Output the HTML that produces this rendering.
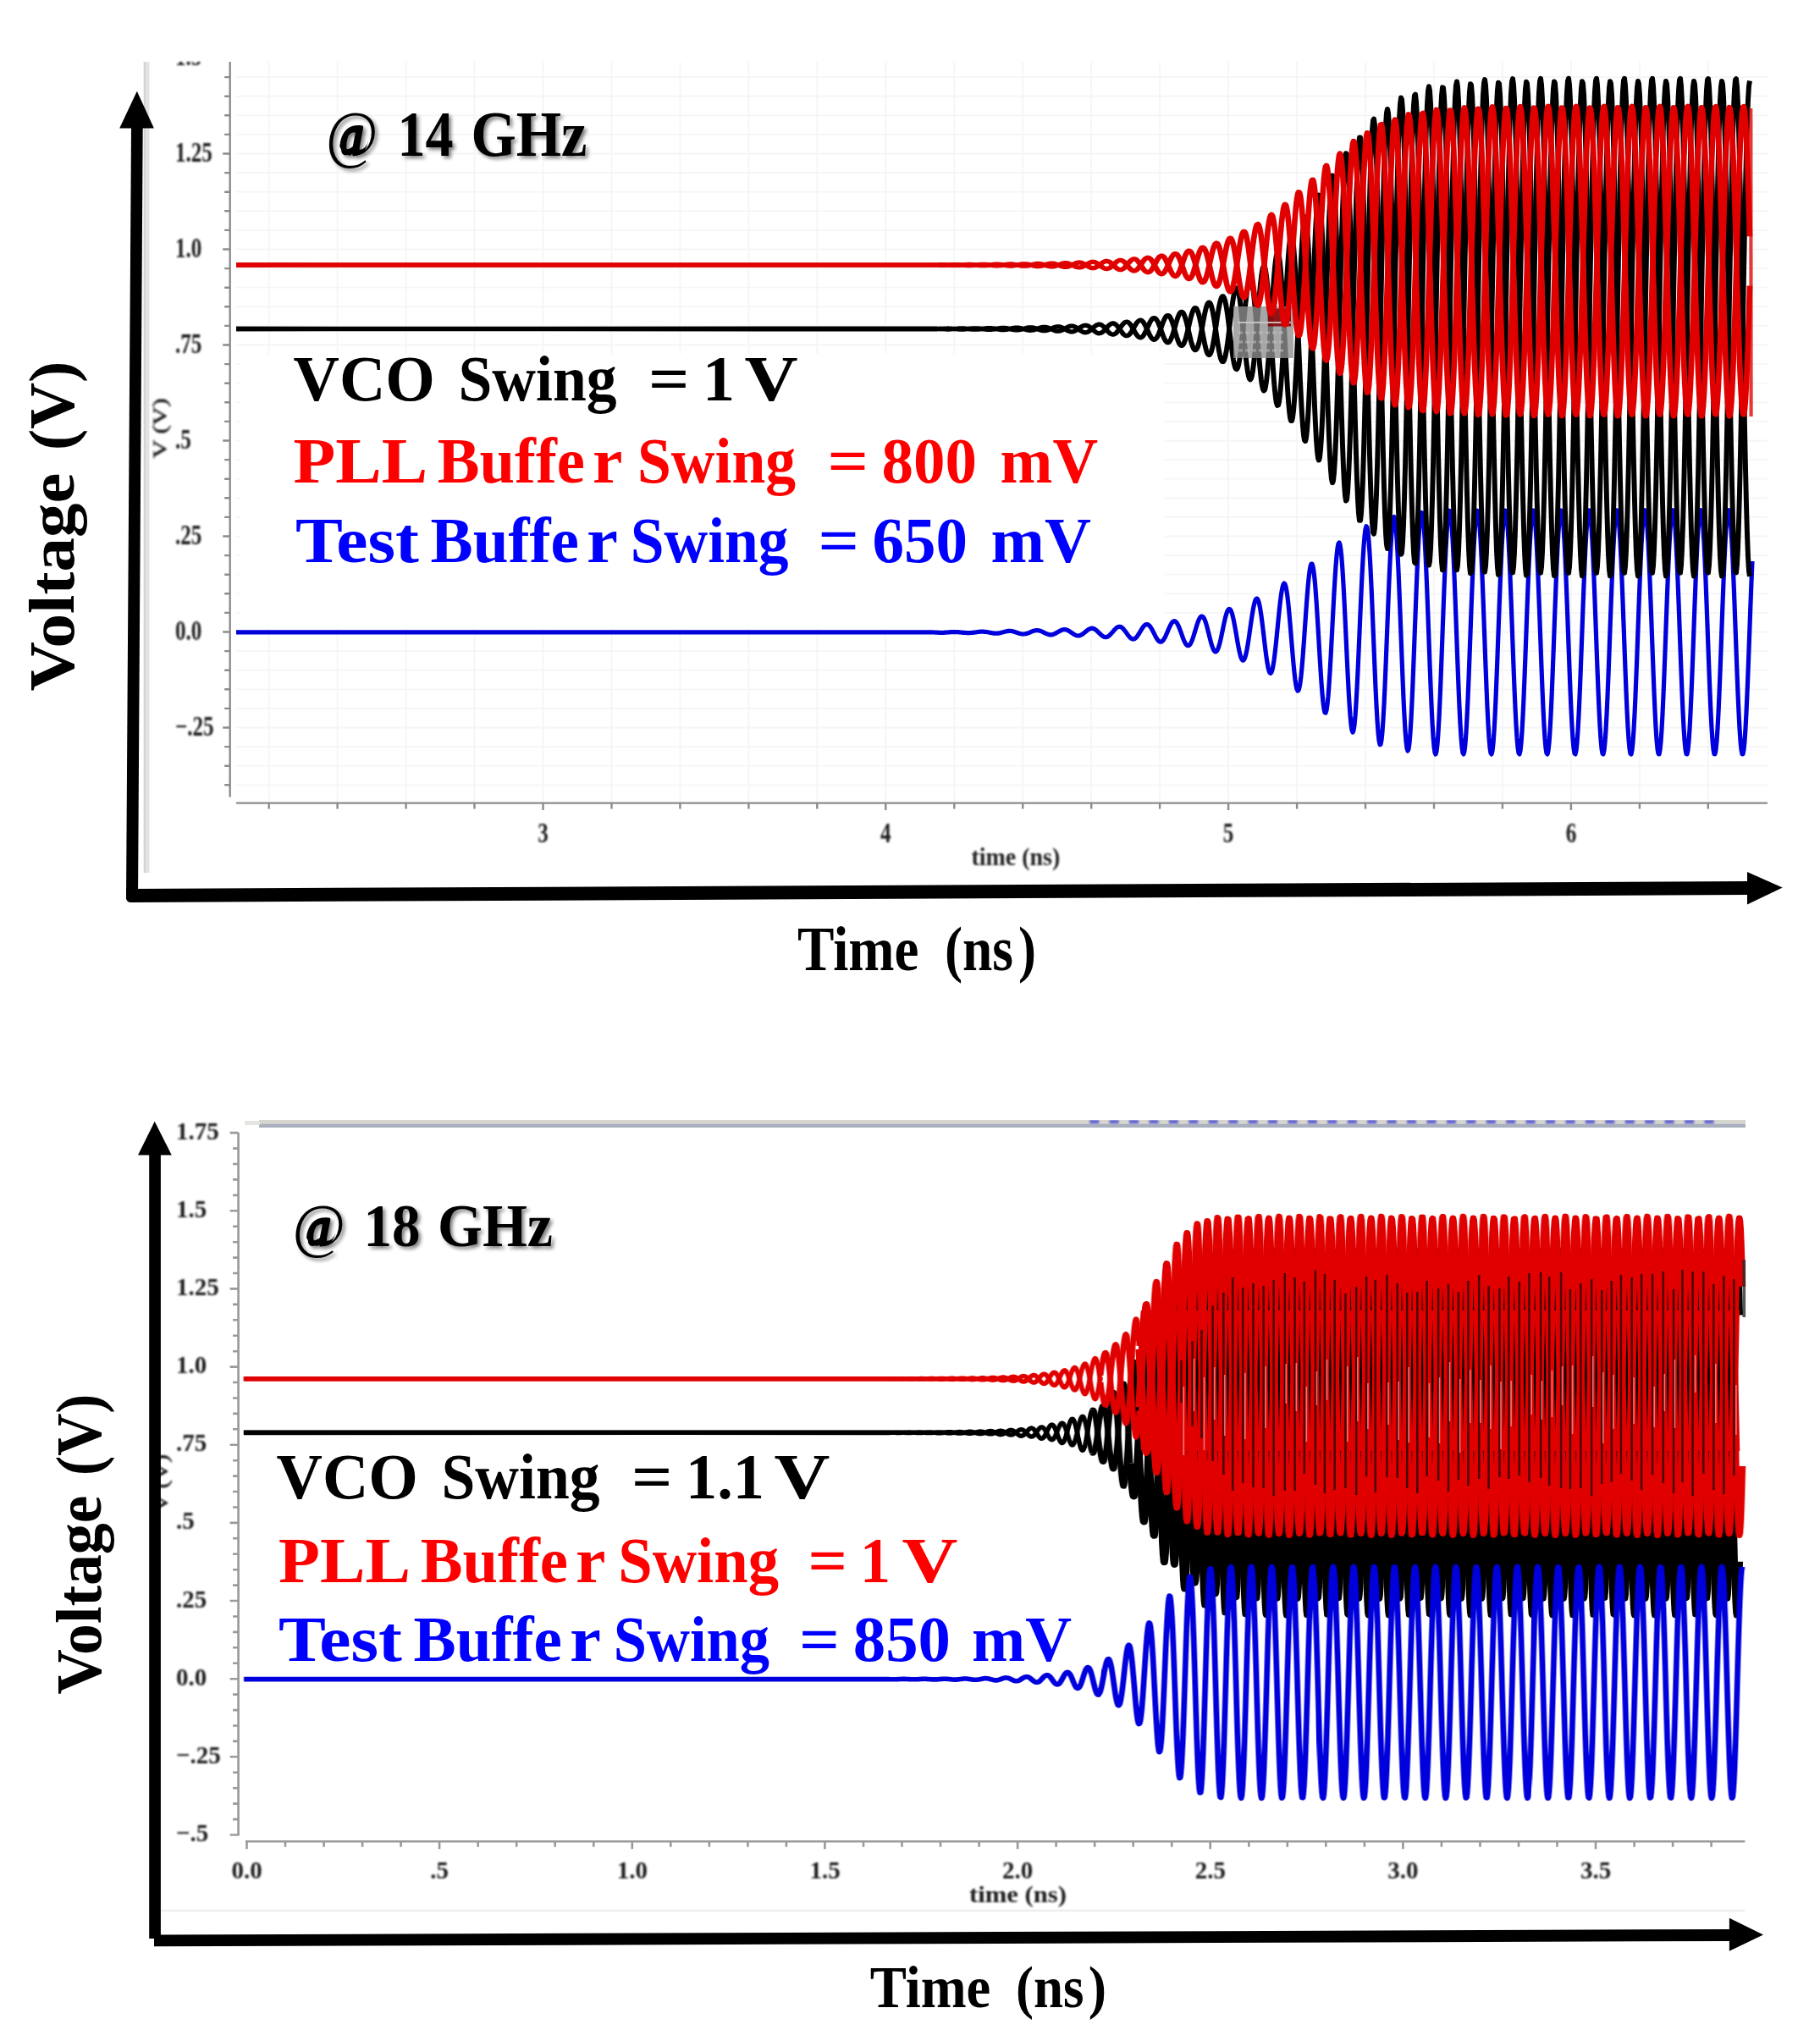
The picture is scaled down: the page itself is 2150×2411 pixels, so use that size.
<!DOCTYPE html>
<html lang="en"><head><meta charset="utf-8"><title>VCO and buffer swing transient simulation</title>
<style>html,body{margin:0;padding:0;background:#fff}svg{display:block}text{font-family:"Liberation Serif", "DejaVu Serif", serif;}</style></head><body>
<svg width="2150" height="2411" viewBox="0 0 2150 2411">
<defs><filter id="b1" x="-5%" y="-5%" width="110%" height="110%"><feGaussianBlur stdDeviation="0.9"/></filter><filter id="b2" x="-5%" y="-5%" width="110%" height="110%"><feGaussianBlur stdDeviation="0.7"/></filter><filter id="sh" x="-10%" y="-20%" width="120%" height="150%"><feGaussianBlur in="SourceAlpha" stdDeviation="1.9" result="b"/><feOffset in="b" dx="3.2" dy="3.2" result="o"/><feComponentTransfer in="o" result="s"><feFuncA type="linear" slope="0.5"/></feComponentTransfer><feMerge><feMergeNode in="s"/><feMergeNode in="SourceGraphic"/></feMerge></filter><clipPath id="cliptop"><rect x="150" y="73" width="200" height="40"/></clipPath></defs>
<rect width="2150" height="2411" fill="#fff"/>
<g id="chart14">
<rect x="169.5" y="73" width="7" height="958" fill="#e3e3e3"/>
<rect x="170" y="73" width="2" height="958" fill="#d4d4d4"/>
<path d="M279.0 927.3H2088.0M279.0 904.7H2088.0M279.0 882.1H2088.0M279.0 859.5H2088.0M279.0 836.9H2088.0M279.0 814.3H2088.0M279.0 791.7H2088.0M279.0 769.1H2088.0M279.0 746.5H2088.0M279.0 723.9H2088.0M279.0 701.3H2088.0M279.0 678.7H2088.0M279.0 656.1H2088.0M279.0 633.5H2088.0M279.0 610.9H2088.0M279.0 588.3H2088.0M279.0 565.7H2088.0M279.0 543.1H2088.0M279.0 520.5H2088.0M279.0 497.9H2088.0M279.0 475.3H2088.0M279.0 452.7H2088.0M279.0 430.1H2088.0M279.0 407.5H2088.0M279.0 384.9H2088.0M279.0 362.3H2088.0M279.0 339.7H2088.0M279.0 317.1H2088.0M279.0 294.5H2088.0M279.0 271.9H2088.0M279.0 249.3H2088.0M279.0 226.7H2088.0M279.0 204.1H2088.0M279.0 181.5H2088.0M279.0 158.9H2088.0M279.0 136.3H2088.0M279.0 113.7H2088.0M279.0 91.1H2088.0M317.7 73.0V948.6M398.6 73.0V948.6M479.6 73.0V948.6M560.5 73.0V948.6M641.5 73.0V948.6M722.5 73.0V948.6M803.4 73.0V948.6M884.4 73.0V948.6M965.3 73.0V948.6M1046.3 73.0V948.6M1127.3 73.0V948.6M1208.2 73.0V948.6M1289.2 73.0V948.6M1370.1 73.0V948.6M1451.1 73.0V948.6M1532.1 73.0V948.6M1613.0 73.0V948.6M1694.0 73.0V948.6M1774.9 73.0V948.6M1855.9 73.0V948.6M1936.9 73.0V948.6M2017.8 73.0V948.6" stroke="#f5f5f5" stroke-width="1.8" fill="none" filter="url(#b2)"/>
<rect x="284" y="418" width="1092" height="324" fill="#fff"/>
<path d="M271.7 73.0V941.5M279.0 948.6H2088.0M265.2 927.3H271.7M265.2 904.7H271.7M265.2 882.1H271.7M263.2 859.5H271.7M265.2 836.9H271.7M265.2 814.3H271.7M265.2 791.7H271.7M265.2 769.1H271.7M263.2 746.5H271.7M265.2 723.9H271.7M265.2 701.3H271.7M265.2 678.7H271.7M265.2 656.1H271.7M263.2 633.5H271.7M265.2 610.9H271.7M265.2 588.3H271.7M265.2 565.7H271.7M265.2 543.1H271.7M263.2 520.5H271.7M265.2 497.9H271.7M265.2 475.3H271.7M265.2 452.7H271.7M265.2 430.1H271.7M263.2 407.5H271.7M265.2 384.9H271.7M265.2 362.3H271.7M265.2 339.7H271.7M265.2 317.1H271.7M263.2 294.5H271.7M265.2 271.9H271.7M265.2 249.3H271.7M265.2 226.7H271.7M265.2 204.1H271.7M263.2 181.5H271.7M265.2 158.9H271.7M265.2 136.3H271.7M265.2 113.7H271.7M265.2 91.1H271.7M317.7 948.6v7M398.6 948.6v7M479.6 948.6v7M560.5 948.6v7M641.5 948.6v8.5M722.5 948.6v7M803.4 948.6v7M884.4 948.6v7M965.3 948.6v7M1046.3 948.6v8.5M1127.3 948.6v7M1208.2 948.6v7M1289.2 948.6v7M1370.1 948.6v7M1451.1 948.6v8.5M1532.1 948.6v7M1613.0 948.6v7M1694.0 948.6v7M1774.9 948.6v7M1855.9 948.6v8.5M1936.9 948.6v7M2017.8 948.6v7" stroke="#8c8c8c" stroke-width="2.4" fill="none" filter="url(#b2)"/>
<g fill="#1c1c1c" font-weight="bold" font-size="33" filter="url(#b1)">
<text transform="translate(207 190.5) scale(0.76 1)">1.25</text>
<text transform="translate(207 303.5) scale(0.76 1)">1.0</text>
<text transform="translate(207 416.5) scale(0.76 1)">.75</text>
<text transform="translate(207 529.5) scale(0.76 1)">.5</text>
<text transform="translate(207 642.5) scale(0.76 1)">.25</text>
<text transform="translate(207 755.5) scale(0.76 1)">0.0</text>
<text transform="translate(207 868.5) scale(0.76 1)">−.25</text>
<g clip-path="url(#cliptop)"><text transform="translate(207 77) scale(0.76 1)">1.5</text></g>
<text transform="translate(641.5 994.5) scale(0.76 1)" text-anchor="middle">3</text>
<text transform="translate(1046.3 994.5) scale(0.76 1)" text-anchor="middle">4</text>
<text transform="translate(1451.1 994.5) scale(0.76 1)" text-anchor="middle">5</text>
<text transform="translate(1855.9 994.5) scale(0.76 1)" text-anchor="middle">6</text>
</g>
<g fill="#222" filter="url(#b1)">
<text transform="translate(1147.5 1021.5) scale(0.8 1)" font-size="30" font-weight="bold" textLength="131" lengthAdjust="spacingAndGlyphs">time (ns)</text>
<text transform="translate(196.5 541.5) rotate(-90)" font-size="23" fill="#111" stroke="#111" stroke-width="0.5" textLength="71" lengthAdjust="spacingAndGlyphs">V (V)</text>
</g>
<g fill="none" stroke-linejoin="round" stroke-linecap="butt" filter="url(#b2)">
<path transform="scale(1.0 1)" d="M279.00 746.8L1100.00 746.9L1101.00 746.9L1102.00 746.9L1103.00 747.0L1104.00 747.0L1105.00 747.1L1106.00 747.2L1107.00 747.2L1108.00 747.2L1109.00 747.3L1110.00 747.3L1111.00 747.3L1112.00 747.3L1113.00 747.3L1114.00 747.3L1115.00 747.3L1116.00 747.2L1117.00 747.2L1118.00 747.1L1119.00 747.0L1120.00 746.9L1121.00 746.9L1122.00 746.8L1123.00 746.7L1124.00 746.7L1125.00 746.6L1126.00 746.6L1127.00 746.6L1128.00 746.6L1129.00 746.6L1130.00 746.6L1131.00 746.6L1132.00 746.7L1133.00 746.8L1134.00 746.9L1135.00 747.0L1136.00 747.1L1137.00 747.2L1138.00 747.3L1139.00 747.4L1140.00 747.4L1141.00 747.5L1142.00 747.6L1143.00 747.6L1144.00 747.6L1145.00 747.6L1146.00 747.6L1147.00 747.5L1148.00 747.4L1149.00 747.3L1150.00 747.2L1151.00 747.1L1152.00 747.0L1153.00 746.8L1154.00 746.7L1155.00 746.5L1156.00 746.4L1157.00 746.3L1158.00 746.2L1159.00 746.2L1160.00 746.1L1161.00 746.1L1162.00 746.2L1163.00 746.3L1164.00 746.4L1165.00 746.5L1166.00 746.6L1167.00 746.8L1168.00 747.0L1169.00 747.2L1170.00 747.4L1171.00 747.6L1172.00 747.8L1173.00 747.9L1174.00 748.1L1175.00 748.1L1176.00 748.2L1177.00 748.2L1178.00 748.2L1179.00 748.1L1180.00 747.9L1181.00 747.8L1182.00 747.6L1183.00 747.3L1184.00 747.0L1185.00 746.8L1186.00 746.5L1187.00 746.2L1188.00 746.0L1189.00 745.7L1190.00 745.6L1191.00 745.4L1192.00 745.3L1193.00 745.3L1194.00 745.4L1195.00 745.5L1196.00 745.7L1197.00 745.9L1198.00 746.2L1199.00 746.5L1200.00 746.9L1201.00 747.2L1202.00 747.6L1203.00 747.9L1204.00 748.2L1205.00 748.5L1206.00 748.7L1207.00 748.9L1208.00 749.0L1209.00 749.0L1210.00 749.0L1211.00 748.8L1212.00 748.6L1213.00 748.4L1214.00 748.0L1215.00 747.7L1216.00 747.3L1217.00 746.8L1218.00 746.4L1219.00 746.0L1220.00 745.6L1221.00 745.3L1222.00 745.0L1223.00 744.8L1224.00 744.7L1225.00 744.6L1226.00 744.7L1227.00 744.8L1228.00 745.0L1229.00 745.3L1230.00 745.7L1231.00 746.1L1232.00 746.6L1233.00 747.1L1234.00 747.6L1235.00 748.1L1236.00 748.5L1237.00 749.0L1238.00 749.3L1239.00 749.6L1240.00 749.8L1241.00 749.8L1242.00 749.8L1243.00 749.7L1244.00 749.4L1245.00 749.1L1246.00 748.7L1247.00 748.2L1248.00 747.6L1249.00 747.0L1250.00 746.4L1251.00 745.9L1252.00 745.3L1253.00 744.8L1254.00 744.3L1255.00 744.0L1256.00 743.8L1257.00 743.6L1258.00 743.6L1259.00 743.8L1260.00 744.0L1261.00 744.4L1262.00 744.9L1263.00 745.5L1264.00 746.1L1265.00 746.8L1266.00 747.5L1267.00 748.2L1268.00 748.9L1269.00 749.5L1270.00 750.0L1271.00 750.5L1272.00 750.8L1273.00 751.0L1274.00 751.0L1275.00 750.9L1276.00 750.6L1277.00 750.2L1278.00 749.6L1279.00 749.0L1280.00 748.2L1281.00 747.4L1282.00 746.6L1283.00 745.7L1284.00 744.9L1285.00 744.2L1286.00 743.5L1287.00 743.0L1288.00 742.6L1289.00 742.3L1290.00 742.2L1291.00 742.3L1292.00 742.6L1293.00 743.1L1294.00 743.7L1295.00 744.5L1296.00 745.3L1297.00 746.3L1298.00 747.3L1299.00 748.3L1300.00 749.2L1301.00 750.2L1302.00 751.0L1303.00 751.7L1304.00 752.2L1305.00 752.5L1306.00 752.7L1307.00 752.6L1308.00 752.3L1309.00 751.8L1310.00 751.1L1311.00 750.2L1312.00 749.2L1313.00 748.1L1314.00 747.0L1315.00 745.8L1316.00 744.6L1317.00 743.5L1318.00 742.5L1319.00 741.6L1320.00 741.0L1321.00 740.5L1322.00 740.3L1323.00 740.3L1324.00 740.6L1325.00 741.2L1326.00 741.9L1327.00 742.9L1328.00 744.1L1329.00 745.3L1330.00 746.7L1331.00 748.1L1332.00 749.6L1333.00 750.9L1334.00 752.1L1335.00 753.2L1336.00 754.0L1337.00 754.6L1338.00 754.9L1339.00 755.0L1340.00 754.7L1341.00 754.1L1342.00 753.3L1343.00 752.2L1344.00 750.8L1345.00 749.3L1346.00 747.7L1347.00 746.0L1348.00 744.3L1349.00 742.7L1350.00 741.2L1351.00 739.9L1352.00 738.9L1353.00 738.1L1354.00 737.6L1355.00 737.5L1356.00 737.8L1357.00 738.4L1358.00 739.3L1359.00 740.6L1360.00 742.1L1361.00 743.8L1362.00 745.7L1363.00 747.7L1364.00 749.7L1365.00 751.7L1366.00 753.5L1367.00 755.1L1368.00 756.4L1369.00 757.4L1370.00 758.0L1371.00 758.3L1372.00 758.1L1373.00 757.4L1374.00 756.4L1375.00 755.0L1376.00 753.3L1377.00 751.3L1378.00 749.0L1379.00 746.7L1380.00 744.3L1381.00 742.0L1382.00 739.8L1383.00 737.8L1384.00 736.2L1385.00 734.9L1386.00 734.1L1387.00 733.7L1388.00 733.8L1389.00 734.4L1390.00 735.5L1391.00 737.1L1392.00 739.1L1393.00 741.4L1394.00 744.0L1395.00 746.7L1396.00 749.5L1397.00 752.3L1398.00 755.0L1399.00 757.4L1400.00 759.4L1401.00 761.0L1402.00 762.1L1403.00 762.7L1404.00 762.7L1405.00 762.2L1406.00 761.0L1407.00 759.2L1408.00 757.0L1409.00 754.3L1410.00 751.3L1411.00 748.1L1412.00 744.7L1413.00 741.4L1414.00 738.1L1415.00 735.2L1416.00 732.6L1417.00 730.5L1418.00 729.0L1419.00 728.1L1420.00 728.0L1421.00 728.5L1422.00 729.8L1423.00 731.7L1424.00 734.3L1425.00 737.4L1426.00 741.0L1427.00 744.8L1428.00 748.8L1429.00 752.9L1430.00 756.8L1431.00 760.5L1432.00 763.7L1433.00 766.4L1434.00 768.4L1435.00 769.6L1436.00 770.0L1437.00 769.5L1438.00 768.2L1439.00 766.0L1440.00 763.1L1441.00 759.4L1442.00 755.3L1443.00 750.7L1444.00 745.9L1445.00 741.0L1446.00 736.2L1447.00 731.7L1448.00 727.7L1449.00 724.4L1450.00 721.8L1451.00 720.1L1452.00 719.4L1453.00 719.7L1454.00 721.1L1455.00 723.5L1456.00 726.8L1457.00 731.0L1458.00 735.9L1459.00 741.3L1460.00 747.0L1461.00 752.9L1462.00 758.7L1463.00 764.2L1464.00 769.1L1465.00 773.4L1466.00 776.7L1467.00 779.0L1468.00 780.1L1469.00 780.0L1470.00 778.6L1471.00 776.0L1472.00 772.3L1473.00 767.5L1474.00 761.8L1475.00 755.4L1476.00 748.5L1477.00 741.5L1478.00 734.4L1479.00 727.7L1480.00 721.6L1481.00 716.3L1482.00 712.0L1483.00 708.9L1484.00 707.2L1485.00 707.0L1486.00 708.3L1487.00 711.1L1488.00 715.3L1489.00 720.9L1490.00 727.5L1491.00 735.1L1492.00 743.2L1493.00 751.7L1494.00 760.3L1495.00 768.5L1496.00 776.1L1497.00 782.8L1498.00 788.3L1499.00 792.3L1500.00 794.7L1501.00 795.4L1502.00 794.2L1503.00 791.2L1504.00 786.4L1505.00 780.1L1506.00 772.4L1507.00 763.5L1508.00 753.8L1509.00 743.6L1510.00 733.3L1511.00 723.4L1512.00 714.1L1513.00 705.8L1514.00 698.9L1515.00 693.7L1516.00 690.4L1517.00 689.1L1518.00 690.0L1519.00 693.1L1520.00 698.4L1521.00 705.5L1522.00 714.4L1523.00 724.8L1524.00 736.2L1525.00 748.3L1526.00 760.6L1527.00 772.6L1528.00 784.0L1529.00 794.2L1530.00 802.9L1531.00 809.6L1532.00 814.1L1533.00 816.1L1534.00 815.5L1535.00 812.3L1536.00 806.6L1537.00 798.5L1538.00 788.3L1539.00 776.3L1540.00 763.0L1541.00 748.7L1542.00 734.2L1543.00 719.8L1544.00 706.2L1545.00 693.8L1546.00 683.3L1547.00 674.9L1548.00 669.0L1549.00 666.0L1550.00 666.0L1551.00 669.1L1552.00 675.2L1553.00 684.1L1554.00 695.6L1555.00 709.3L1556.00 724.6L1557.00 741.1L1558.00 758.2L1559.00 775.2L1560.00 791.4L1561.00 806.3L1562.00 819.3L1563.00 829.8L1564.00 837.3L1565.00 841.6L1566.00 842.1L1567.00 839.0L1568.00 832.4L1569.00 822.5L1570.00 809.6L1571.00 794.2L1572.00 776.8L1573.00 758.0L1574.00 738.6L1575.00 719.3L1576.00 700.7L1577.00 683.6L1578.00 668.7L1579.00 656.5L1580.00 647.6L1581.00 642.3L1582.00 640.9L1583.00 643.4L1584.00 649.9L1585.00 660.1L1586.00 673.8L1587.00 690.4L1588.00 709.3L1589.00 729.9L1590.00 751.4L1591.00 773.1L1592.00 794.0L1593.00 813.5L1594.00 830.7L1595.00 845.0L1596.00 855.8L1597.00 862.6L1598.00 865.1L1599.00 862.9L1600.00 856.4L1601.00 845.7L1602.00 831.2L1603.00 813.4L1604.00 793.1L1605.00 770.8L1606.00 747.5L1607.00 724.1L1608.00 701.3L1609.00 680.0L1610.00 661.1L1611.00 645.3L1612.00 633.1L1613.00 625.2L1614.00 621.7L1615.00 622.9L1616.00 628.7L1617.00 639.0L1618.00 653.4L1619.00 671.5L1620.00 692.4L1621.00 715.6L1622.00 740.1L1623.00 765.0L1624.00 789.4L1625.00 812.5L1626.00 833.2L1627.00 850.9L1628.00 864.9L1629.00 874.6L1630.00 879.6L1631.00 879.4L1632.00 874.3L1633.00 864.4L1634.00 850.2L1635.00 832.1L1636.00 810.8L1637.00 787.1L1638.00 761.8L1639.00 735.8L1640.00 710.3L1641.00 686.0L1642.00 663.8L1643.00 644.7L1644.00 629.4L1645.00 618.3L1646.00 612.0L1647.00 610.6L1648.00 614.3L1649.00 622.9L1650.00 636.1L1651.00 653.4L1652.00 674.2L1653.00 697.8L1654.00 723.3L1655.00 749.8L1656.00 776.2L1657.00 801.6L1658.00 825.1L1659.00 845.7L1660.00 862.8L1661.00 875.7L1662.00 883.9L1663.00 887.0L1664.00 884.9L1665.00 877.8L1666.00 865.8L1667.00 849.5L1668.00 829.3L1669.00 806.1L1670.00 780.7L1671.00 754.0L1672.00 727.0L1673.00 700.7L1674.00 676.0L1675.00 654.0L1676.00 635.3L1677.00 620.6L1678.00 610.6L1679.00 605.5L1680.00 605.7L1681.00 611.0L1682.00 621.2L1683.00 636.1L1684.00 655.1L1685.00 677.5L1686.00 702.5L1687.00 729.1L1688.00 756.4L1689.00 783.4L1690.00 809.2L1691.00 832.7L1692.00 853.1L1693.00 869.7L1694.00 881.8L1695.00 889.0L1696.00 891.0L1697.00 887.6L1698.00 879.2L1699.00 866.0L1700.00 848.4L1701.00 827.1L1702.00 802.9L1703.00 776.7L1704.00 749.4L1705.00 722.1L1706.00 695.6L1707.00 671.0L1708.00 649.2L1709.00 630.9L1710.00 616.8L1711.00 607.5L1712.00 603.2L1713.00 604.2L1714.00 610.3L1715.00 621.4L1716.00 637.0L1717.00 656.7L1718.00 679.5L1719.00 704.9L1720.00 731.7L1721.00 759.1L1722.00 786.1L1723.00 811.6L1724.00 834.9L1725.00 854.9L1726.00 871.0L1727.00 882.6L1728.00 889.4L1729.00 890.9L1730.00 887.3L1731.00 878.6L1732.00 865.1L1733.00 847.3L1734.00 825.9L1735.00 801.7L1736.00 775.4L1737.00 748.2L1738.00 720.9L1739.00 694.5L1740.00 670.0L1741.00 648.4L1742.00 630.3L1743.00 616.4L1744.00 607.2L1745.00 603.2L1746.00 604.3L1747.00 610.6L1748.00 621.8L1749.00 637.6L1750.00 657.3L1751.00 680.3L1752.00 705.7L1753.00 732.5L1754.00 760.0L1755.00 786.9L1756.00 812.4L1757.00 835.5L1758.00 855.5L1759.00 871.5L1760.00 883.0L1761.00 889.5L1762.00 890.9L1763.00 887.1L1764.00 878.3L1765.00 864.6L1766.00 846.8L1767.00 825.3L1768.00 800.9L1769.00 774.6L1770.00 747.3L1771.00 720.0L1772.00 693.7L1773.00 669.3L1774.00 647.7L1775.00 629.7L1776.00 616.0L1777.00 607.0L1778.00 603.1L1779.00 604.3L1780.00 610.8L1781.00 622.2L1782.00 638.1L1783.00 657.9L1784.00 681.0L1785.00 706.4L1786.00 733.4L1787.00 760.8L1788.00 787.7L1789.00 813.2L1790.00 836.2L1791.00 856.0L1792.00 871.9L1793.00 883.3L1794.00 889.7L1795.00 890.9L1796.00 887.0L1797.00 878.0L1798.00 864.2L1799.00 846.2L1800.00 824.6L1801.00 800.2L1802.00 773.8L1803.00 746.5L1804.00 719.2L1805.00 692.9L1806.00 668.6L1807.00 647.1L1808.00 629.2L1809.00 615.6L1810.00 606.8L1811.00 603.0L1812.00 604.4L1813.00 611.0L1814.00 622.5L1815.00 638.6L1816.00 658.5L1817.00 681.7L1818.00 707.2L1819.00 734.2L1820.00 761.6L1821.00 788.5L1822.00 813.9L1823.00 836.9L1824.00 856.6L1825.00 872.4L1826.00 883.6L1827.00 889.8L1828.00 890.9L1829.00 886.8L1830.00 877.7L1831.00 863.7L1832.00 845.6L1833.00 823.9L1834.00 799.4L1835.00 773.0L1836.00 745.7L1837.00 718.4L1838.00 692.2L1839.00 667.9L1840.00 646.5L1841.00 628.7L1842.00 615.3L1843.00 606.5L1844.00 602.9L1845.00 604.5L1846.00 611.3L1847.00 622.9L1848.00 639.1L1849.00 659.2L1850.00 682.4L1851.00 708.0L1852.00 735.0L1853.00 762.4L1854.00 789.3L1855.00 814.7L1856.00 837.5L1857.00 857.2L1858.00 872.8L1859.00 883.9L1860.00 890.0L1861.00 890.9L1862.00 886.7L1863.00 877.3L1864.00 863.3L1865.00 845.0L1866.00 823.2L1867.00 798.7L1868.00 772.2L1869.00 744.9L1870.00 717.6L1871.00 691.4L1872.00 667.2L1873.00 645.9L1874.00 628.2L1875.00 614.9L1876.00 606.3L1877.00 602.8L1878.00 604.6L1879.00 611.5L1880.00 623.3L1881.00 639.6L1882.00 659.8L1883.00 683.1L1884.00 708.8L1885.00 735.8L1886.00 763.3L1887.00 790.1L1888.00 815.4L1889.00 838.2L1890.00 857.7L1891.00 873.2L1892.00 884.2L1893.00 890.1L1894.00 890.9L1895.00 886.5L1896.00 877.0L1897.00 862.8L1898.00 844.5L1899.00 822.5L1900.00 797.9L1901.00 771.4L1902.00 744.0L1903.00 716.8L1904.00 690.6L1905.00 666.5L1906.00 645.3L1907.00 627.7L1908.00 614.5L1909.00 606.1L1910.00 602.8L1911.00 604.7L1912.00 611.7L1913.00 623.7L1914.00 640.1L1915.00 660.4L1916.00 683.8L1917.00 709.6L1918.00 736.6L1919.00 764.1L1920.00 790.9L1921.00 816.1L1922.00 838.9L1923.00 858.3L1924.00 873.7L1925.00 884.5L1926.00 890.3L1927.00 890.9L1928.00 886.3L1929.00 876.7L1930.00 862.4L1931.00 843.9L1932.00 821.9L1933.00 797.1L1934.00 770.6L1935.00 743.2L1936.00 716.0L1937.00 689.8L1938.00 665.8L1939.00 644.6L1940.00 627.2L1941.00 614.2L1942.00 605.9L1943.00 602.7L1944.00 604.8L1945.00 612.0L1946.00 624.1L1947.00 640.7L1948.00 661.1L1949.00 684.6L1950.00 710.3L1951.00 737.4L1952.00 764.9L1953.00 791.7L1954.00 816.9L1955.00 839.5L1956.00 858.8L1957.00 874.1L1958.00 884.7L1959.00 890.4L1960.00 890.9L1961.00 886.1L1962.00 876.4L1963.00 861.9L1964.00 843.3L1965.00 821.2L1966.00 796.4L1967.00 769.8L1968.00 742.4L1969.00 715.1L1970.00 689.1L1971.00 665.1L1972.00 644.0L1973.00 626.7L1974.00 613.8L1975.00 605.7L1976.00 602.7L1977.00 604.9L1978.00 612.3L1979.00 624.5L1980.00 641.2L1981.00 661.7L1982.00 685.3L1983.00 711.1L1984.00 738.3L1985.00 765.7L1986.00 792.5L1987.00 817.6L1988.00 840.2L1989.00 859.4L1990.00 874.5L1991.00 885.0L1992.00 890.5L1993.00 890.9L1994.00 886.0L1995.00 876.0L1996.00 861.4L1997.00 842.7L1998.00 820.5L1999.00 795.6L2000.00 769.0L2001.00 741.6L2002.00 714.3L2003.00 688.3L2004.00 664.4L2005.00 643.4L2006.00 626.3L2007.00 613.4L2008.00 605.5L2009.00 602.6L2010.00 605.0L2011.00 612.5L2012.00 624.9L2013.00 641.7L2014.00 662.3L2015.00 686.0L2016.00 711.9L2017.00 739.1L2018.00 766.5L2019.00 793.3L2020.00 818.4L2021.00 840.9L2022.00 859.9L2023.00 874.9L2024.00 885.3L2025.00 890.7L2026.00 890.8L2027.00 885.8L2028.00 875.7L2029.00 861.0L2030.00 842.1L2031.00 819.8L2032.00 794.9L2033.00 768.2L2034.00 740.7L2035.00 713.5L2036.00 687.5L2037.00 663.7L2038.00 642.8L2039.00 625.8L2040.00 613.1L2041.00 605.3L2042.00 602.6L2043.00 605.1L2044.00 612.8L2045.00 625.3L2046.00 642.3L2047.00 663.0L2048.00 686.8L2049.00 712.7L2050.00 739.9L2051.00 767.4L2052.00 794.1L2053.00 819.1L2054.00 841.5L2055.00 860.5L2056.00 875.4L2057.00 885.6L2058.00 890.8L2059.00 890.8L2060.00 885.6L2061.00 875.4L2062.00 860.5L2063.00 841.5L2064.00 819.1L2065.00 794.1L2066.00 767.4L2067.00 739.9L2068.00 712.7L2069.00 686.7L2070.00 663.0" stroke="#0000dc" stroke-width="5.2"/>
<path transform="scale(1.12 1)" d="M249.11 388.5L982.14 388.2L983.04 388.2L983.93 388.2L984.82 388.1L985.71 388.1L986.61 388.1L987.50 388.2L988.39 388.2L989.29 388.3L990.18 388.3L991.07 388.4L991.96 388.5L992.86 388.5L993.75 388.6L994.64 388.7L995.54 388.8L996.43 388.8L997.32 388.9L998.21 388.9L999.11 389.0L1000.00 389.0L1000.89 389.0L1001.79 388.9L1002.68 388.9L1003.57 388.8L1004.46 388.7L1005.36 388.7L1006.25 388.6L1007.14 388.5L1008.04 388.4L1008.93 388.3L1009.82 388.2L1010.71 388.1L1011.61 388.0L1012.50 388.0L1013.39 387.9L1014.29 387.9L1015.18 387.9L1016.07 388.0L1016.96 388.0L1017.86 388.1L1018.75 388.2L1019.64 388.3L1020.54 388.4L1021.43 388.5L1022.32 388.6L1023.21 388.8L1024.11 388.9L1025.00 389.0L1025.89 389.1L1026.79 389.1L1027.68 389.2L1028.57 389.2L1029.46 389.2L1030.36 389.2L1031.25 389.1L1032.14 389.0L1033.04 388.9L1033.93 388.8L1034.82 388.7L1035.71 388.5L1036.61 388.4L1037.50 388.2L1038.39 388.1L1039.29 387.9L1040.18 387.8L1041.07 387.7L1041.96 387.6L1042.86 387.6L1043.75 387.6L1044.64 387.6L1045.54 387.7L1046.43 387.8L1047.32 387.9L1048.21 388.1L1049.11 388.2L1050.00 388.4L1050.89 388.6L1051.79 388.8L1052.68 389.0L1053.57 389.2L1054.46 389.3L1055.36 389.5L1056.25 389.6L1057.14 389.6L1058.04 389.6L1058.93 389.6L1059.82 389.5L1060.71 389.4L1061.61 389.3L1062.50 389.1L1063.39 388.9L1064.29 388.6L1065.18 388.4L1066.07 388.2L1066.96 387.9L1067.86 387.7L1068.75 387.5L1069.64 387.3L1070.54 387.2L1071.43 387.1L1072.32 387.1L1073.21 387.1L1074.11 387.2L1075.00 387.3L1075.89 387.5L1076.79 387.7L1077.68 388.0L1078.57 388.2L1079.46 388.5L1080.36 388.9L1081.25 389.2L1082.14 389.4L1083.04 389.7L1083.93 389.9L1084.82 390.1L1085.71 390.2L1086.61 390.3L1087.50 390.2L1088.39 390.2L1089.29 390.0L1090.18 389.8L1091.07 389.6L1091.96 389.2L1092.86 388.9L1093.75 388.5L1094.64 388.1L1095.54 387.8L1096.43 387.4L1097.32 387.1L1098.21 386.8L1099.11 386.6L1100.00 386.4L1100.89 386.3L1101.79 386.3L1102.68 386.4L1103.57 386.6L1104.46 386.8L1105.36 387.1L1106.25 387.5L1107.14 387.9L1108.04 388.4L1108.93 388.8L1109.82 389.3L1110.71 389.8L1111.61 390.2L1112.50 390.6L1113.39 390.9L1114.29 391.1L1115.18 391.2L1116.07 391.2L1116.96 391.2L1117.86 391.0L1118.75 390.7L1119.64 390.3L1120.54 389.9L1121.43 389.4L1122.32 388.8L1123.21 388.2L1124.11 387.6L1125.00 387.0L1125.89 386.5L1126.79 386.0L1127.68 385.6L1128.57 385.3L1129.46 385.1L1130.36 385.1L1131.25 385.1L1132.14 385.3L1133.04 385.7L1133.93 386.1L1134.82 386.6L1135.71 387.3L1136.61 388.0L1137.50 388.7L1138.39 389.4L1139.29 390.2L1140.18 390.8L1141.07 391.5L1141.96 392.0L1142.86 392.4L1143.75 392.7L1144.64 392.8L1145.54 392.7L1146.43 392.5L1147.32 392.1L1148.21 391.6L1149.11 391.0L1150.00 390.2L1150.89 389.4L1151.79 388.5L1152.68 387.5L1153.57 386.6L1154.46 385.8L1155.36 385.0L1156.25 384.3L1157.14 383.7L1158.04 383.4L1158.93 383.2L1159.82 383.2L1160.71 383.4L1161.61 383.8L1162.50 384.4L1163.39 385.2L1164.29 386.1L1165.18 387.2L1166.07 388.3L1166.96 389.4L1167.86 390.6L1168.75 391.7L1169.64 392.7L1170.54 393.6L1171.43 394.3L1172.32 394.8L1173.21 395.1L1174.11 395.1L1175.00 394.9L1175.89 394.5L1176.79 393.8L1177.68 392.9L1178.57 391.7L1179.46 390.5L1180.36 389.1L1181.25 387.7L1182.14 386.2L1183.04 384.8L1183.93 383.5L1184.82 382.4L1185.71 381.4L1186.61 380.7L1187.50 380.3L1188.39 380.2L1189.29 380.4L1190.18 380.9L1191.07 381.7L1191.96 382.8L1192.86 384.1L1193.75 385.7L1194.64 387.4L1195.54 389.1L1196.43 390.9L1197.32 392.7L1198.21 394.4L1199.11 395.8L1200.00 397.1L1200.89 398.0L1201.79 398.6L1202.68 398.9L1203.57 398.7L1204.46 398.2L1205.36 397.3L1206.25 396.0L1207.14 394.4L1208.04 392.5L1208.93 390.4L1209.82 388.2L1210.71 385.9L1211.61 383.7L1212.50 381.6L1213.39 379.7L1214.29 378.1L1215.18 376.8L1216.07 376.0L1216.96 375.6L1217.86 375.6L1218.75 376.2L1219.64 377.3L1220.54 378.8L1221.43 380.7L1222.32 383.0L1223.21 385.5L1224.11 388.2L1225.00 391.0L1225.89 393.8L1226.79 396.5L1227.68 399.0L1228.57 401.1L1229.46 402.8L1230.36 403.9L1231.25 404.6L1232.14 404.6L1233.04 404.1L1233.93 402.9L1234.82 401.1L1235.71 398.8L1236.61 396.1L1237.50 393.0L1238.39 389.6L1239.29 386.1L1240.18 382.6L1241.07 379.2L1241.96 376.1L1242.86 373.4L1243.75 371.1L1244.64 369.5L1245.54 368.5L1246.43 368.3L1247.32 368.8L1248.21 370.1L1249.11 372.2L1250.00 374.9L1250.89 378.2L1251.79 382.0L1252.68 386.1L1253.57 390.5L1254.46 394.9L1255.36 399.1L1256.25 403.1L1257.14 406.6L1258.04 409.6L1258.93 411.8L1259.82 413.2L1260.71 413.7L1261.61 413.2L1262.50 411.8L1263.39 409.5L1264.29 406.3L1265.18 402.3L1266.07 397.7L1266.96 392.6L1267.86 387.2L1268.75 381.7L1269.64 376.4L1270.54 371.3L1271.43 366.8L1272.32 362.9L1273.21 359.9L1274.11 358.0L1275.00 357.1L1275.89 357.4L1276.79 358.9L1277.68 361.6L1278.57 365.3L1279.46 370.1L1280.36 375.7L1281.25 381.9L1282.14 388.5L1283.04 395.3L1283.93 402.1L1284.82 408.5L1285.71 414.3L1286.61 419.3L1287.50 423.3L1288.39 426.0L1289.29 427.4L1290.18 427.3L1291.07 425.8L1291.96 422.8L1292.86 418.4L1293.75 412.8L1294.64 406.1L1295.54 398.5L1296.43 390.3L1297.32 381.8L1298.21 373.4L1299.11 365.3L1300.00 357.9L1300.89 351.4L1301.79 346.2L1302.68 342.4L1303.57 340.3L1304.46 339.9L1305.36 341.4L1306.25 344.8L1307.14 349.8L1308.04 356.5L1308.93 364.6L1309.82 373.8L1310.71 383.8L1311.61 394.3L1312.50 404.8L1313.39 414.9L1314.29 424.4L1315.18 432.7L1316.07 439.5L1316.96 444.6L1317.86 447.7L1318.75 448.6L1319.64 447.3L1320.54 443.6L1321.43 437.8L1322.32 429.9L1323.21 420.3L1324.11 409.2L1325.00 397.0L1325.89 384.1L1326.79 371.1L1327.68 358.4L1328.57 346.5L1329.46 335.8L1330.36 326.9L1331.25 320.2L1332.14 315.8L1333.04 314.1L1333.93 315.1L1334.82 319.0L1335.71 325.6L1336.61 334.8L1337.50 346.2L1338.39 359.5L1339.29 374.3L1340.18 390.0L1341.07 406.0L1341.96 421.8L1342.86 436.7L1343.75 450.1L1344.64 461.6L1345.54 470.5L1346.43 476.5L1347.32 479.3L1348.21 478.8L1349.11 474.8L1350.00 467.3L1350.89 456.7L1351.79 443.3L1352.68 427.4L1353.57 409.6L1354.46 390.6L1355.36 371.0L1356.25 351.6L1357.14 333.2L1358.04 316.3L1358.93 301.8L1359.82 290.3L1360.71 282.1L1361.61 277.9L1362.50 277.7L1363.39 281.7L1364.29 289.8L1365.18 301.9L1366.07 317.5L1366.96 336.2L1367.86 357.3L1368.75 380.1L1369.64 403.7L1370.54 427.2L1371.43 449.8L1372.32 470.6L1373.21 488.7L1374.11 503.3L1375.00 514.0L1375.89 520.1L1376.79 521.3L1377.68 517.5L1378.57 508.7L1379.46 495.1L1380.36 477.2L1381.25 455.5L1382.14 430.8L1383.04 403.9L1383.93 375.9L1384.82 347.7L1385.71 320.5L1386.61 295.3L1387.50 273.1L1388.39 254.8L1389.29 241.1L1390.18 232.8L1391.07 230.2L1391.96 233.5L1392.86 242.7L1393.75 257.6L1394.64 277.8L1395.54 302.5L1396.43 330.9L1397.32 361.9L1398.21 394.6L1399.11 427.6L1400.00 459.7L1400.89 489.6L1401.79 516.2L1402.68 538.5L1403.57 555.4L1404.46 566.2L1405.36 570.5L1406.25 568.0L1407.14 558.6L1408.04 542.5L1408.93 520.3L1409.82 492.8L1410.71 460.8L1411.61 425.6L1412.50 388.4L1413.39 350.5L1414.29 313.5L1415.18 278.8L1416.07 247.6L1416.96 221.2L1417.86 200.8L1418.75 187.1L1419.64 180.8L1420.54 182.2L1421.43 191.4L1422.32 208.1L1423.21 231.9L1424.11 261.8L1425.00 296.8L1425.89 335.7L1426.79 377.1L1427.68 419.3L1428.57 460.9L1429.46 500.2L1430.36 535.7L1431.25 566.0L1432.14 590.0L1433.04 606.6L1433.93 615.1L1434.82 615.1L1435.71 606.6L1436.61 589.7L1437.50 565.0L1438.39 533.4L1439.29 496.0L1440.18 454.2L1441.07 409.4L1441.96 363.4L1442.86 317.8L1443.75 274.5L1444.64 234.9L1445.54 200.8L1446.43 173.3L1447.32 153.6L1448.21 142.4L1449.11 140.3L1450.00 147.4L1450.89 163.6L1451.79 188.2L1452.68 220.4L1453.57 259.1L1454.46 302.8L1455.36 350.0L1456.25 398.9L1457.14 447.6L1458.04 494.5L1458.93 537.6L1459.82 575.4L1460.71 606.4L1461.61 629.5L1462.50 643.6L1463.39 648.3L1464.29 643.4L1465.18 628.8L1466.07 605.2L1466.96 573.4L1467.86 534.5L1468.75 489.9L1469.64 441.2L1470.54 390.4L1471.43 339.1L1472.32 289.4L1473.21 243.0L1474.11 201.8L1475.00 167.3L1475.89 140.7L1476.79 123.1L1477.68 115.2L1478.57 117.3L1479.46 129.4L1480.36 151.0L1481.25 181.4L1482.14 219.5L1483.04 263.9L1483.93 312.9L1484.82 364.9L1485.71 417.8L1486.61 469.8L1487.50 518.8L1488.39 563.2L1489.29 601.1L1490.18 631.3L1491.07 652.6L1491.96 664.2L1492.86 665.6L1493.75 656.7L1494.64 637.9L1495.54 609.8L1496.43 573.5L1497.32 530.2L1498.21 481.6L1499.11 429.4L1500.00 375.5L1500.89 321.9L1501.79 270.6L1502.68 223.4L1503.57 182.1L1504.46 148.2L1505.36 123.0L1506.25 107.4L1507.14 101.9L1508.04 106.9L1508.93 122.1L1509.82 147.0L1510.71 180.7L1511.61 222.0L1512.50 269.3L1513.39 321.0L1514.29 375.1L1515.18 429.8L1516.07 482.9L1516.96 532.6L1517.86 577.0L1518.75 614.6L1519.64 643.8L1520.54 663.8L1521.43 673.7L1522.32 673.1L1523.21 662.1L1524.11 641.1L1525.00 610.8L1525.89 572.3L1526.79 527.1L1527.68 476.7L1528.57 422.9L1529.46 367.9L1530.36 313.4L1531.25 261.6L1532.14 214.2L1533.04 173.1L1533.93 139.7L1534.82 115.2L1535.71 100.5L1536.61 96.2L1537.50 102.4L1538.39 118.9L1539.29 145.1L1540.18 180.1L1541.07 222.6L1541.96 271.0L1542.86 323.7L1543.75 378.6L1544.64 433.9L1545.54 487.5L1546.43 537.5L1547.32 582.1L1548.21 619.6L1549.11 648.6L1550.00 668.2L1550.89 677.6L1551.79 676.4L1552.68 664.8L1553.57 643.1L1554.46 612.0L1555.36 572.8L1556.25 526.8L1557.14 475.7L1558.04 421.4L1558.93 365.8L1559.82 310.9L1560.71 258.7L1561.61 211.2L1562.50 169.9L1563.39 136.5L1564.29 112.2L1565.18 97.8L1566.07 93.8L1566.96 100.4L1567.86 117.4L1568.75 144.2L1569.64 179.7L1570.54 222.7L1571.43 271.7L1572.32 324.8L1573.21 380.2L1574.11 435.9L1575.00 489.7L1575.89 539.9L1576.79 584.5L1577.68 621.9L1578.57 650.8L1579.46 670.2L1580.36 679.3L1581.25 677.7L1582.14 665.7L1583.04 643.5L1583.93 612.0L1584.82 572.4L1585.71 526.0L1586.61 474.5L1587.50 419.9L1588.39 364.0L1589.29 309.0L1590.18 256.7L1591.07 209.1L1591.96 168.0L1592.86 134.7L1593.75 110.6L1594.64 96.5L1595.54 92.8L1596.43 99.8L1597.32 117.2L1598.21 144.3L1599.11 180.2L1600.00 223.6L1600.89 272.9L1601.79 326.3L1602.68 381.9L1603.57 437.6L1604.46 491.6L1605.36 541.7L1606.25 586.2L1607.14 623.4L1608.04 652.1L1608.93 671.2L1609.82 680.0L1610.71 678.1L1611.61 665.7L1612.50 643.2L1613.39 611.4L1614.29 571.4L1615.18 524.7L1616.07 473.1L1616.96 418.3L1617.86 362.3L1618.75 307.2L1619.64 255.0L1620.54 207.5L1621.43 166.5L1622.32 133.5L1623.21 109.6L1624.11 95.8L1625.00 92.5L1625.89 99.8L1626.79 117.5L1627.68 145.0L1628.57 181.2L1629.46 224.8L1630.36 274.3L1631.25 327.9L1632.14 383.6L1633.04 439.4L1633.93 493.2L1634.82 543.3L1635.71 587.6L1636.61 624.7L1637.50 653.1L1638.39 671.9L1639.29 680.4L1640.18 678.2L1641.07 665.4L1641.96 642.6L1642.86 610.5L1643.75 570.2L1644.64 523.4L1645.54 471.5L1646.43 416.6L1647.32 360.6L1648.21 305.5L1649.11 253.4L1650.00 206.1L1650.89 165.3L1651.79 132.5L1652.68 108.9L1653.57 95.4L1654.46 92.4L1655.36 100.0L1656.25 118.1L1657.14 145.8L1658.04 182.3L1658.93 226.1L1659.82 275.8L1660.71 329.5L1661.61 385.2L1662.50 441.0L1663.39 494.8L1664.29 544.7L1665.18 588.9L1666.07 625.7L1666.96 653.9L1667.86 672.4L1668.75 680.6L1669.64 678.0L1670.54 665.0L1671.43 641.8L1672.32 609.4L1673.21 569.0L1674.11 521.9L1675.00 469.9L1675.89 414.9L1676.79 358.9L1677.68 303.9L1678.57 251.8L1679.46 204.7L1680.36 164.1L1681.25 131.6L1682.14 108.3L1683.04 95.0L1683.93 92.4L1684.82 100.4L1685.71 118.7L1686.61 146.7L1687.50 183.5L1688.39 227.5L1689.29 277.4L1690.18 331.1L1691.07 386.9L1691.96 442.7L1692.86 496.4L1693.75 546.2L1694.64 590.2L1695.54 626.8L1696.43 654.7L1697.32 672.9L1698.21 680.7L1699.11 677.8L1700.00 664.5L1700.89 641.0L1701.79 608.4L1702.68 567.7L1703.57 520.4L1704.46 468.3L1705.36 413.3L1706.25 357.2L1707.14 302.3L1708.04 250.3L1708.93 203.3L1709.82 163.0L1710.71 130.7L1711.61 107.7L1712.50 94.8L1713.39 92.4L1714.29 100.7L1715.18 119.4L1716.07 147.7L1716.96 184.7L1717.86 228.9L1718.75 278.9L1719.64 332.8L1720.54 388.6L1721.43 444.3L1722.32 498.0L1723.21 547.6L1724.11 591.4L1725.00 627.7L1725.89 655.4L1726.79 673.3L1727.68 680.8L1728.57 677.6L1729.46 663.9L1730.36 640.2L1731.25 607.3L1732.14 566.4L1733.04 518.9L1733.93 466.7L1734.82 411.6L1735.71 355.6L1736.61 300.6L1737.50 248.8L1738.39 202.0L1739.29 161.9L1740.18 129.9L1741.07 107.1L1741.96 94.6L1742.86 92.5L1743.75 101.1L1744.64 120.1L1745.54 148.7L1746.43 185.9L1747.32 230.4L1748.21 280.5L1749.11 334.4L1750.00 390.3L1750.89 446.0L1751.79 499.6L1752.68 549.0L1753.57 592.6L1754.46 628.7L1755.36 656.1L1756.25 673.6L1757.14 680.8L1758.04 677.4L1758.93 663.4L1759.82 639.3L1760.71 606.2L1761.61 565.0L1762.50 517.4L1763.39 465.1L1764.29 409.9L1765.18 353.9L1766.07 299.0L1766.96 247.3L1767.86 200.7L1768.75 160.8L1769.64 129.0L1770.54 106.6L1771.43 94.3L1772.32 92.6L1773.21 101.6L1774.11 120.8L1775.00 149.7L1775.89 187.1L1776.79 231.8L1777.68 282.0L1778.57 336.1L1779.46 392.0L1780.36 447.6L1781.25 501.1L1782.14 550.4L1783.04 593.8L1783.93 629.7L1784.82 656.7L1785.71 674.0L1786.61 680.9L1787.50 677.1L1788.39 662.8L1789.29 638.5L1790.18 605.0L1791.07 563.7L1791.96 515.9L1792.86 463.5L1793.75 408.2L1794.64 352.2L1795.54 297.4L1796.43 245.9L1797.32 199.4L1798.21 159.7L1799.11 128.2L1800.00 106.1L1800.89 94.1L1801.79 92.7L1802.68 102.0L1803.57 121.5L1804.46 150.7L1805.36 188.4L1806.25 233.2L1807.14 283.6L1808.04 337.8L1808.93 393.7L1809.82 449.3L1810.71 502.7L1811.61 551.8L1812.50 595.0L1813.39 630.6L1814.29 657.4L1815.18 674.4L1816.07 680.9L1816.96 676.8L1817.86 662.2L1818.75 637.6L1819.64 603.9L1820.54 562.3L1821.43 514.4L1822.32 461.8L1823.21 406.5L1824.11 350.5L1825.00 295.8L1825.89 244.4L1826.79 198.1L1827.68 158.6L1828.57 127.4L1829.46 105.6L1830.36 93.9L1831.25 92.9L1832.14 102.4L1833.04 122.3L1833.93 151.7L1834.82 189.6L1835.71 234.7L1836.61 285.2L1837.50 339.4L1838.39 395.3L1839.29 450.9L1840.18 504.2L1841.07 553.2L1841.96 596.2L1842.86 631.6L1843.75 658.1L1844.64 674.7L1845.54 681.0" stroke="#000" stroke-width="5.3"/>
<path transform="scale(1.12 1)" d="M249.11 388.5L982.14 388.8L983.04 388.8L983.93 388.8L984.82 388.9L985.71 388.9L986.61 388.9L987.50 388.8L988.39 388.8L989.29 388.7L990.18 388.7L991.07 388.6L991.96 388.5L992.86 388.5L993.75 388.4L994.64 388.3L995.54 388.2L996.43 388.2L997.32 388.1L998.21 388.1L999.11 388.1L1000.00 388.0L1000.89 388.1L1001.79 388.1L1002.68 388.1L1003.57 388.2L1004.46 388.3L1005.36 388.3L1006.25 388.4L1007.14 388.5L1008.04 388.6L1008.93 388.7L1009.82 388.8L1010.71 388.9L1011.61 389.0L1012.50 389.0L1013.39 389.1L1014.29 389.1L1015.18 389.1L1016.07 389.0L1016.96 389.0L1017.86 388.9L1018.75 388.8L1019.64 388.7L1020.54 388.6L1021.43 388.5L1022.32 388.4L1023.21 388.2L1024.11 388.1L1025.00 388.0L1025.89 387.9L1026.79 387.9L1027.68 387.8L1028.57 387.8L1029.46 387.8L1030.36 387.8L1031.25 387.9L1032.14 388.0L1033.04 388.1L1033.93 388.2L1034.82 388.3L1035.71 388.5L1036.61 388.6L1037.50 388.8L1038.39 388.9L1039.29 389.1L1040.18 389.2L1041.07 389.3L1041.96 389.3L1042.86 389.4L1043.75 389.4L1044.64 389.4L1045.54 389.3L1046.43 389.2L1047.32 389.1L1048.21 388.9L1049.11 388.8L1050.00 388.6L1050.89 388.4L1051.79 388.2L1052.68 388.0L1053.57 387.8L1054.46 387.7L1055.36 387.6L1056.25 387.5L1057.14 387.4L1058.04 387.4L1058.93 387.4L1059.82 387.5L1060.71 387.6L1061.61 387.7L1062.50 387.9L1063.39 388.1L1064.29 388.4L1065.18 388.6L1066.07 388.8L1066.96 389.1L1067.86 389.3L1068.75 389.5L1069.64 389.7L1070.54 389.8L1071.43 389.9L1072.32 389.9L1073.21 389.9L1074.11 389.8L1075.00 389.7L1075.89 389.5L1076.79 389.3L1077.68 389.0L1078.57 388.7L1079.46 388.5L1080.36 388.2L1081.25 387.9L1082.14 387.6L1083.04 387.3L1083.93 387.1L1084.82 386.9L1085.71 386.8L1086.61 386.8L1087.50 386.8L1088.39 386.9L1089.29 387.0L1090.18 387.2L1091.07 387.5L1091.96 387.8L1092.86 388.1L1093.75 388.5L1094.64 388.9L1095.54 389.2L1096.43 389.6L1097.32 389.9L1098.21 390.2L1099.11 390.4L1100.00 390.6L1100.89 390.7L1101.79 390.7L1102.68 390.6L1103.57 390.4L1104.46 390.2L1105.36 389.9L1106.25 389.5L1107.14 389.1L1108.04 388.6L1108.93 388.2L1109.82 387.7L1110.71 387.2L1111.61 386.8L1112.50 386.5L1113.39 386.2L1114.29 385.9L1115.18 385.8L1116.07 385.8L1116.96 385.9L1117.86 386.0L1118.75 386.3L1119.64 386.7L1120.54 387.1L1121.43 387.6L1122.32 388.2L1123.21 388.8L1124.11 389.4L1125.00 389.9L1125.89 390.5L1126.79 390.9L1127.68 391.3L1128.57 391.6L1129.46 391.8L1130.36 391.9L1131.25 391.8L1132.14 391.6L1133.04 391.3L1133.93 390.9L1134.82 390.3L1135.71 389.7L1136.61 389.0L1137.50 388.3L1138.39 387.6L1139.29 386.9L1140.18 386.2L1141.07 385.6L1141.96 385.1L1142.86 384.7L1143.75 384.4L1144.64 384.3L1145.54 384.3L1146.43 384.5L1147.32 384.9L1148.21 385.4L1149.11 386.0L1150.00 386.8L1150.89 387.6L1151.79 388.5L1152.68 389.4L1153.57 390.4L1154.46 391.2L1155.36 392.0L1156.25 392.7L1157.14 393.2L1158.04 393.6L1158.93 393.8L1159.82 393.7L1160.71 393.5L1161.61 393.1L1162.50 392.5L1163.39 391.8L1164.29 390.9L1165.18 389.8L1166.07 388.7L1166.96 387.6L1167.86 386.4L1168.75 385.3L1169.64 384.3L1170.54 383.5L1171.43 382.8L1172.32 382.3L1173.21 382.0L1174.11 381.9L1175.00 382.1L1175.89 382.6L1176.79 383.3L1177.68 384.2L1178.57 385.3L1179.46 386.5L1180.36 387.9L1181.25 389.3L1182.14 390.8L1183.04 392.1L1183.93 393.4L1184.82 394.6L1185.71 395.5L1186.61 396.2L1187.50 396.6L1188.39 396.7L1189.29 396.5L1190.18 396.0L1191.07 395.2L1191.96 394.2L1192.86 392.8L1193.75 391.3L1194.64 389.6L1195.54 387.9L1196.43 386.1L1197.32 384.3L1198.21 382.7L1199.11 381.2L1200.00 380.0L1200.89 379.1L1201.79 378.5L1202.68 378.2L1203.57 378.4L1204.46 378.9L1205.36 379.8L1206.25 381.1L1207.14 382.7L1208.04 384.5L1208.93 386.6L1209.82 388.8L1210.71 391.0L1211.61 393.2L1212.50 395.3L1213.39 397.2L1214.29 398.8L1215.18 400.0L1216.07 400.9L1216.96 401.3L1217.86 401.2L1218.75 400.6L1219.64 399.6L1220.54 398.1L1221.43 396.2L1222.32 394.0L1223.21 391.5L1224.11 388.8L1225.00 386.0L1225.89 383.2L1226.79 380.6L1227.68 378.2L1228.57 376.1L1229.46 374.4L1230.36 373.2L1231.25 372.6L1232.14 372.6L1233.04 373.1L1233.93 374.3L1234.82 376.0L1235.71 378.3L1236.61 381.0L1237.50 384.1L1238.39 387.4L1239.29 390.9L1240.18 394.3L1241.07 397.7L1241.96 400.7L1242.86 403.4L1243.75 405.7L1244.64 407.3L1245.54 408.2L1246.43 408.4L1247.32 407.9L1248.21 406.6L1249.11 404.6L1250.00 401.9L1250.89 398.7L1251.79 394.9L1252.68 390.8L1253.57 386.5L1254.46 382.2L1255.36 378.0L1256.25 374.0L1257.14 370.5L1258.04 367.6L1258.93 365.4L1259.82 364.1L1260.71 363.6L1261.61 364.0L1262.50 365.4L1263.39 367.8L1264.29 370.9L1265.18 374.8L1266.07 379.4L1266.96 384.4L1267.86 389.7L1268.75 395.1L1269.64 400.4L1270.54 405.4L1271.43 409.9L1272.32 413.7L1273.21 416.7L1274.11 418.6L1275.00 419.5L1275.89 419.2L1276.79 417.7L1277.68 415.1L1278.57 411.3L1279.46 406.7L1280.36 401.1L1281.25 395.0L1282.14 388.4L1283.04 381.7L1283.93 375.0L1284.82 368.7L1285.71 362.9L1286.61 358.0L1287.50 354.1L1288.39 351.4L1289.29 350.0L1290.18 350.0L1291.07 351.6L1291.96 354.5L1292.86 358.9L1293.75 364.4L1294.64 371.1L1295.54 378.6L1296.43 386.6L1297.32 395.0L1298.21 403.3L1299.11 411.3L1300.00 418.7L1300.89 425.1L1301.79 430.2L1302.68 433.9L1303.57 436.0L1304.46 436.4L1305.36 434.9L1306.25 431.6L1307.14 426.6L1308.04 420.0L1308.93 412.0L1309.82 402.9L1310.71 393.0L1311.61 382.7L1312.50 372.3L1313.39 362.2L1314.29 352.9L1315.18 344.7L1316.07 337.9L1316.96 332.9L1317.86 329.8L1318.75 328.9L1319.64 330.3L1320.54 333.8L1321.43 339.6L1322.32 347.4L1323.21 356.9L1324.11 367.9L1325.00 379.9L1325.89 392.6L1326.79 405.5L1327.68 418.1L1328.57 429.8L1329.46 440.3L1330.36 449.1L1331.25 455.8L1332.14 460.1L1333.04 461.8L1333.93 460.8L1334.82 456.9L1335.71 450.4L1336.61 441.3L1337.50 430.0L1338.39 416.8L1339.29 402.2L1340.18 386.7L1341.07 370.8L1341.96 355.3L1342.86 340.5L1343.75 327.2L1344.64 315.9L1345.54 307.1L1346.43 301.2L1347.32 298.4L1348.21 298.9L1349.11 302.9L1350.00 310.2L1350.89 320.6L1351.79 333.9L1352.68 349.6L1353.57 367.2L1354.46 386.0L1355.36 405.3L1356.25 424.4L1357.14 442.7L1358.04 459.3L1358.93 473.6L1359.82 485.0L1360.71 493.1L1361.61 497.3L1362.50 497.4L1363.39 493.5L1364.29 485.4L1365.18 473.5L1366.07 458.0L1366.96 439.5L1367.86 418.7L1368.75 396.2L1369.64 372.8L1370.54 349.6L1371.43 327.2L1372.32 306.7L1373.21 288.8L1374.11 274.2L1375.00 263.7L1375.89 257.7L1376.79 256.4L1377.68 260.2L1378.57 268.9L1379.46 282.3L1380.36 300.0L1381.25 321.4L1382.14 345.8L1383.04 372.3L1383.93 400.0L1384.82 427.8L1385.71 454.7L1386.61 479.6L1387.50 501.5L1388.39 519.6L1389.29 533.0L1390.18 541.2L1391.07 543.8L1391.96 540.5L1392.86 531.4L1393.75 516.6L1394.64 496.7L1395.54 472.3L1396.43 444.2L1397.32 413.4L1398.21 381.1L1399.11 348.5L1400.00 316.8L1400.89 287.2L1401.79 260.9L1402.68 238.9L1403.57 222.1L1404.46 211.4L1405.36 207.1L1406.25 209.6L1407.14 218.9L1408.04 234.7L1408.93 256.6L1409.82 283.8L1410.71 315.3L1411.61 350.1L1412.50 386.9L1413.39 424.2L1414.29 460.8L1415.18 495.1L1416.07 525.9L1416.96 551.9L1417.86 572.1L1418.75 585.6L1419.64 591.8L1420.54 590.3L1421.43 581.2L1422.32 564.7L1423.21 541.2L1424.11 511.6L1425.00 477.0L1425.89 438.5L1426.79 397.6L1427.68 355.8L1428.57 314.7L1429.46 275.9L1430.36 240.7L1431.25 210.8L1432.14 187.1L1433.04 170.7L1433.93 162.2L1434.82 162.2L1435.71 170.6L1436.61 187.2L1437.50 211.6L1438.39 242.8L1439.29 279.7L1440.18 321.0L1441.07 365.2L1441.96 410.7L1442.86 455.7L1443.75 498.5L1444.64 537.5L1445.54 571.3L1446.43 598.4L1447.32 617.9L1448.21 628.9L1449.11 630.9L1450.00 623.9L1450.89 607.9L1451.79 583.6L1452.68 551.7L1453.57 513.5L1454.46 470.2L1455.36 423.6L1456.25 375.3L1457.14 327.1L1458.04 280.8L1458.93 238.1L1459.82 200.7L1460.71 170.1L1461.61 147.3L1462.50 133.3L1463.39 128.6L1464.29 133.5L1465.18 147.9L1466.07 171.2L1466.96 202.6L1467.86 241.0L1468.75 285.1L1469.64 333.1L1470.54 383.4L1471.43 434.0L1472.32 483.1L1473.21 528.9L1474.11 569.6L1475.00 603.8L1475.89 630.0L1476.79 647.4L1477.68 655.2L1478.57 653.1L1479.46 641.1L1480.36 619.8L1481.25 589.7L1482.14 552.1L1483.04 508.2L1483.93 459.7L1484.82 408.3L1485.71 356.0L1486.61 304.7L1487.50 256.2L1488.39 212.4L1489.29 174.8L1490.18 145.0L1491.07 124.0L1491.96 112.5L1492.86 111.2L1493.75 119.9L1494.64 138.5L1495.54 166.2L1496.43 202.1L1497.32 244.8L1498.21 292.9L1499.11 344.5L1500.00 397.7L1500.89 450.7L1501.79 501.4L1502.68 548.0L1503.57 588.8L1504.46 622.2L1505.36 647.2L1506.25 662.6L1507.14 667.9L1508.04 663.0L1508.93 648.0L1509.82 623.4L1510.71 590.1L1511.61 549.3L1512.50 502.5L1513.39 451.4L1514.29 397.9L1515.18 343.9L1516.07 291.4L1516.96 242.3L1517.86 198.4L1518.75 161.3L1519.64 132.4L1520.54 112.7L1521.43 102.9L1522.32 103.5L1523.21 114.3L1524.11 135.1L1525.00 165.0L1525.89 203.0L1526.79 247.7L1527.68 297.5L1528.57 350.6L1529.46 405.1L1530.36 458.9L1531.25 510.1L1532.14 556.8L1533.04 597.5L1533.93 630.5L1534.82 654.7L1535.71 669.2L1536.61 673.5L1537.50 667.3L1538.39 651.0L1539.29 625.1L1540.18 590.6L1541.07 548.6L1541.96 500.7L1542.86 448.7L1543.75 394.4L1544.64 339.7L1545.54 286.7L1546.43 237.4L1547.32 193.3L1548.21 156.3L1549.11 127.6L1550.00 108.2L1550.89 98.9L1551.79 100.1L1552.68 111.6L1553.57 133.1L1554.46 163.7L1555.36 202.5L1556.25 247.9L1557.14 298.4L1558.04 352.1L1558.93 407.0L1559.82 461.3L1560.71 512.8L1561.61 559.8L1562.50 600.5L1563.39 633.5L1564.29 657.6L1565.18 671.9L1566.07 675.8L1566.96 669.2L1567.86 652.4L1568.75 626.0L1569.64 590.9L1570.54 548.4L1571.43 500.0L1572.32 447.5L1573.21 392.7L1574.11 337.8L1575.00 284.5L1575.89 235.0L1576.79 190.9L1577.68 153.9L1578.57 125.4L1579.46 106.2L1580.36 97.3L1581.25 98.7L1582.14 110.7L1583.04 132.6L1583.93 163.7L1584.82 202.9L1585.71 248.7L1586.61 299.5L1587.50 353.5L1588.39 408.7L1589.29 463.2L1590.18 514.8L1591.07 561.8L1591.96 602.4L1592.86 635.3L1593.75 659.1L1594.64 673.1L1595.54 676.7L1596.43 669.8L1597.32 652.6L1598.21 625.8L1599.11 590.3L1600.00 547.5L1600.89 498.8L1601.79 446.0L1602.68 391.1L1603.57 336.0L1604.46 282.7L1605.36 233.2L1606.25 189.2L1607.14 152.4L1608.04 124.0L1608.93 105.2L1609.82 96.5L1610.71 98.3L1611.61 110.6L1612.50 132.9L1613.39 164.3L1614.29 203.8L1615.18 249.9L1616.07 301.0L1616.96 355.1L1617.86 410.4L1618.75 464.9L1619.64 516.5L1620.54 563.4L1621.43 603.9L1622.32 636.5L1623.21 660.1L1624.11 673.8L1625.00 677.0L1625.89 669.8L1626.79 652.3L1627.68 625.2L1628.57 589.4L1629.46 546.3L1630.36 497.4L1631.25 444.4L1632.14 389.4L1633.04 334.3L1633.93 281.0L1634.82 231.6L1635.71 187.8L1636.61 151.2L1637.50 123.1L1638.39 104.5L1639.29 96.1L1640.18 98.3L1641.07 110.9L1641.96 133.5L1642.86 165.2L1643.75 204.9L1644.64 251.3L1645.54 302.5L1646.43 356.8L1647.32 412.1L1648.21 466.5L1649.11 518.0L1650.00 564.8L1650.89 605.1L1651.79 637.5L1652.68 660.8L1653.57 674.2L1654.46 677.1L1655.36 669.6L1656.25 651.7L1657.14 624.3L1658.04 588.3L1658.93 545.0L1659.82 495.9L1660.71 442.8L1661.61 387.7L1662.50 332.6L1663.39 279.4L1664.29 230.1L1665.18 186.5L1666.07 150.1L1666.96 122.3L1667.86 104.0L1668.75 95.9L1669.64 98.4L1670.54 111.3L1671.43 134.2L1672.32 166.2L1673.21 206.2L1674.11 252.7L1675.00 304.1L1675.89 358.4L1676.79 413.8L1677.68 468.1L1678.57 519.6L1679.46 566.2L1680.36 606.3L1681.25 638.4L1682.14 661.4L1683.04 674.5L1683.93 677.1L1684.82 669.2L1685.71 651.1L1686.61 623.4L1687.50 587.1L1688.39 543.6L1689.29 494.3L1690.18 441.2L1691.07 386.1L1691.96 331.0L1692.86 277.9L1693.75 228.7L1694.64 185.3L1695.54 149.1L1696.43 121.5L1697.32 103.6L1698.21 95.8L1699.11 98.6L1700.00 111.8L1700.89 135.0L1701.79 167.3L1702.68 207.5L1703.57 254.2L1704.46 305.6L1705.36 360.1L1706.25 415.4L1707.14 469.7L1708.04 521.1L1708.93 567.5L1709.82 607.4L1710.71 639.3L1711.61 662.0L1712.50 674.7L1713.39 677.1L1714.29 668.9L1715.18 650.4L1716.07 622.5L1716.96 585.9L1717.86 542.2L1718.75 492.8L1719.64 439.6L1720.54 384.4L1721.43 329.3L1722.32 276.3L1723.21 227.3L1724.11 184.1L1725.00 148.1L1725.89 120.8L1726.79 103.2L1727.68 95.7L1728.57 98.8L1729.46 112.4L1730.36 135.8L1731.25 168.4L1732.14 208.8L1733.04 255.6L1733.93 307.2L1734.82 361.7L1735.71 417.1L1736.61 471.3L1737.50 522.5L1738.39 568.8L1739.29 608.5L1740.18 640.1L1741.07 662.5L1741.96 675.0L1742.86 677.0L1743.75 668.5L1744.64 649.7L1745.54 621.5L1746.43 584.7L1747.32 540.8L1748.21 491.3L1749.11 437.9L1750.00 382.8L1750.89 327.7L1751.79 274.8L1752.68 225.9L1753.57 182.9L1754.46 147.2L1755.36 120.1L1756.25 102.8L1757.14 95.7L1758.04 99.1L1758.93 112.9L1759.82 136.7L1760.71 169.5L1761.61 210.1L1762.50 257.1L1763.39 308.8L1764.29 363.4L1765.18 418.7L1766.07 472.9L1766.96 524.0L1767.86 570.1L1768.75 609.5L1769.64 640.9L1770.54 663.1L1771.43 675.2L1772.32 676.9L1773.21 668.1L1774.11 649.0L1775.00 620.5L1775.89 583.5L1776.79 539.4L1777.68 489.7L1778.57 436.3L1779.46 381.1L1780.36 326.1L1781.25 273.3L1782.14 224.5L1783.04 181.7L1783.93 146.2L1784.82 119.5L1785.71 102.4L1786.61 95.6L1787.50 99.4L1788.39 113.5L1789.29 137.5L1790.18 170.6L1791.07 211.4L1791.96 258.6L1792.86 310.4L1793.75 365.0L1794.64 420.4L1795.54 474.5L1796.43 525.5L1797.32 571.4L1798.21 610.6L1799.11 641.7L1800.00 663.6L1800.89 675.4L1801.79 676.8L1802.68 667.6L1803.57 648.3L1804.46 619.5L1805.36 582.3L1806.25 538.0L1807.14 488.2L1808.04 434.7L1808.93 379.4L1809.82 324.5L1810.71 271.7L1811.61 223.1L1812.50 180.5L1813.39 145.3L1814.29 118.8L1815.18 102.0L1816.07 95.6L1816.96 99.6L1817.86 114.1L1818.75 138.4L1819.64 171.7L1820.54 212.8L1821.43 260.1L1822.32 312.1L1823.21 366.7L1824.11 422.0L1825.00 476.1L1825.89 526.9L1826.79 572.7L1827.68 611.7L1828.57 642.5L1829.46 664.1L1830.36 675.6L1831.25 676.7L1832.14 667.2L1833.04 647.6L1833.93 618.5L1834.82 581.1L1835.71 536.5L1836.61 486.6L1837.50 433.0L1838.39 377.8L1839.29 322.8L1840.18 270.2L1841.07 221.8L1841.96 179.3L1842.86 144.4L1843.75 118.2L1844.64 101.7L1845.54 95.5" stroke="#000" stroke-width="5.3"/>
<g><rect x="1457" y="362" width="71" height="61" fill="#8e8e8e" opacity="0.78"/><rect x="1498" y="364.5" width="27" height="21" fill="#8a0000" opacity="0.85"/><path d="M1462 381h63" stroke="#c9c9c9" stroke-width="2.2" opacity="0.9"/><path d="M1463 393h56M1463 404h56M1463 414h56" stroke="#c4c4c4" stroke-width="3" stroke-dasharray="5 3" opacity="0.55"/></g>
<path transform="scale(1.25 1)" d="M223.20 313.0L880.00 313.2L880.80 313.2L881.60 313.1L882.40 313.1L883.20 313.0L884.00 312.9L884.80 312.9L885.60 312.8L886.40 312.8L887.20 312.7L888.00 312.7L888.80 312.7L889.60 312.7L890.40 312.7L891.20 312.7L892.00 312.7L892.80 312.7L893.60 312.8L894.40 312.8L895.20 312.9L896.00 313.0L896.80 313.0L897.60 313.1L898.40 313.2L899.20 313.3L900.00 313.3L900.80 313.4L901.60 313.4L902.40 313.4L903.20 313.4L904.00 313.4L904.80 313.4L905.60 313.3L906.40 313.3L907.20 313.2L908.00 313.1L908.80 313.1L909.60 313.0L910.40 312.9L911.20 312.8L912.00 312.7L912.80 312.6L913.60 312.6L914.40 312.5L915.20 312.5L916.00 312.5L916.80 312.5L917.60 312.5L918.40 312.6L919.20 312.6L920.00 312.7L920.80 312.8L921.60 312.9L922.40 313.0L923.20 313.1L924.00 313.2L924.80 313.3L925.60 313.4L926.40 313.5L927.20 313.6L928.00 313.6L928.80 313.6L929.60 313.6L930.40 313.6L931.20 313.6L932.00 313.5L932.80 313.4L933.60 313.3L934.40 313.1L935.20 313.0L936.00 312.9L936.80 312.7L937.60 312.6L938.40 312.5L939.20 312.4L940.00 312.3L940.80 312.2L941.60 312.2L942.40 312.2L943.20 312.2L944.00 312.3L944.80 312.4L945.60 312.5L946.40 312.6L947.20 312.8L948.00 313.0L948.80 313.1L949.60 313.3L950.40 313.5L951.20 313.6L952.00 313.8L952.80 313.9L953.60 313.9L954.40 314.0L955.20 314.0L956.00 314.0L956.80 313.9L957.60 313.8L958.40 313.7L959.20 313.5L960.00 313.3L960.80 313.1L961.60 312.9L962.40 312.7L963.20 312.5L964.00 312.3L964.80 312.1L965.60 312.0L966.40 311.9L967.20 311.8L968.00 311.8L968.80 311.8L969.60 311.9L970.40 312.0L971.20 312.1L972.00 312.3L972.80 312.6L973.60 312.8L974.40 313.1L975.20 313.3L976.00 313.6L976.80 313.9L977.60 314.1L978.40 314.3L979.20 314.4L980.00 314.5L980.80 314.5L981.60 314.5L982.40 314.4L983.20 314.3L984.00 314.1L984.80 313.9L985.60 313.6L986.40 313.3L987.20 313.0L988.00 312.6L988.80 312.3L989.60 312.0L990.40 311.7L991.20 311.5L992.00 311.3L992.80 311.2L993.60 311.1L994.40 311.1L995.20 311.2L996.00 311.3L996.80 311.6L997.60 311.8L998.40 312.2L999.20 312.5L1000.00 312.9L1000.80 313.3L1001.60 313.8L1002.40 314.2L1003.20 314.5L1004.00 314.8L1004.80 315.1L1005.60 315.3L1006.40 315.4L1007.20 315.4L1008.00 315.3L1008.80 315.1L1009.60 314.9L1010.40 314.5L1011.20 314.1L1012.00 313.7L1012.80 313.2L1013.60 312.7L1014.40 312.2L1015.20 311.7L1016.00 311.2L1016.80 310.8L1017.60 310.5L1018.40 310.2L1019.20 310.1L1020.00 310.0L1020.80 310.1L1021.60 310.3L1022.40 310.6L1023.20 311.0L1024.00 311.5L1024.80 312.0L1025.60 312.6L1026.40 313.3L1027.20 313.9L1028.00 314.5L1028.80 315.1L1029.60 315.6L1030.40 316.1L1031.20 316.4L1032.00 316.6L1032.80 316.7L1033.60 316.6L1034.40 316.4L1035.20 316.1L1036.00 315.6L1036.80 315.0L1037.60 314.4L1038.40 313.6L1039.20 312.9L1040.00 312.1L1040.80 311.3L1041.60 310.5L1042.40 309.9L1043.20 309.3L1044.00 308.9L1044.80 308.6L1045.60 308.4L1046.40 308.5L1047.20 308.7L1048.00 309.1L1048.80 309.6L1049.60 310.3L1050.40 311.1L1051.20 312.0L1052.00 312.9L1052.80 313.9L1053.60 314.9L1054.40 315.9L1055.20 316.7L1056.00 317.4L1056.80 318.0L1057.60 318.4L1058.40 318.6L1059.20 318.7L1060.00 318.4L1060.80 318.0L1061.60 317.4L1062.40 316.6L1063.20 315.6L1064.00 314.5L1064.80 313.3L1065.60 312.1L1066.40 310.9L1067.20 309.7L1068.00 308.6L1068.80 307.7L1069.60 306.9L1070.40 306.3L1071.20 306.0L1072.00 305.9L1072.80 306.1L1073.60 306.6L1074.40 307.3L1075.20 308.3L1076.00 309.5L1076.80 310.8L1077.60 312.2L1078.40 313.8L1079.20 315.3L1080.00 316.8L1080.80 318.2L1081.60 319.4L1082.40 320.4L1083.20 321.1L1084.00 321.6L1084.80 321.8L1085.60 321.6L1086.40 321.1L1087.20 320.3L1088.00 319.1L1088.80 317.7L1089.60 316.1L1090.40 314.3L1091.20 312.5L1092.00 310.6L1092.80 308.7L1093.60 306.9L1094.40 305.4L1095.20 304.0L1096.00 303.0L1096.80 302.4L1097.60 302.1L1098.40 302.2L1099.20 302.7L1100.00 303.7L1100.80 305.0L1101.60 306.7L1102.40 308.6L1103.20 310.8L1104.00 313.1L1104.80 315.5L1105.60 317.8L1106.40 320.0L1107.20 322.0L1108.00 323.7L1108.80 325.1L1109.60 326.0L1110.40 326.5L1111.20 326.5L1112.00 325.9L1112.80 324.8L1113.60 323.3L1114.40 321.3L1115.20 319.0L1116.00 316.3L1116.80 313.5L1117.60 310.6L1118.40 307.6L1119.20 304.8L1120.00 302.3L1120.80 300.0L1121.60 298.2L1122.40 297.0L1123.20 296.2L1124.00 296.2L1124.80 296.7L1125.60 297.9L1126.40 299.7L1127.20 302.0L1128.00 304.8L1128.80 308.0L1129.60 311.5L1130.40 315.1L1131.20 318.8L1132.00 322.3L1132.80 325.6L1133.60 328.4L1134.40 330.8L1135.20 332.5L1136.00 333.6L1136.80 333.8L1137.60 333.3L1138.40 332.0L1139.20 330.0L1140.00 327.2L1140.80 323.9L1141.60 320.0L1142.40 315.7L1143.20 311.2L1144.00 306.7L1144.80 302.3L1145.60 298.2L1146.40 294.5L1147.20 291.4L1148.00 289.1L1148.80 287.6L1149.60 287.0L1150.40 287.4L1151.20 288.8L1152.00 291.1L1152.80 294.3L1153.60 298.4L1154.40 303.0L1155.20 308.2L1156.00 313.7L1156.80 319.3L1157.60 324.8L1158.40 330.0L1159.20 334.7L1160.00 338.7L1160.80 341.8L1161.60 343.9L1162.40 344.9L1163.20 344.6L1164.00 343.2L1164.80 340.5L1165.60 336.8L1166.40 332.0L1167.20 326.4L1168.00 320.1L1168.80 313.4L1169.60 306.4L1170.40 299.6L1171.20 293.0L1172.00 287.1L1172.80 281.9L1173.60 277.8L1174.40 275.0L1175.20 273.5L1176.00 273.4L1176.80 274.8L1177.60 277.8L1178.40 282.1L1179.20 287.7L1180.00 294.4L1180.80 302.0L1181.60 310.2L1182.40 318.7L1183.20 327.2L1184.00 335.3L1184.80 342.8L1185.60 349.4L1186.40 354.7L1187.20 358.5L1188.00 360.8L1188.80 361.2L1189.60 359.8L1190.40 356.6L1191.20 351.6L1192.00 345.0L1192.80 337.1L1193.60 328.0L1194.40 318.1L1195.20 307.7L1196.00 297.3L1196.80 287.1L1197.60 277.7L1198.40 269.4L1199.20 262.6L1200.00 257.4L1200.80 254.3L1201.60 253.2L1202.40 254.4L1203.20 257.9L1204.00 263.5L1204.80 271.1L1205.60 280.4L1206.40 291.2L1207.20 303.1L1208.00 315.6L1208.80 328.2L1209.60 340.6L1210.40 352.2L1211.20 362.6L1212.00 371.2L1212.80 377.9L1213.60 382.2L1214.40 384.0L1215.20 383.1L1216.00 379.5L1216.80 373.2L1217.60 364.5L1218.40 353.6L1219.20 340.9L1220.00 326.8L1220.80 311.8L1221.60 296.6L1222.40 281.6L1223.20 267.4L1224.00 254.6L1224.80 243.7L1225.60 235.1L1226.40 229.3L1227.20 226.6L1228.00 227.0L1228.80 230.6L1229.60 237.4L1230.40 247.2L1231.20 259.6L1232.00 274.3L1232.80 290.7L1233.60 308.2L1234.40 326.2L1235.20 344.1L1236.00 361.1L1236.80 376.5L1237.60 389.8L1238.40 400.4L1239.20 407.8L1240.00 411.8L1240.80 412.0L1241.60 408.4L1242.40 401.1L1243.20 390.3L1244.00 376.3L1244.80 359.5L1245.60 340.7L1246.40 320.4L1247.20 299.4L1248.00 278.5L1248.80 258.5L1249.60 240.1L1250.40 224.1L1251.20 211.2L1252.00 201.8L1252.80 196.4L1253.60 195.2L1254.40 198.5L1255.20 206.0L1256.00 217.7L1256.80 233.0L1257.60 251.6L1258.40 272.6L1259.20 295.5L1260.00 319.3L1260.80 343.1L1261.60 366.0L1262.40 387.2L1263.20 405.8L1264.00 421.1L1264.80 432.4L1265.60 439.3L1266.40 441.5L1267.20 438.7L1268.00 431.0L1268.80 418.7L1269.60 402.2L1270.40 382.0L1271.20 358.9L1272.00 333.6L1272.80 307.2L1273.60 280.6L1274.40 254.8L1275.20 230.8L1276.00 209.6L1276.80 191.9L1277.60 178.4L1278.40 169.8L1279.20 166.4L1280.00 168.4L1280.80 175.7L1281.60 188.2L1282.40 205.4L1283.20 226.7L1284.00 251.3L1284.80 278.4L1285.60 306.9L1286.40 335.8L1287.20 364.0L1288.00 390.4L1288.80 413.9L1289.60 433.8L1290.40 449.2L1291.20 459.5L1292.00 464.3L1292.80 463.3L1293.60 456.6L1294.40 444.3L1295.20 426.9L1296.00 405.0L1296.80 379.3L1297.60 350.9L1298.40 320.8L1299.20 290.1L1300.00 259.8L1300.80 231.3L1301.60 205.5L1302.40 183.4L1303.20 165.9L1304.00 153.6L1304.80 147.1L1305.60 146.6L1306.40 152.1L1307.20 163.6L1308.00 180.5L1308.80 202.2L1309.60 228.1L1310.40 257.1L1311.20 288.2L1312.00 320.3L1312.80 352.0L1313.60 382.3L1314.40 410.1L1315.20 434.2L1316.00 453.7L1316.80 468.0L1317.60 476.5L1318.40 478.8L1319.20 474.9L1320.00 464.8L1320.80 448.9L1321.60 427.7L1322.40 402.1L1323.20 373.0L1324.00 341.5L1324.80 308.6L1325.60 275.7L1326.40 243.9L1327.20 214.3L1328.00 188.3L1328.80 166.5L1329.60 150.0L1330.40 139.3L1331.20 134.8L1332.00 136.7L1332.80 145.0L1333.60 159.3L1334.40 179.1L1335.20 203.8L1336.00 232.4L1336.80 263.8L1337.60 297.0L1338.40 330.7L1339.20 363.6L1340.00 394.6L1340.80 422.6L1341.60 446.4L1342.40 465.1L1343.20 478.2L1344.00 485.1L1344.80 485.6L1345.60 479.6L1346.40 467.3L1347.20 449.2L1348.00 425.9L1348.80 398.3L1349.60 367.4L1350.40 334.3L1351.20 300.2L1352.00 266.4L1352.80 234.1L1353.60 204.5L1354.40 178.7L1355.20 157.5L1356.00 141.9L1356.80 132.3L1357.60 129.2L1358.40 132.6L1359.20 142.4L1360.00 158.3L1360.80 179.7L1361.60 205.8L1362.40 235.6L1363.20 268.2L1364.00 302.2L1364.80 336.5L1365.60 369.9L1366.40 401.0L1367.20 428.8L1368.00 452.2L1368.80 470.5L1369.60 482.9L1370.40 488.9L1371.20 488.5L1372.00 481.5L1372.80 468.2L1373.60 449.1L1374.40 424.9L1375.20 396.5L1376.00 364.9L1376.80 331.3L1377.60 296.8L1378.40 262.7L1379.20 230.2L1380.00 200.6L1380.80 174.9L1381.60 154.0L1382.40 138.6L1383.20 129.5L1384.00 126.8L1384.80 130.7L1385.60 141.0L1386.40 157.5L1387.20 179.4L1388.00 206.0L1388.80 236.3L1389.60 269.2L1390.40 303.6L1391.20 338.2L1392.00 371.7L1392.80 403.0L1393.60 430.8L1394.40 454.2L1395.20 472.4L1396.00 484.6L1396.80 490.5L1397.60 489.7L1398.40 482.4L1399.20 468.8L1400.00 449.4L1400.80 424.9L1401.60 396.2L1402.40 364.3L1403.20 330.3L1404.00 295.6L1404.80 261.3L1405.60 228.7L1406.40 199.0L1407.20 173.3L1408.00 152.4L1408.80 137.3L1409.60 128.3L1410.40 125.8L1411.20 129.9L1412.00 140.5L1412.80 157.3L1413.60 179.4L1414.40 206.3L1415.20 236.9L1416.00 270.0L1416.80 304.6L1417.60 339.3L1418.40 372.9L1419.20 404.2L1420.00 432.0L1420.80 455.4L1421.60 473.4L1422.40 485.5L1423.20 491.2L1424.00 490.2L1424.80 482.7L1425.60 468.8L1426.40 449.2L1427.20 424.4L1428.00 395.5L1428.80 363.4L1429.60 329.3L1430.40 294.5L1431.20 260.1L1432.00 227.6L1432.80 197.9L1433.60 172.2L1434.40 151.5L1435.20 136.5L1436.00 127.7L1436.80 125.4L1437.60 129.8L1438.40 140.6L1439.20 157.5L1440.00 179.9L1440.80 206.9L1441.60 237.7L1442.40 271.0L1443.20 305.6L1444.00 340.4L1444.80 374.0L1445.60 405.2L1446.40 433.0L1447.20 456.2L1448.00 474.1L1448.80 486.0L1449.60 491.5L1450.40 490.3L1451.20 482.6L1452.00 468.5L1452.80 448.7L1453.60 423.8L1454.40 394.7L1455.20 362.5L1456.00 328.3L1456.80 293.4L1457.60 259.1L1458.40 226.5L1459.20 196.9L1460.00 171.4L1460.80 150.8L1461.60 135.9L1462.40 127.3L1463.20 125.2L1464.00 129.8L1464.80 140.9L1465.60 158.0L1466.40 180.5L1467.20 207.7L1468.00 238.6L1468.80 272.0L1469.60 306.7L1470.40 341.4L1471.20 375.0L1472.00 406.2L1472.80 433.8L1473.60 456.9L1474.40 474.7L1475.20 486.4L1476.00 491.6L1476.80 490.3L1477.60 482.3L1478.40 468.1L1479.20 448.1L1480.00 423.0L1480.80 393.8L1481.60 361.5L1482.40 327.3L1483.20 292.4L1484.00 258.0L1484.80 225.5L1485.60 196.1L1486.40 170.6L1487.20 150.2L1488.00 135.5L1488.80 127.1L1489.60 125.2L1490.40 130.0L1491.20 141.2L1492.00 158.5L1492.80 181.2L1493.60 208.6L1494.40 239.5L1495.20 273.0L1496.00 307.7L1496.80 342.5L1497.60 376.0L1498.40 407.1L1499.20 434.6L1500.00 457.6L1500.80 475.1L1501.60 486.7L1502.40 491.7L1503.20 490.2L1504.00 482.0L1504.80 467.6L1505.60 447.4L1506.40 422.2L1507.20 392.9L1508.00 360.5L1508.80 326.2L1509.60 291.3L1510.40 257.0L1511.20 224.6L1512.00 195.2L1512.80 169.9L1513.60 149.6L1514.40 135.1L1515.20 126.9L1516.00 125.2L1516.80 130.2L1517.60 141.6L1518.40 159.1L1519.20 182.0L1520.00 209.4L1520.80 240.5L1521.60 274.0L1522.40 308.8L1523.20 343.5L1524.00 377.0L1524.80 408.0L1525.60 435.4L1526.40 458.2L1527.20 475.6L1528.00 486.9L1528.80 491.8L1529.60 490.0L1530.40 481.7L1531.20 467.1L1532.00 446.7L1532.80 421.4L1533.60 392.0L1534.40 359.5L1535.20 325.2L1536.00 290.3L1536.80 256.0L1537.60 223.7L1538.40 194.4L1539.20 169.2L1540.00 149.1L1540.80 134.8L1541.60 126.7L1542.40 125.3L1543.20 130.4L1544.00 142.1L1544.80 159.7L1545.60 182.7L1546.40 210.3L1547.20 241.5L1548.00 275.0L1548.80 309.8L1549.60 344.5L1550.40 378.0L1551.20 408.9L1552.00 436.2L1552.80 458.8L1553.60 476.0L1554.40 487.2L1555.20 491.9L1556.00 489.9L1556.80 481.4L1557.60 466.6L1558.40 446.1L1559.20 420.6L1560.00 391.0L1560.80 358.5L1561.60 324.1L1562.40 289.2L1563.20 255.0L1564.00 222.7L1564.80 193.5L1565.60 168.5L1566.40 148.6L1567.20 134.4L1568.00 126.6L1568.80 125.3L1569.60 130.7L1570.40 142.5L1571.20 160.3L1572.00 183.5L1572.80 211.2L1573.60 242.4L1574.40 276.1L1575.20 310.9L1576.00 345.6L1576.80 378.9L1577.60 409.8L1578.40 436.9L1579.20 459.4L1580.00 476.5L1580.80 487.4L1581.60 491.9L1582.40 489.7L1583.20 481.0L1584.00 466.0L1584.80 445.4L1585.60 419.7L1586.40 390.1L1587.20 357.5L1588.00 323.1L1588.80 288.2L1589.60 254.0L1590.40 221.8L1591.20 192.7L1592.00 167.9L1592.80 148.1L1593.60 134.1L1594.40 126.5L1595.20 125.4L1596.00 131.0L1596.80 142.9L1597.60 160.9L1598.40 184.3L1599.20 212.1L1600.00 243.4L1600.80 277.1L1601.60 311.9L1602.40 346.6L1603.20 379.9L1604.00 410.6L1604.80 437.7L1605.60 460.0L1606.40 476.9L1607.20 487.6L1608.00 491.9L1608.80 489.6L1609.60 480.7L1610.40 465.5L1611.20 444.7L1612.00 418.9L1612.80 389.1L1613.60 356.5L1614.40 322.0L1615.20 287.1L1616.00 253.0L1616.80 220.9L1617.60 191.9L1618.40 167.2L1619.20 147.6L1620.00 133.8L1620.80 126.3L1621.60 125.5L1622.40 131.2L1623.20 143.4L1624.00 161.6L1624.80 185.0L1625.60 213.0L1626.40 244.4L1627.20 278.1L1628.00 313.0L1628.80 347.6L1629.60 380.9L1630.40 411.5L1631.20 438.4L1632.00 460.6L1632.80 477.3L1633.60 487.9L1634.40 492.0L1635.20 489.4L1636.00 480.3L1636.80 465.0L1637.60 444.0L1638.40 418.1L1639.20 388.2L1640.00 355.4L1640.80 321.0L1641.60 286.1L1642.40 252.0L1643.20 219.9L1644.00 191.1L1644.80 166.5L1645.60 147.1L1646.40 133.5L1647.20 126.2L1648.00 125.5L1648.80 131.5L1649.60 143.9L1650.40 162.2L1651.20 185.8L1652.00 213.9L1652.80 245.4L1653.60 279.2" stroke="#e00000" stroke-width="5.3"/>
<path transform="scale(1.25 1)" d="M223.20 313.0L880.00 312.8L880.80 312.8L881.60 312.9L882.40 312.9L883.20 313.0L884.00 313.1L884.80 313.1L885.60 313.2L886.40 313.2L887.20 313.3L888.00 313.3L888.80 313.3L889.60 313.3L890.40 313.3L891.20 313.3L892.00 313.3L892.80 313.3L893.60 313.2L894.40 313.2L895.20 313.1L896.00 313.0L896.80 313.0L897.60 312.9L898.40 312.8L899.20 312.7L900.00 312.7L900.80 312.6L901.60 312.6L902.40 312.6L903.20 312.6L904.00 312.6L904.80 312.6L905.60 312.7L906.40 312.7L907.20 312.8L908.00 312.9L908.80 312.9L909.60 313.0L910.40 313.1L911.20 313.2L912.00 313.3L912.80 313.4L913.60 313.4L914.40 313.5L915.20 313.5L916.00 313.5L916.80 313.5L917.60 313.5L918.40 313.4L919.20 313.4L920.00 313.3L920.80 313.2L921.60 313.1L922.40 313.0L923.20 312.9L924.00 312.8L924.80 312.7L925.60 312.6L926.40 312.5L927.20 312.4L928.00 312.4L928.80 312.4L929.60 312.4L930.40 312.4L931.20 312.5L932.00 312.5L932.80 312.6L933.60 312.7L934.40 312.9L935.20 313.0L936.00 313.1L936.80 313.3L937.60 313.4L938.40 313.5L939.20 313.6L940.00 313.7L940.80 313.8L941.60 313.8L942.40 313.8L943.20 313.8L944.00 313.7L944.80 313.6L945.60 313.5L946.40 313.4L947.20 313.2L948.00 313.0L948.80 312.9L949.60 312.7L950.40 312.5L951.20 312.4L952.00 312.3L952.80 312.1L953.60 312.1L954.40 312.0L955.20 312.0L956.00 312.0L956.80 312.1L957.60 312.2L958.40 312.3L959.20 312.5L960.00 312.7L960.80 312.9L961.60 313.1L962.40 313.3L963.20 313.5L964.00 313.7L964.80 313.9L965.60 314.0L966.40 314.1L967.20 314.2L968.00 314.2L968.80 314.2L969.60 314.1L970.40 314.0L971.20 313.9L972.00 313.7L972.80 313.4L973.60 313.2L974.40 312.9L975.20 312.7L976.00 312.4L976.80 312.2L977.60 311.9L978.40 311.8L979.20 311.6L980.00 311.5L980.80 311.5L981.60 311.5L982.40 311.6L983.20 311.7L984.00 311.9L984.80 312.1L985.60 312.4L986.40 312.7L987.20 313.0L988.00 313.4L988.80 313.7L989.60 314.0L990.40 314.3L991.20 314.5L992.00 314.7L992.80 314.8L993.60 314.9L994.40 314.9L995.20 314.8L996.00 314.7L996.80 314.4L997.60 314.2L998.40 313.8L999.20 313.5L1000.00 313.1L1000.80 312.7L1001.60 312.2L1002.40 311.9L1003.20 311.5L1004.00 311.2L1004.80 310.9L1005.60 310.8L1006.40 310.7L1007.20 310.7L1008.00 310.7L1008.80 310.9L1009.60 311.1L1010.40 311.5L1011.20 311.9L1012.00 312.3L1012.80 312.8L1013.60 313.3L1014.40 313.8L1015.20 314.3L1016.00 314.8L1016.80 315.2L1017.60 315.5L1018.40 315.7L1019.20 315.9L1020.00 315.9L1020.80 315.9L1021.60 315.7L1022.40 315.4L1023.20 315.0L1024.00 314.5L1024.80 314.0L1025.60 313.4L1026.40 312.7L1027.20 312.1L1028.00 311.5L1028.80 310.9L1029.60 310.4L1030.40 310.0L1031.20 309.6L1032.00 309.4L1032.80 309.4L1033.60 309.4L1034.40 309.6L1035.20 309.9L1036.00 310.4L1036.80 311.0L1037.60 311.6L1038.40 312.4L1039.20 313.1L1040.00 313.9L1040.80 314.7L1041.60 315.4L1042.40 316.1L1043.20 316.7L1044.00 317.1L1044.80 317.4L1045.60 317.5L1046.40 317.5L1047.20 317.3L1048.00 316.9L1048.80 316.4L1049.60 315.7L1050.40 314.9L1051.20 314.0L1052.00 313.0L1052.80 312.1L1053.60 311.1L1054.40 310.2L1055.20 309.3L1056.00 308.6L1056.80 308.0L1057.60 307.6L1058.40 307.4L1059.20 307.4L1060.00 307.6L1060.80 308.0L1061.60 308.6L1062.40 309.4L1063.20 310.4L1064.00 311.5L1064.80 312.7L1065.60 313.9L1066.40 315.1L1067.20 316.3L1068.00 317.3L1068.80 318.3L1069.60 319.0L1070.40 319.6L1071.20 319.9L1072.00 320.0L1072.80 319.8L1073.60 319.3L1074.40 318.6L1075.20 317.7L1076.00 316.5L1076.80 315.2L1077.60 313.7L1078.40 312.2L1079.20 310.7L1080.00 309.2L1080.80 307.9L1081.60 306.7L1082.40 305.7L1083.20 304.9L1084.00 304.4L1084.80 304.3L1085.60 304.5L1086.40 305.0L1087.20 305.8L1088.00 306.9L1088.80 308.3L1089.60 309.9L1090.40 311.6L1091.20 313.5L1092.00 315.4L1092.80 317.2L1093.60 319.0L1094.40 320.5L1095.20 321.8L1096.00 322.9L1096.80 323.5L1097.60 323.8L1098.40 323.7L1099.20 323.1L1100.00 322.2L1100.80 320.9L1101.60 319.2L1102.40 317.3L1103.20 315.2L1104.00 312.9L1104.80 310.5L1105.60 308.2L1106.40 306.0L1107.20 304.0L1108.00 302.3L1108.80 301.0L1109.60 300.0L1110.40 299.6L1111.20 299.6L1112.00 300.2L1112.80 301.2L1113.60 302.7L1114.40 304.7L1115.20 307.0L1116.00 309.6L1116.80 312.5L1117.60 315.4L1118.40 318.3L1119.20 321.0L1120.00 323.6L1120.80 325.8L1121.60 327.6L1122.40 328.8L1123.20 329.5L1124.00 329.6L1124.80 329.1L1125.60 327.9L1126.40 326.1L1127.20 323.8L1128.00 321.0L1128.80 317.8L1129.60 314.4L1130.40 310.8L1131.20 307.2L1132.00 303.7L1132.80 300.4L1133.60 297.6L1134.40 295.3L1135.20 293.5L1136.00 292.5L1136.80 292.2L1137.60 292.7L1138.40 294.0L1139.20 296.0L1140.00 298.7L1140.80 302.1L1141.60 305.9L1142.40 310.2L1143.20 314.6L1144.00 319.1L1144.80 323.5L1145.60 327.6L1146.40 331.2L1147.20 334.2L1148.00 336.6L1148.80 338.0L1149.60 338.6L1150.40 338.2L1151.20 336.8L1152.00 334.5L1152.80 331.3L1153.60 327.3L1154.40 322.7L1155.20 317.5L1156.00 312.1L1156.80 306.5L1157.60 301.0L1158.40 295.9L1159.20 291.2L1160.00 287.2L1160.80 284.2L1161.60 282.1L1162.40 281.1L1163.20 281.3L1164.00 282.8L1164.80 285.4L1165.60 289.1L1166.40 293.8L1167.20 299.4L1168.00 305.6L1168.80 312.3L1169.60 319.2L1170.40 326.0L1171.20 332.4L1172.00 338.3L1172.80 343.4L1173.60 347.5L1174.40 350.3L1175.20 351.8L1176.00 351.8L1176.80 350.4L1177.60 347.5L1178.40 343.2L1179.20 337.6L1180.00 330.9L1180.80 323.4L1181.60 315.3L1182.40 306.8L1183.20 298.4L1184.00 290.3L1184.80 282.9L1185.60 276.4L1186.40 271.1L1187.20 267.2L1188.00 265.0L1188.80 264.6L1189.60 265.9L1190.40 269.1L1191.20 274.0L1192.00 280.5L1192.80 288.4L1193.60 297.4L1194.40 307.2L1195.20 317.5L1196.00 327.8L1196.80 337.8L1197.60 347.1L1198.40 355.3L1199.20 362.1L1200.00 367.2L1200.80 370.3L1201.60 371.3L1202.40 370.1L1203.20 366.7L1204.00 361.1L1204.80 353.6L1205.60 344.3L1206.40 333.5L1207.20 321.8L1208.00 309.3L1208.80 296.7L1209.60 284.4L1210.40 272.9L1211.20 262.6L1212.00 253.9L1212.80 247.3L1213.60 243.0L1214.40 241.2L1215.20 242.1L1216.00 245.7L1216.80 251.8L1217.60 260.4L1218.40 271.2L1219.20 283.8L1220.00 297.7L1220.80 312.5L1221.60 327.6L1222.40 342.5L1223.20 356.5L1224.00 369.2L1224.80 379.9L1225.60 388.4L1226.40 394.1L1227.20 396.8L1228.00 396.4L1228.80 392.7L1229.60 385.9L1230.40 376.2L1231.20 363.8L1232.00 349.2L1232.80 332.9L1233.60 315.5L1234.40 297.5L1235.20 279.8L1236.00 262.9L1236.80 247.5L1237.60 234.3L1238.40 223.7L1239.20 216.3L1240.00 212.3L1240.80 212.1L1241.60 215.6L1242.40 222.8L1243.20 233.5L1244.00 247.3L1244.80 263.9L1245.60 282.5L1246.40 302.6L1247.20 323.3L1248.00 344.0L1248.80 363.8L1249.60 382.0L1250.40 397.8L1251.20 410.6L1252.00 419.8L1252.80 425.1L1253.60 426.2L1254.40 422.9L1255.20 415.4L1256.00 403.8L1256.80 388.5L1257.60 370.0L1258.40 349.1L1259.20 326.4L1260.00 302.7L1260.80 279.0L1261.60 256.2L1262.40 235.1L1263.20 216.6L1264.00 201.4L1264.80 190.1L1265.60 183.2L1266.40 181.0L1267.20 183.7L1268.00 191.3L1268.80 203.4L1269.60 219.7L1270.40 239.7L1271.20 262.6L1272.00 287.5L1272.80 313.7L1273.60 340.0L1274.40 365.6L1275.20 389.3L1276.00 410.3L1276.80 427.8L1277.60 441.1L1278.40 449.6L1279.20 452.9L1280.00 450.9L1280.80 443.5L1281.60 431.1L1282.40 414.0L1283.20 392.8L1284.00 368.3L1284.80 341.4L1285.60 313.1L1286.40 284.4L1287.20 256.4L1288.00 230.2L1288.80 206.7L1289.60 187.0L1290.40 171.6L1291.20 161.4L1292.00 156.6L1292.80 157.5L1293.60 164.1L1294.40 176.3L1295.20 193.5L1296.00 215.2L1296.80 240.5L1297.60 268.7L1298.40 298.5L1299.20 329.0L1300.00 358.9L1300.80 387.2L1301.60 412.7L1302.40 434.6L1303.20 451.9L1304.00 464.0L1304.80 470.5L1305.60 470.9L1306.40 465.4L1307.20 454.0L1308.00 437.2L1308.80 415.6L1309.60 389.9L1310.40 361.1L1311.20 330.2L1312.00 298.4L1312.80 266.9L1313.60 236.8L1314.40 209.2L1315.20 185.3L1316.00 165.8L1316.80 151.6L1317.60 143.2L1318.40 140.9L1319.20 144.8L1320.00 154.7L1320.80 170.5L1321.60 191.4L1322.40 216.8L1323.20 245.6L1324.00 276.9L1324.80 309.5L1325.60 342.1L1326.40 373.6L1327.20 402.9L1328.00 428.7L1328.80 450.3L1329.60 466.6L1330.40 477.2L1331.20 481.7L1332.00 479.7L1332.80 471.5L1333.60 457.3L1334.40 437.6L1335.20 413.1L1336.00 384.8L1336.80 353.5L1337.60 320.6L1338.40 287.2L1339.20 254.5L1340.00 223.7L1340.80 196.0L1341.60 172.4L1342.40 153.8L1343.20 140.8L1344.00 133.9L1344.80 133.4L1345.60 139.4L1346.40 151.6L1347.20 169.5L1348.00 192.6L1348.80 219.9L1349.60 250.6L1350.40 283.4L1351.20 317.2L1352.00 350.7L1352.80 382.7L1353.60 412.1L1354.40 437.7L1355.20 458.6L1356.00 474.1L1356.80 483.6L1357.60 486.7L1358.40 483.4L1359.20 473.6L1360.00 457.8L1360.80 436.6L1361.60 410.7L1362.40 381.1L1363.20 348.8L1364.00 315.0L1364.80 281.0L1365.60 247.9L1366.40 217.0L1367.20 189.5L1368.00 166.2L1368.80 148.1L1369.60 135.8L1370.40 129.8L1371.20 130.3L1372.00 137.2L1372.80 150.4L1373.60 169.3L1374.40 193.2L1375.20 221.4L1376.00 252.7L1376.80 286.1L1377.60 320.3L1378.40 354.1L1379.20 386.3L1380.00 415.7L1380.80 441.2L1381.60 462.0L1382.40 477.1L1383.20 486.2L1384.00 488.9L1384.80 485.0L1385.60 474.7L1386.40 458.5L1387.20 436.7L1388.00 410.3L1388.80 380.3L1389.60 347.6L1390.40 313.5L1391.20 279.2L1392.00 245.9L1392.80 214.9L1393.60 187.3L1394.40 164.1L1395.20 146.1L1396.00 133.9L1396.80 128.1L1397.60 128.9L1398.40 136.1L1399.20 149.6L1400.00 168.8L1400.80 193.1L1401.60 221.6L1402.40 253.3L1403.20 286.9L1404.00 321.4L1404.80 355.4L1405.60 387.7L1406.40 417.2L1407.20 442.7L1408.00 463.3L1408.80 478.4L1409.60 487.3L1410.40 489.8L1411.20 485.7L1412.00 475.1L1412.80 458.6L1413.60 436.6L1414.40 409.9L1415.20 379.6L1416.00 346.7L1416.80 312.4L1417.60 278.0L1418.40 244.6L1419.20 213.6L1420.00 186.0L1420.80 162.9L1421.60 145.0L1422.40 133.0L1423.20 127.4L1424.00 128.3L1424.80 135.8L1425.60 149.5L1426.40 169.0L1427.20 193.5L1428.00 222.2L1428.80 254.1L1429.60 287.9L1430.40 322.4L1431.20 356.5L1432.00 388.8L1432.80 418.2L1433.60 443.7L1434.40 464.2L1435.20 479.2L1436.00 487.9L1436.80 490.1L1437.60 485.8L1438.40 475.1L1439.20 458.3L1440.00 436.1L1440.80 409.2L1441.60 378.8L1442.40 345.7L1443.20 311.4L1444.00 276.9L1444.80 243.6L1445.60 212.6L1446.40 185.0L1447.20 162.0L1448.00 144.3L1448.80 132.5L1449.60 127.0L1450.40 128.2L1451.20 135.9L1452.00 149.8L1452.80 169.5L1453.60 194.2L1454.40 223.0L1455.20 255.0L1456.00 288.9L1456.80 323.5L1457.60 357.5L1458.40 389.8L1459.20 419.2L1460.00 444.5L1460.80 464.9L1461.60 479.7L1462.40 488.2L1463.20 490.3L1464.00 485.7L1464.80 474.8L1465.60 457.8L1466.40 435.4L1467.20 408.5L1468.00 377.9L1468.80 344.7L1469.60 310.3L1470.40 275.8L1471.20 242.5L1472.00 211.6L1472.80 184.2L1473.60 161.3L1474.40 143.7L1475.20 132.1L1476.00 126.9L1476.80 128.2L1477.60 136.1L1478.40 150.2L1479.20 170.1L1480.00 194.9L1480.80 223.9L1481.60 256.0L1482.40 289.9L1483.20 324.5L1484.00 358.6L1484.80 390.8L1485.60 420.0L1486.40 445.2L1487.20 465.5L1488.00 480.1L1488.80 488.4L1489.60 490.3L1490.40 485.6L1491.20 474.4L1492.00 457.3L1492.80 434.7L1493.60 407.6L1494.40 376.9L1495.20 343.7L1496.00 309.3L1496.80 274.8L1497.60 241.5L1498.40 210.7L1499.20 183.4L1500.00 160.6L1500.80 143.2L1501.60 131.8L1502.40 126.8L1503.20 128.3L1504.00 136.4L1504.80 150.7L1505.60 170.7L1506.40 195.7L1507.20 224.8L1508.00 256.9L1508.80 290.9L1509.60 325.6L1510.40 359.6L1511.20 391.7L1512.00 420.9L1512.80 446.0L1513.60 466.1L1514.40 480.5L1515.20 488.6L1516.00 490.3L1516.80 485.3L1517.60 474.0L1518.40 456.7L1519.20 434.0L1520.00 406.7L1520.80 376.0L1521.60 342.7L1522.40 308.2L1523.20 273.8L1524.00 240.6L1524.80 209.8L1525.60 182.6L1526.40 160.0L1527.20 142.8L1528.00 131.5L1528.80 126.7L1529.60 128.4L1530.40 136.7L1531.20 151.2L1532.00 171.4L1532.80 196.5L1533.60 225.7L1534.40 257.9L1535.20 292.0L1536.00 326.6L1536.80 360.6L1537.60 392.7L1538.40 421.7L1539.20 446.6L1540.00 466.6L1540.80 480.8L1541.60 488.8L1542.40 490.2L1543.20 485.1L1544.00 473.6L1544.80 456.1L1545.60 433.2L1546.40 405.9L1547.20 375.0L1548.00 341.7L1548.80 307.2L1549.60 272.8L1550.40 239.6L1551.20 208.9L1552.00 181.9L1552.80 159.4L1553.60 142.3L1554.40 131.3L1555.20 126.6L1556.00 128.6L1556.80 137.1L1557.60 151.7L1558.40 172.1L1559.20 197.3L1560.00 226.7L1560.80 258.9L1561.60 293.0L1562.40 327.6L1563.20 361.6L1564.00 393.6L1564.80 422.5L1565.60 447.3L1566.40 467.1L1567.20 481.1L1568.00 488.9L1568.80 490.2L1569.60 484.9L1570.40 473.1L1571.20 455.5L1572.00 432.5L1572.80 405.0L1573.60 374.0L1574.40 340.7L1575.20 306.2L1576.00 271.7L1576.80 238.6L1577.60 208.1L1578.40 181.1L1579.20 158.8L1580.00 141.9L1580.80 131.0L1581.60 126.6L1582.40 128.7L1583.20 137.4L1584.00 152.2L1584.80 172.8L1585.60 198.2L1586.40 227.6L1587.20 259.9L1588.00 294.0L1588.80 328.7L1589.60 362.6L1590.40 394.5L1591.20 423.3L1592.00 448.0L1592.80 467.6L1593.60 481.5L1594.40 489.1L1595.20 490.1L1596.00 484.6L1596.80 472.7L1597.60 454.9L1598.40 431.7L1599.20 404.1L1600.00 373.1L1600.80 339.6L1601.60 305.1L1602.40 270.7L1603.20 237.7L1604.00 207.2L1604.80 180.4L1605.60 158.2L1606.40 141.5L1607.20 130.8L1608.00 126.6L1608.80 128.9L1609.60 137.8L1610.40 152.8L1611.20 173.4L1612.00 199.0L1612.80 228.5L1613.60 260.9L1614.40 295.1L1615.20 329.7L1616.00 363.6L1616.80 395.4L1617.60 424.1L1618.40 448.7L1619.20 468.1L1620.00 481.8L1620.80 489.2L1621.60 490.0L1622.40 484.3L1623.20 472.2L1624.00 454.2L1624.80 431.0L1625.60 403.2L1626.40 372.1L1627.20 338.6L1628.00 304.1L1628.80 269.7L1629.60 236.7L1630.40 206.3L1631.20 179.7L1632.00 157.6L1632.80 141.1L1633.60 130.6L1634.40 126.5L1635.20 129.1L1636.00 138.1L1636.80 153.3L1637.60 174.1L1638.40 199.8L1639.20 229.5L1640.00 261.9L1640.80 296.1L1641.60 330.7L1642.40 364.5L1643.20 396.3L1644.00 424.9L1644.80 449.3L1645.60 468.6L1646.40 482.1L1647.20 489.3L1648.00 490.0L1648.80 484.1L1649.60 471.8L1650.40 453.6L1651.20 430.2L1652.00 402.3L1652.80 371.1L1653.60 337.6" stroke="#e00000" stroke-width="5.3"/>
<path d="M2068.3 128L2068.6 492" stroke="#e00000" stroke-width="4.2" opacity="0.78"/>
</g>
<g filter="url(#sh)">
<text y="183.8" font-size="76" font-weight="bold" fill="#000"><tspan x="385" font-style="italic" font-weight="normal" textLength="61" lengthAdjust="spacingAndGlyphs">@</tspan> <tspan x="469.5" textLength="66.0" lengthAdjust="spacingAndGlyphs">14</tspan> <tspan x="556.5" textLength="137.0" lengthAdjust="spacingAndGlyphs">GHz</tspan></text>
<g transform="translate(385 183.8) scale(0.872 1)"><clipPath id="atc385"><ellipse cx="36.7" cy="-20.7" rx="20.7" ry="21.3" transform="rotate(-20 36.7 -20.7)"/></clipPath><g clip-path="url(#atc385)" aria-hidden="true"><text font-size="76" font-style="italic" font-weight="normal" stroke="#000" stroke-width="4.33" stroke-linejoin="round">@</text></g></g>
</g>
<g>
<text y="472.6" font-size="77" font-weight="bold" fill="#000" ><tspan x="346.5" textLength="167.5" lengthAdjust="spacingAndGlyphs">VCO</tspan> <tspan x="541.5" textLength="187.0" lengthAdjust="spacingAndGlyphs">Swing</tspan> <tspan x="766.0" textLength="48.5" lengthAdjust="spacingAndGlyphs">=</tspan> <tspan x="830.0" textLength="38.0" lengthAdjust="spacingAndGlyphs">1</tspan> <tspan x="879.5" textLength="63.1" lengthAdjust="spacingAndGlyphs">V</tspan></text>
<text y="570.3" font-size="77" font-weight="bold" fill="#ff0000" ><tspan x="346.5" textLength="154.0" lengthAdjust="spacingAndGlyphs">PLL</tspan> <tspan x="516.8" textLength="174.2" lengthAdjust="spacingAndGlyphs">Buffe</tspan><tspan x="700.0" textLength="34.0" lengthAdjust="spacingAndGlyphs">r</tspan> <tspan x="753.0" textLength="187.0" lengthAdjust="spacingAndGlyphs">Swing</tspan> <tspan x="977.5" textLength="48.5" lengthAdjust="spacingAndGlyphs">=</tspan> <tspan x="1041.5" textLength="112.5" lengthAdjust="spacingAndGlyphs">800</tspan> <tspan x="1181.6" textLength="115.4" lengthAdjust="spacingAndGlyphs">mV</tspan></text>
<text y="663.5" font-size="77" font-weight="bold" fill="#0000ff" ><tspan x="349.0" textLength="146.0" lengthAdjust="spacingAndGlyphs">Test</tspan> <tspan x="508.6" textLength="175.4" lengthAdjust="spacingAndGlyphs">Buffe</tspan><tspan x="693.0" textLength="35.5" lengthAdjust="spacingAndGlyphs">r</tspan> <tspan x="744.8" textLength="186.8" lengthAdjust="spacingAndGlyphs">Swing</tspan> <tspan x="966.5" textLength="48.5" lengthAdjust="spacingAndGlyphs">=</tspan> <tspan x="1030.5" textLength="112.5" lengthAdjust="spacingAndGlyphs">650</tspan> <tspan x="1170.6" textLength="118.2" lengthAdjust="spacingAndGlyphs">mV</tspan></text>
</g>
<text y="1145.8" font-size="75" font-weight="bold" fill="#000" ><tspan x="942.0" textLength="143.5" lengthAdjust="spacingAndGlyphs">Time</tspan> <tspan x="1116.0" textLength="81.0" lengthAdjust="spacingAndGlyphs">(ns</tspan><tspan x="1203.0" textLength="21.0" lengthAdjust="spacingAndGlyphs">)</tspan></text>
<g transform="translate(87 816.5) rotate(-90)"><text y="0.0" font-size="77" font-weight="bold" fill="#000" ><tspan x="0.0" textLength="258.0" lengthAdjust="spacingAndGlyphs">Voltage</tspan> <tspan x="284.5" textLength="105.2" lengthAdjust="spacingAndGlyphs">(V)</tspan></text></g>
<g fill="#000">
<polygon points="155,150 168.7,150 163,1062 149,1062"/>
<polygon points="161.8,107.7 181.9,151.6 141.2,151.6"/>
<path d="M149 1050 L2066 1041 L2066 1057 L155 1066 Q149 1066 149 1060 Z"/>
<polygon points="2105.7,1048.5 2064,1030 2064,1068.6"/>
</g>
</g>
<g id="chart18">
<g filter="url(#b2)"><rect x="306" y="1323" width="1756" height="4.5" fill="#d6d6cf"/><rect x="306" y="1327.5" width="1756" height="4.5" fill="#a9afbd"/><rect x="289" y="1324" width="18" height="5" fill="#e4e4e0"/></g>
<path d="M2013.5 1323.2h11v4h-11zM1990.1 1323.2h11v4h-11zM1966.6 1323.2h11v4h-11zM1943.2 1323.2h11v4h-11zM1919.8 1323.2h11v4h-11zM1896.3 1323.2h11v4h-11zM1872.9 1323.2h11v4h-11zM1849.5 1323.2h11v4h-11zM1826.1 1323.2h11v4h-11zM1802.6 1323.2h11v4h-11zM1779.2 1323.2h11v4h-11zM1755.8 1323.2h11v4h-11zM1732.3 1323.2h11v4h-11zM1708.9 1323.2h11v4h-11zM1685.5 1323.2h11v4h-11zM1662.0 1323.2h11v4h-11zM1638.6 1323.2h11v4h-11zM1615.2 1323.2h11v4h-11zM1591.8 1323.2h11v4h-11zM1568.3 1323.2h11v4h-11zM1544.9 1323.2h11v4h-11zM1521.5 1323.2h11v4h-11zM1498.0 1323.2h11v4h-11zM1474.6 1323.2h11v4h-11zM1451.2 1323.2h11v4h-11zM1427.7 1323.2h11v4h-11zM1404.3 1323.2h11v4h-11zM1380.9 1323.2h11v4h-11zM1357.5 1323.2h11v4h-11zM1334.0 1323.2h11v4h-11zM1310.6 1323.2h11v4h-11zM1287.2 1323.2h11v4h-11z" fill="#4646d6" opacity="0.85" filter="url(#b1)"/>
<rect x="190" y="2255.5" width="1871" height="3" fill="#f0f0f0"/>
<path d="M281.6 1338V2168.5M290.0 2175.3H2061.3M271.6 2167.5H281.6M275.1 2149.1H281.6M275.1 2130.6H281.6M275.1 2112.2H281.6M275.1 2093.8H281.6M271.6 2075.3H281.6M275.1 2056.9H281.6M275.1 2038.5H281.6M275.1 2020.1H281.6M275.1 2001.6H281.6M271.6 1983.2H281.6M275.1 1964.8H281.6M275.1 1946.3H281.6M275.1 1927.9H281.6M275.1 1909.5H281.6M271.6 1891.0H281.6M275.1 1872.6H281.6M275.1 1854.2H281.6M275.1 1835.8H281.6M275.1 1817.3H281.6M271.6 1798.9H281.6M275.1 1780.5H281.6M275.1 1762.0H281.6M275.1 1743.6H281.6M275.1 1725.2H281.6M271.6 1706.8H281.6M275.1 1688.3H281.6M275.1 1669.9H281.6M275.1 1651.5H281.6M275.1 1633.0H281.6M271.6 1614.6H281.6M275.1 1596.2H281.6M275.1 1577.7H281.6M275.1 1559.3H281.6M275.1 1540.9H281.6M271.6 1522.4H281.6M275.1 1504.0H281.6M275.1 1485.6H281.6M275.1 1467.2H281.6M275.1 1448.7H281.6M271.6 1430.3H281.6M275.1 1411.9H281.6M275.1 1393.4H281.6M275.1 1375.0H281.6M275.1 1356.6H281.6M271.6 1338.1H281.6M291.5 2175.3v9M337.0 2175.3v6.5M382.6 2175.3v6.5M428.1 2175.3v6.5M473.6 2175.3v6.5M519.1 2175.3v9M564.7 2175.3v6.5M610.2 2175.3v6.5M655.7 2175.3v6.5M701.3 2175.3v6.5M746.8 2175.3v9M792.3 2175.3v6.5M837.9 2175.3v6.5M883.4 2175.3v6.5M928.9 2175.3v6.5M974.4 2175.3v9M1020.0 2175.3v6.5M1065.5 2175.3v6.5M1111.0 2175.3v6.5M1156.6 2175.3v6.5M1202.1 2175.3v9M1247.6 2175.3v6.5M1293.2 2175.3v6.5M1338.7 2175.3v6.5M1384.2 2175.3v6.5M1429.7 2175.3v9M1475.3 2175.3v6.5M1520.8 2175.3v6.5M1566.3 2175.3v6.5M1611.9 2175.3v6.5M1657.4 2175.3v9M1702.9 2175.3v6.5M1748.5 2175.3v6.5M1794.0 2175.3v6.5M1839.5 2175.3v6.5M1885.0 2175.3v9M1930.6 2175.3v6.5M1976.1 2175.3v6.5M2021.6 2175.3v6.5" stroke="#9a9a9a" stroke-width="2.6" fill="none" filter="url(#b2)"/>
<path d="M290.0 2177.8H2061.3" stroke="#d0d0d0" stroke-width="2.5" fill="none" filter="url(#b2)"/>
<g fill="#1c1c1c" font-weight="bold" font-size="29" filter="url(#b1)">
<text x="208" y="1345.7">1.75</text>
<text x="208" y="1437.8">1.5</text>
<text x="208" y="1530.0">1.25</text>
<text x="208" y="1622.1">1.0</text>
<text x="208" y="1714.2">.75</text>
<text x="208" y="1806.4">.5</text>
<text x="208" y="1898.5">.25</text>
<text x="208" y="1990.7">0.0</text>
<text x="208" y="2082.8">−.25</text>
<text x="208" y="2175.0">−.5</text>
<text x="291.5" y="2219" text-anchor="middle">0.0</text>
<text x="519.1" y="2219" text-anchor="middle">.5</text>
<text x="746.8" y="2219" text-anchor="middle">1.0</text>
<text x="974.5" y="2219" text-anchor="middle">1.5</text>
<text x="1202.1" y="2219" text-anchor="middle">2.0</text>
<text x="1429.8" y="2219" text-anchor="middle">2.5</text>
<text x="1657.4" y="2219" text-anchor="middle">3.0</text>
<text x="1885.0" y="2219" text-anchor="middle">3.5</text>
<text x="1145" y="2246.5" font-size="28" textLength="115" lengthAdjust="spacingAndGlyphs">time (ns)</text>
<text transform="translate(198 1786) rotate(-90)" font-size="23" font-weight="normal" fill="#111" stroke="#111" stroke-width="0.5" textLength="68" lengthAdjust="spacingAndGlyphs">V (V)</text>
</g>
<g fill="none" stroke-linejoin="round" filter="url(#b2)">
<path transform="scale(1.05 1)" d="M274.29 1692.5L1000.00 1692.1L1000.71 1692.1L1001.43 1692.1L1002.14 1692.2L1002.86 1692.2L1003.57 1692.2L1004.29 1692.3L1005.00 1692.3L1005.71 1692.4L1006.43 1692.4L1007.14 1692.4L1007.86 1692.5L1008.57 1692.5L1009.29 1692.5L1010.00 1692.5L1010.71 1692.5L1011.43 1692.5L1012.14 1692.5L1012.86 1692.5L1013.57 1692.5L1014.29 1692.4L1015.00 1692.4L1015.71 1692.3L1016.43 1692.3L1017.14 1692.2L1017.86 1692.2L1018.57 1692.1L1019.29 1692.1L1020.00 1692.1L1020.71 1692.0L1021.43 1692.0L1022.14 1692.0L1022.86 1692.0L1023.57 1692.0L1024.29 1692.0L1025.00 1692.1L1025.71 1692.1L1026.43 1692.2L1027.14 1692.2L1027.86 1692.3L1028.57 1692.4L1029.29 1692.4L1030.00 1692.5L1030.71 1692.6L1031.43 1692.6L1032.14 1692.6L1032.86 1692.7L1033.57 1692.7L1034.29 1692.7L1035.00 1692.7L1035.71 1692.6L1036.43 1692.6L1037.14 1692.5L1037.86 1692.5L1038.57 1692.4L1039.29 1692.3L1040.00 1692.2L1040.71 1692.1L1041.43 1692.1L1042.14 1692.0L1042.86 1691.9L1043.57 1691.9L1044.29 1691.8L1045.00 1691.8L1045.71 1691.8L1046.43 1691.9L1047.14 1691.9L1047.86 1692.0L1048.57 1692.0L1049.29 1692.1L1050.00 1692.2L1050.71 1692.3L1051.43 1692.4L1052.14 1692.5L1052.86 1692.6L1053.57 1692.7L1054.29 1692.8L1055.00 1692.8L1055.71 1692.9L1056.43 1692.9L1057.14 1692.9L1057.86 1692.9L1058.57 1692.8L1059.29 1692.7L1060.00 1692.7L1060.71 1692.6L1061.43 1692.4L1062.14 1692.3L1062.86 1692.2L1063.57 1692.1L1064.29 1691.9L1065.00 1691.8L1065.71 1691.7L1066.43 1691.7L1067.14 1691.6L1067.86 1691.6L1068.57 1691.6L1069.29 1691.6L1070.00 1691.7L1070.71 1691.7L1071.43 1691.8L1072.14 1692.0L1072.86 1692.1L1073.57 1692.3L1074.29 1692.4L1075.00 1692.6L1075.71 1692.7L1076.43 1692.9L1077.14 1693.0L1077.86 1693.1L1078.57 1693.1L1079.29 1693.2L1080.00 1693.2L1080.71 1693.2L1081.43 1693.1L1082.14 1693.0L1082.86 1692.9L1083.57 1692.7L1084.29 1692.6L1085.00 1692.4L1085.71 1692.2L1086.43 1692.0L1087.14 1691.8L1087.86 1691.6L1088.57 1691.5L1089.29 1691.3L1090.00 1691.2L1090.71 1691.2L1091.43 1691.2L1092.14 1691.2L1092.86 1691.3L1093.57 1691.4L1094.29 1691.5L1095.00 1691.7L1095.71 1691.9L1096.43 1692.2L1097.14 1692.4L1097.86 1692.7L1098.57 1692.9L1099.29 1693.1L1100.00 1693.3L1100.71 1693.5L1101.43 1693.6L1102.14 1693.7L1102.86 1693.7L1103.57 1693.7L1104.29 1693.6L1105.00 1693.5L1105.71 1693.3L1106.43 1693.1L1107.14 1692.8L1107.86 1692.5L1108.57 1692.2L1109.29 1691.9L1110.00 1691.6L1110.71 1691.3L1111.43 1691.0L1112.14 1690.8L1112.86 1690.6L1113.57 1690.5L1114.29 1690.5L1115.00 1690.5L1115.71 1690.6L1116.43 1690.8L1117.14 1691.0L1117.86 1691.3L1118.57 1691.6L1119.29 1692.0L1120.00 1692.4L1120.71 1692.8L1121.43 1693.2L1122.14 1693.6L1122.86 1693.9L1123.57 1694.2L1124.29 1694.4L1125.00 1694.6L1125.71 1694.6L1126.43 1694.6L1127.14 1694.5L1127.86 1694.3L1128.57 1694.0L1129.29 1693.6L1130.00 1693.2L1130.71 1692.7L1131.43 1692.2L1132.14 1691.7L1132.86 1691.2L1133.57 1690.7L1134.29 1690.3L1135.00 1689.9L1135.71 1689.6L1136.43 1689.4L1137.14 1689.3L1137.86 1689.3L1138.57 1689.4L1139.29 1689.7L1140.00 1690.1L1140.71 1690.5L1141.43 1691.1L1142.14 1691.7L1142.86 1692.3L1143.57 1693.0L1144.29 1693.7L1145.00 1694.3L1145.71 1694.9L1146.43 1695.4L1147.14 1695.9L1147.86 1696.1L1148.57 1696.3L1149.29 1696.3L1150.00 1696.1L1150.71 1695.8L1151.43 1695.4L1152.14 1694.8L1152.86 1694.0L1153.57 1693.2L1154.29 1692.4L1155.00 1691.5L1155.71 1690.6L1156.43 1689.7L1157.14 1688.9L1157.86 1688.2L1158.57 1687.6L1159.29 1687.2L1160.00 1687.0L1160.71 1687.0L1161.43 1687.2L1162.14 1687.6L1162.86 1688.2L1163.57 1688.9L1164.29 1689.9L1165.00 1690.9L1165.71 1692.1L1166.43 1693.3L1167.14 1694.5L1167.86 1695.6L1168.57 1696.7L1169.29 1697.7L1170.00 1698.4L1170.71 1699.0L1171.43 1699.3L1172.14 1699.3L1172.86 1699.1L1173.57 1698.6L1174.29 1697.9L1175.00 1696.9L1175.71 1695.7L1176.43 1694.3L1177.14 1692.8L1177.86 1691.2L1178.57 1689.6L1179.29 1688.1L1180.00 1686.6L1180.71 1685.3L1181.43 1684.3L1182.14 1683.5L1182.86 1683.1L1183.57 1683.0L1184.29 1683.2L1185.00 1683.8L1185.71 1684.8L1186.43 1686.1L1187.14 1687.7L1187.86 1689.5L1188.57 1691.4L1189.29 1693.5L1190.00 1695.6L1190.71 1697.7L1191.43 1699.6L1192.14 1701.3L1192.86 1702.7L1193.57 1703.8L1194.29 1704.4L1195.00 1704.6L1195.71 1704.3L1196.43 1703.6L1197.14 1702.4L1197.86 1700.7L1198.57 1698.7L1199.29 1696.3L1200.00 1693.7L1200.71 1691.0L1201.43 1688.2L1202.14 1685.5L1202.86 1682.9L1203.57 1680.7L1204.29 1678.8L1205.00 1677.3L1205.71 1676.4L1206.43 1676.1L1207.14 1676.4L1207.86 1677.3L1208.57 1678.9L1209.29 1681.0L1210.00 1683.6L1210.71 1686.7L1211.43 1690.0L1212.14 1693.6L1212.86 1697.2L1213.57 1700.8L1214.29 1704.1L1215.00 1707.1L1215.71 1709.7L1216.43 1711.6L1217.14 1712.8L1217.86 1713.3L1218.57 1713.0L1219.29 1711.9L1220.00 1710.0L1220.71 1707.3L1221.43 1704.0L1222.14 1700.1L1222.86 1695.8L1223.57 1691.2L1224.29 1686.5L1225.00 1681.8L1225.71 1677.4L1226.43 1673.5L1227.14 1670.2L1227.86 1667.6L1228.57 1665.8" stroke="#000" stroke-width="5.3"/><path transform="scale(1.3 1)" d="M992.31 1665.8L992.31 1665.8L992.88 1665.1L993.46 1665.4L994.04 1666.7L994.62 1669.1L995.19 1672.4L995.77 1676.7L996.35 1681.6L996.92 1687.2L997.50 1693.1L998.08 1699.2L998.65 1705.2L999.23 1710.9L999.81 1716.0L1000.38 1720.4L1000.96 1723.9L1001.54 1726.2L1002.12 1727.3L1002.69 1727.3L1003.27 1725.8L1003.85 1723.0L1004.42 1718.9L1005.00 1713.5L1005.58 1707.2L1006.15 1700.0L1006.73 1692.2L1007.31 1684.1L1007.88 1676.0L1008.46 1668.2L1009.04 1661.0L1009.62 1654.8L1010.19 1649.8L1010.77 1646.3L1011.35 1644.4L1011.92 1644.4L1012.50 1646.2L1013.08 1649.9L1013.65 1655.4L1014.23 1662.6L1014.81 1671.1L1015.38 1680.8L1015.96 1691.3L1016.54 1702.1L1017.12 1713.0L1017.69 1723.5L1018.27 1733.2L1018.85 1741.6L1019.42 1748.4L1020.00 1753.2L1020.58 1755.9L1021.15 1756.1L1021.73 1753.9L1022.31 1749.2L1022.88 1742.1L1023.46 1732.9L1024.04 1721.7L1024.62 1709.1L1025.19 1695.3L1025.77 1680.9L1026.35 1666.5L1026.92 1652.6" stroke="#000" stroke-width="5.3"/><path transform="scale(1.52 1)" d="M878.29 1652.6L878.29 1652.6L878.78 1639.7L879.28 1628.5L879.77 1619.3L880.26 1612.7L880.76 1608.9L881.25 1608.3L881.74 1611.1L882.24 1617.1L882.73 1626.2L883.22 1638.0L883.72 1652.4L884.21 1668.7L884.70 1686.4L885.20 1704.8L885.69 1723.3L886.18 1741.2L886.68 1757.7L887.17 1772.1L887.66 1783.9L888.16 1792.5L888.65 1797.5L889.14 1798.7L889.64 1795.9L890.13 1789.0L890.62 1778.1L891.12 1763.5L891.61 1745.7L892.11 1725.1L892.60 1702.6L893.09 1678.8L893.59 1654.8L894.08 1631.5L894.57 1609.7L895.07 1590.4L895.56 1575.4L896.05 1564.5L896.55 1558.4L897.04 1557.3L897.53 1561.4L898.03 1570.5L898.52 1584.5L899.01 1602.8L899.51 1624.8L900.00 1649.9L900.49 1676.9L900.99 1705.0L901.48 1733.1L901.97 1760.1L902.47 1785.0L902.96 1806.7L903.45 1824.4L903.95 1837.2L904.44 1844.7L904.93 1846.5L905.43 1842.4L905.92 1832.5L906.41 1817.1L906.91 1796.7L907.40 1772.0L907.89 1743.8L908.39 1713.3L908.88 1681.5L909.38 1649.7L909.87 1619.0L910.36 1590.6L910.86 1565.7L911.35 1545.4L911.84 1530.8L912.34 1522.1L912.83 1519.8L913.32 1524.1L913.82 1534.9L914.31 1551.7L914.80 1574.1L915.30 1601.2L915.79 1632.0L916.28 1665.4L916.78 1700.1L917.27 1734.9L917.76 1768.4L918.26 1799.3L918.75 1826.4L919.24 1848.7L919.74 1865.1L920.23 1874.9L920.72 1877.9L921.22 1873.8L921.71 1862.8L922.20 1845.3L922.70 1821.8L923.19 1793.2L923.68 1760.6L924.18 1725.1L924.67 1688.2L925.16 1651.2L925.66 1615.5L926.15 1582.4L926.64 1553.3L927.14 1529.4L927.63 1511.4L928.12 1500.2L928.62 1496.2L929.11 1499.7L929.61 1510.5L930.10 1528.3L930.59 1552.4L931.09 1582.1L931.58 1616.1L932.07 1653.3L932.57 1692.2L933.06 1731.3L933.55 1769.1L934.05 1804.2L934.54 1835.1L935.03 1860.7L935.53 1879.9L936.02 1892.2L936.51 1896.9L937.01 1893.8L937.50 1883.1L937.99 1865.1L938.49 1840.4L938.98 1810.1L939.47 1775.2L939.97 1737.0L940.46 1697.0L940.95 1656.7L941.45 1617.6L941.94 1581.2L942.43 1548.8L942.93 1521.9L943.42 1501.3L943.91 1487.8L944.41 1482.1L944.90 1484.4L945.39 1494.5L945.89 1512.2L946.38 1536.8L946.88 1567.4L947.37 1602.8L947.86 1641.8L948.36 1682.8L948.85 1724.1L949.34 1764.3L949.84 1801.9L950.33 1835.3L950.82 1863.3L951.32 1884.9L951.81 1899.2L952.30 1905.7L952.80 1904.0L953.29 1894.4L953.78 1877.1L954.28 1852.8L954.77 1822.3L955.26 1786.9L955.76 1747.8L956.25 1706.7L956.74 1664.9L957.24 1624.1L957.73 1585.8L958.22 1551.6L958.72 1522.6L959.21 1500.1L959.70 1484.8L960.20 1477.3L960.69 1478.0L961.18 1486.9L961.68 1503.5L962.17 1527.3L962.66 1557.4L963.16 1592.6L963.65 1631.6L964.14 1673.0L964.64 1715.2L965.13 1756.5L965.62 1795.3L966.12 1830.3L966.61 1860.0L967.11 1883.3L967.60 1899.4L968.09 1907.7L968.59 1907.8L969.08 1899.8L969.57 1883.9L970.07 1860.7L970.56 1831.1L971.05 1796.3L971.55 1757.5L972.04 1716.3L972.53 1674.2L973.03 1632.7L973.52 1593.5L974.01 1558.1L974.51 1527.7L975.00 1503.6L975.49 1486.6L975.99 1477.4L976.48 1476.4L976.97 1483.5L977.47 1498.6L977.96 1521.0L978.45 1549.8L978.95 1584.1L979.44 1622.5L979.93 1663.5L980.43 1705.7L980.92 1747.3L981.41 1786.8L981.91 1822.7L982.40 1853.7L982.89 1878.6L983.39 1896.5L983.88 1906.6L984.38 1908.5L984.87 1902.3L985.36 1888.1L985.86 1866.5L986.35 1838.3L986.84 1804.6L987.34 1766.6L987.83 1725.8L988.32 1683.7L988.82 1642.0L989.31 1602.1L989.80 1565.7L990.30 1534.1L990.79 1508.4L991.28 1489.8L991.78 1478.8L992.27 1475.9L992.76 1481.2L993.26 1494.5L993.75 1515.3L994.24 1542.8L994.74 1576.0L995.23 1613.5L995.72 1654.1L996.22 1696.1L996.71 1738.0L997.20 1778.1L997.70 1815.0L998.19 1847.2L998.68 1873.6L999.18 1893.1L999.67 1905.0L1000.16 1908.8L1000.66 1904.4L1001.15 1892.0L1001.64 1872.0L1002.14 1845.2L1002.63 1812.7L1003.12 1775.5L1003.62 1735.2L1004.11 1693.3L1004.61 1651.3L1005.10 1610.9L1005.59 1573.6L1006.09 1540.8L1006.58 1513.7L1007.07 1493.4L1007.57 1480.6L1008.06 1475.8L1008.55 1479.3L1009.05 1490.8L1009.54 1509.9L1010.03 1536.0L1010.53 1568.0L1011.02 1604.7L1011.51 1644.7L1012.01 1686.5L1012.50 1728.6L1012.99 1769.2L1013.49 1807.0L1013.98 1840.4L1014.47 1868.2L1014.97 1889.3L1015.46 1903.0L1015.95 1908.6L1016.45 1906.1L1016.94 1895.5L1017.43 1877.2L1017.93 1851.9L1018.42 1820.5L1018.91 1784.3L1019.41 1744.5L1019.90 1702.8L1020.39 1660.8L1020.89 1619.9L1021.38 1581.7L1021.88 1547.7L1022.37 1519.3L1022.86 1497.3L1023.36 1482.8L1023.85 1476.2L1024.34 1477.8L1024.84 1487.5L1025.33 1505.0L1025.82 1529.5L1026.32 1560.3L1026.81 1596.0L1027.30 1635.4L1027.80 1677.0L1028.29 1719.1L1028.78 1760.2L1029.28 1798.8L1029.77 1833.3L1030.26 1862.4L1030.76 1885.1L1031.25 1900.6L1031.74 1908.1L1032.24 1907.4L1032.73 1898.6L1033.22 1882.0L1033.72 1858.2L1034.21 1828.1L1034.70 1792.8L1035.20 1753.8L1035.69 1712.4L1036.18 1670.2L1036.68 1628.9L1037.17 1590.0L1037.66 1555.0L1038.16 1525.2L1038.65 1501.7L1039.14 1485.4L1039.64 1477.0L1040.13 1476.7L1040.62 1484.6L1041.12 1500.4L1041.61 1523.4L1042.11 1552.8L1042.60 1587.6L1043.09 1626.3L1043.59 1667.5L1044.08 1709.6L1044.57 1751.1L1045.07 1790.3L1045.56 1825.9L1046.05 1856.3L1046.55 1880.6L1047.04 1897.7L1047.53 1907.1L1048.03 1908.3L1048.52 1901.3L1049.01 1886.4L1049.51 1864.2L1050.00 1835.4L1050.49 1801.2L1050.99 1762.9L1051.48 1721.9L1051.97 1679.8L1052.47 1638.1L1052.96 1598.6L1053.45 1562.5L1053.95 1531.4L1054.44 1506.4L1054.93 1488.4L1055.43 1478.2L1055.92 1476.0L1056.41 1482.1L1056.91 1496.1L1057.40 1517.6L1057.89 1545.7L1058.39 1579.3L1058.88 1617.2L1059.38 1658.0L1059.87 1700.0L1060.36 1741.8L1060.86 1781.7L1061.35 1818.2L1061.84 1849.9L1062.34 1875.7L1062.83 1894.5L1063.32 1905.7L1063.82 1908.7L1064.31 1903.6L1064.80 1890.5L1065.30 1869.8L1065.79 1842.4L1066.28 1809.4L1066.78 1771.9L1067.27 1731.3L1067.76 1689.3L1068.26 1647.5L1068.75 1607.3L1069.24 1570.3L1069.74 1538.0L1070.23 1511.5L1070.72 1491.8L1071.22 1479.8L1071.71 1475.8L1072.20 1480.0L1072.70 1492.3L1073.19 1512.1L1073.68 1538.8L1074.18 1571.2L1074.67 1608.3L1075.16 1648.6L1075.66 1690.5L1076.15 1732.4L1076.64 1772.9L1077.14 1810.3L1077.63 1843.2L1078.12 1870.4L1078.62 1890.9L1079.11 1903.8L1079.61 1908.8L1080.10 1905.5L1080.59 1894.1L1081.09 1875.1L1081.58 1849.2L1082.07 1817.3L1082.57 1780.7L1083.06 1740.7L1083.55 1698.9L1084.05 1656.9L1084.54 1616.2L1085.03 1578.3L1085.53 1544.8L1086.02 1516.9L1086.51 1495.6L1087.01 1481.8L1087.50 1476.0L1087.99 1478.3L1088.49 1488.8L1088.98 1507.0L1089.47 1532.2L1089.97 1563.4L1090.46 1599.6L1090.95 1639.2L1091.45 1680.9L1091.94 1723.0L1092.43 1763.9L1092.93 1802.2L1093.42 1836.2L1093.91 1864.8L1094.41 1886.9L1094.90 1901.6L1095.39 1908.4L1095.89 1906.9L1096.38 1897.4L1096.88 1880.1L1097.37 1855.6L1097.86 1825.0L1098.36 1789.3L1098.85 1750.0L1099.34 1708.5L1099.84 1666.3L1100.33 1625.2L1100.82 1586.6L1101.32 1552.0L1101.81 1522.7L1102.30 1499.8L1102.80 1484.3L1103.29 1476.6L1103.78 1477.1L1104.28 1485.7L1104.77 1502.2L1105.26 1525.9L1105.76 1555.9L1106.25 1591.0L1106.74 1630.0L1107.24 1671.4L1107.73 1713.5L1108.22 1754.9L1108.72 1793.8L1109.21 1828.9L1109.70 1858.9L1110.20 1882.5L1110.69 1898.9L1111.18 1907.5L1111.68 1908.0L1112.17 1900.2L1112.66 1884.6L1113.16 1861.7L1113.65 1832.4L1114.14 1797.8L1114.64 1759.1L1115.13 1718.0L1115.62 1675.9L1116.12 1634.3L1116.61 1595.0L1117.11 1559.4L1117.60 1528.8L1118.09 1504.4L1118.59 1487.1L1119.08 1477.6L1119.57 1476.3L1120.07 1483.1L1120.56 1497.8L1121.05 1519.9L1121.55 1548.6L1122.04 1582.7L1122.53 1620.9L1123.03 1661.9L1123.52 1704.0L1124.01 1745.6L1124.51 1785.3L1125.00 1821.4L1125.49 1852.6L1125.99 1877.8L1126.48 1895.9L1126.97 1906.3L1127.47 1908.6L1127.96 1902.7L1128.45 1888.8L1128.95 1867.5L1129.44 1839.6L1129.93 1806.0L1130.43 1768.2L1130.92 1727.5L1131.41 1685.4L1131.91 1643.6L1132.40 1603.7L1132.89 1567.1L1133.39 1535.2L1133.88 1509.3L1134.38 1490.4L1134.87 1479.1L1135.36 1475.8L1135.86 1480.8L1136.35 1493.8L1136.84 1514.3L1137.34 1541.6L1137.83 1574.5L1138.32 1612.0L1138.82 1652.4L1139.31 1694.4L1139.80 1736.3L1140.30 1776.5L1140.79 1813.6L1141.28 1846.0L1141.78 1872.7L1142.27 1892.4L1142.76 1904.6L1143.26 1908.8L1143.75 1904.8L1144.24 1892.7L1144.74 1873.0L1145.23 1846.4L1145.72 1814.1L1146.22 1777.1L1146.71 1736.9L1147.20 1695.0L1147.70 1653.0L1148.19 1612.5L1148.68 1575.0L1149.18 1542.0L1149.67 1514.6L1150.16 1494.0L1150.66 1480.9L1151.15 1475.9L1151.64 1479.0L1152.14 1490.2L1152.63 1509.0L1153.12 1534.8L1153.62 1566.6L1154.11 1603.2L1154.61 1643.1L1155.10 1684.8L1155.59 1726.9L1156.09 1767.7L1156.58 1805.5L1157.07 1839.1L1157.57 1867.2L1158.06 1888.6L1158.55 1902.6L1159.05 1908.6L1159.54 1906.4L1160.03 1896.1L1160.53 1878.1L1161.02 1853.0L1161.51 1821.8L1162.01 1785.8L1162.50 1746.2L1162.99 1704.5L1163.49 1662.4L1163.98 1621.4L1164.47 1583.2L1164.97 1549.0L1165.46 1520.3L1165.95 1498.1L1166.45 1483.2L1166.94 1476.3L1167.43 1477.6L1167.93 1487.0L1168.42 1504.1L1168.91 1528.4L1169.41 1559.0L1169.90 1594.5L1170.39 1633.8L1170.89 1675.3L1171.38 1717.4L1171.88 1758.6L1172.37 1797.3L1172.86 1832.0L1173.36 1861.4L1173.85 1884.4L1174.34 1900.1L1174.84 1907.9L1175.33 1907.6L1175.82 1899.1L1176.32 1882.8L1176.81 1859.2L1177.30 1829.4L1177.80 1794.3L1178.29 1755.4L1178.78 1714.1L1179.28 1671.9L1179.77 1630.6L1180.26 1591.5L1180.76 1556.3L1181.25 1526.3L1181.74 1502.5L1182.24 1485.9L1182.73 1477.2L1183.22 1476.5L1183.72 1484.1L1184.21 1499.6L1184.70 1522.3L1185.20 1551.6L1185.69 1586.1L1186.18 1624.6L1186.68 1665.8L1187.17 1707.9L1187.66 1749.4L1188.16 1788.8L1188.65 1824.5L1189.14 1855.2L1189.64 1879.8L1190.13 1897.2L1190.62 1906.9L1191.12 1908.4L1191.61 1901.7L1192.11 1887.1L1192.60 1865.2L1193.09 1836.7L1193.59 1802.7L1194.08 1764.5L1194.57 1723.6L1195.07 1681.5L1195.56 1639.8L1196.05 1600.1L1196.55 1563.9L1197.04 1532.6L1197.53 1507.3L1198.03 1489.0L1198.52 1478.4L1199.01 1476.0L1199.51 1481.7L1200.00 1495.4L1200.49 1516.6L1200.99 1544.4L1201.48 1577.9L1201.97 1615.6L1202.47 1656.3L1202.96 1698.3L1203.45 1740.2L1203.95 1780.2L1204.44 1816.8L1204.93 1848.8L1205.43 1874.8L1205.92 1893.9L1206.41 1905.4L1206.91 1908.8L1207.40 1904.0L1207.89 1891.1L1208.39 1870.8L1208.88 1843.6L1209.38 1810.8L1209.87 1773.4L1210.36 1733.0L1210.86 1691.0L1211.35 1649.1L1211.84 1608.8L1212.34 1571.7L1212.83 1539.2L1213.32 1512.4L1213.82 1492.5L1214.31 1480.1L1214.80 1475.8L1215.30 1479.7L1215.79 1491.6L1216.28 1511.2L1216.78 1537.6L1217.27 1569.8L1217.76 1606.8L1218.26 1646.9L1218.75 1688.8L1219.24 1730.8L1219.74 1771.3L1220.23 1808.9L1220.72 1842.0L1221.22 1869.5L1221.71 1890.2L1222.20 1903.5L1222.70 1908.7L1223.19 1905.8L1223.68 1894.7L1224.18 1876.0L1224.67 1850.3L1225.16 1818.7L1225.66 1782.2L1226.15 1742.4L1226.64 1700.6L1227.14 1658.5L1227.63 1617.7L1228.12 1579.8L1228.62 1546.1L1229.11 1517.9L1229.61 1496.4L1230.10 1482.2L1230.59 1476.1L1231.09 1478.1L1231.58 1488.2L1232.07 1506.1L1232.57 1531.0L1233.06 1562.1L1233.55 1598.1L1234.05 1637.6L1234.54 1679.2L1235.03 1721.3L1235.53 1762.4L1236.02 1800.7L1236.51 1835.0L1237.01 1863.8L1237.50 1886.2L1237.99 1901.2L1238.49 1908.2L1238.98 1907.2L1239.47 1897.9L1239.97 1880.9L1240.46 1856.7L1240.95 1826.3L1241.45 1790.8L1241.94 1751.6L1242.43 1710.1L1242.93 1668.0L1243.42 1626.8L1243.91 1588.1L1244.41 1553.3L1244.90 1523.8L1245.39 1500.6L1245.89 1484.8L1246.38 1476.7L1246.88 1476.9L1247.37 1485.2L1247.86 1501.4L1248.36 1524.8L1248.85 1554.6L1249.34 1589.5L1249.84 1628.4L1250.33 1669.7L1250.82 1711.8L1251.32 1753.2L1251.81 1792.3L1252.30 1827.6L1252.80 1857.8L1253.29 1881.7L1253.78 1898.4L1254.28 1907.4L1254.77 1908.1L1255.26 1900.7L1255.76 1885.4L1256.25 1862.8L1256.74 1833.7L1257.24 1799.2L1257.73 1760.8L1258.22 1719.7L1258.72 1677.5L1259.21 1636.0L1259.70 1596.5L1260.20 1560.7L1260.69 1529.9L1261.18 1505.3L1261.68 1487.7L1262.17 1477.9L1262.66 1476.2L1263.16 1482.6L1263.65 1497.1L1264.14 1518.9L1264.64 1547.3L1265.13 1581.2L1265.62 1619.3L1266.12 1660.2L1266.61 1702.3L1267.11 1744.0L1267.60 1783.7L1268.09 1820.0L1268.59 1851.5L1269.08 1876.9L1269.57 1895.3L1270.07 1906.0L1270.56 1908.7L1271.05 1903.1L1271.55 1889.5L1272.04 1868.5L1272.53 1840.8L1273.03 1807.5L1273.52 1769.8L1274.01 1729.1L1274.51 1687.1L1275.00 1645.3L1275.49 1605.2L1275.99 1568.5L1276.48 1536.4L1276.97 1510.3L1277.47 1491.0L1277.96 1479.4L1278.45 1475.8L1278.95 1480.5L1279.44 1493.1L1279.93 1513.4L1280.43 1540.4L1280.92 1573.1L1281.41 1610.4L1281.91 1650.8L1282.40 1692.7L1282.89 1734.7L1283.39 1775.0L1283.88 1812.2L1284.38 1844.8L1284.87 1871.7L1285.36 1891.8L1285.86 1904.3L1286.35 1908.8L1286.84 1905.1L1287.34 1893.3L1287.83 1873.9L1288.32 1847.6L1288.82 1815.4L1289.31 1778.6L1289.80 1738.5L1290.30 1696.7L1290.79 1654.6L1291.28 1614.1L1291.78 1576.4L1292.27 1543.2L1292.76 1515.6L1293.26 1494.7L1293.75 1481.3L1294.24 1475.9L1294.74 1478.7L1295.23 1489.6L1295.72 1508.1L1296.22 1533.7L1296.71 1565.2L1297.20 1601.6L1297.70 1641.4L1298.19 1683.2L1298.68 1725.2L1299.18 1766.1L1299.67 1804.1L1300.16 1837.9L1300.66 1866.2L1301.15 1887.9L1301.64 1902.2L1302.14 1908.5L1302.63 1906.6L1303.12 1896.6L1303.62 1878.9L1304.11 1854.1L1304.61 1823.2L1305.10 1787.3L1305.59 1747.8L1306.09 1706.2L1306.58 1664.1L1307.07 1623.0L1307.57 1584.6L1308.06 1550.3L1308.55 1521.3L1309.05 1498.8L1309.54 1483.7L1310.03 1476.4L1310.53 1477.3L1311.02 1486.4L1311.51 1503.3L1312.01 1527.3L1312.50 1557.6L1312.99 1593.0L1313.49 1632.2L1313.98 1673.6L1314.47 1715.8L1314.97 1757.0L1315.46 1795.8L1315.95 1830.7L1316.45 1860.3L1316.94 1883.6L1317.43 1899.6L1317.93 1907.8L1318.42 1907.8L1318.91 1899.6L1319.41 1883.6L1319.90 1860.3L1320.39 1830.7L1320.89 1795.8L1321.38 1757.0L1321.88 1715.8L1322.37 1673.6L1322.86 1632.2L1323.36 1593.0L1323.85 1557.6L1324.34 1527.3L1324.84 1503.3L1325.33 1486.4L1325.82 1477.3L1326.32 1476.4L1326.81 1483.7L1327.30 1498.8L1327.80 1521.3L1328.29 1550.3L1328.78 1584.6L1329.28 1623.0L1329.77 1664.1L1330.26 1706.2L1330.76 1747.8L1331.25 1787.3L1331.74 1823.2L1332.24 1854.1L1332.73 1878.9L1333.22 1896.6L1333.72 1906.6L1334.21 1908.5L1334.70 1902.2L1335.20 1887.9L1335.69 1866.2L1336.18 1837.9L1336.68 1804.1L1337.17 1766.1L1337.66 1725.2L1338.16 1683.2L1338.65 1641.4L1339.14 1601.6L1339.64 1565.2L1340.13 1533.7L1340.62 1508.1L1341.12 1489.6L1341.61 1478.7L1342.11 1475.9L1342.60 1481.3L1343.09 1494.7L1343.59 1515.6L1344.08 1543.2L1344.57 1576.4L1345.07 1614.1L1345.56 1654.6L1346.05 1696.7L1346.55 1738.5L1347.04 1778.6L1347.53 1815.4L1348.03 1847.6L1348.52 1873.9L1349.01 1893.3L1349.51 1905.1L1350.00 1908.8L1350.49 1904.3L1350.99 1891.8L1351.48 1871.7L1351.97 1844.8" stroke="#000" stroke-width="5.3"/>
<path transform="scale(1.05 1)" d="M274.29 1692.1L1000.00 1692.5L1000.71 1692.5L1001.43 1692.4L1002.14 1692.4L1002.86 1692.4L1003.57 1692.4L1004.29 1692.3L1005.00 1692.3L1005.71 1692.2L1006.43 1692.2L1007.14 1692.2L1007.86 1692.1L1008.57 1692.1L1009.29 1692.1L1010.00 1692.1L1010.71 1692.1L1011.43 1692.1L1012.14 1692.1L1012.86 1692.1L1013.57 1692.1L1014.29 1692.2L1015.00 1692.2L1015.71 1692.3L1016.43 1692.3L1017.14 1692.4L1017.86 1692.4L1018.57 1692.5L1019.29 1692.5L1020.00 1692.5L1020.71 1692.6L1021.43 1692.6L1022.14 1692.6L1022.86 1692.6L1023.57 1692.6L1024.29 1692.5L1025.00 1692.5L1025.71 1692.5L1026.43 1692.4L1027.14 1692.3L1027.86 1692.3L1028.57 1692.2L1029.29 1692.2L1030.00 1692.1L1030.71 1692.1L1031.43 1692.0L1032.14 1692.0L1032.86 1692.0L1033.57 1692.0L1034.29 1692.0L1035.00 1692.0L1035.71 1692.0L1036.43 1692.0L1037.14 1692.1L1037.86 1692.2L1038.57 1692.2L1039.29 1692.3L1040.00 1692.4L1040.71 1692.5L1041.43 1692.5L1042.14 1692.6L1042.86 1692.6L1043.57 1692.7L1044.29 1692.7L1045.00 1692.7L1045.71 1692.7L1046.43 1692.7L1047.14 1692.7L1047.86 1692.6L1048.57 1692.6L1049.29 1692.5L1050.00 1692.4L1050.71 1692.3L1051.43 1692.2L1052.14 1692.1L1052.86 1692.0L1053.57 1692.0L1054.29 1691.9L1055.00 1691.8L1055.71 1691.8L1056.43 1691.8L1057.14 1691.8L1057.86 1691.8L1058.57 1691.8L1059.29 1691.9L1060.00 1692.0L1060.71 1692.1L1061.43 1692.2L1062.14 1692.3L1062.86 1692.4L1063.57 1692.5L1064.29 1692.6L1065.00 1692.7L1065.71 1692.8L1066.43 1692.9L1067.14 1692.9L1067.86 1693.0L1068.57 1693.0L1069.29 1692.9L1070.00 1692.9L1070.71 1692.8L1071.43 1692.7L1072.14 1692.6L1072.86 1692.5L1073.57 1692.3L1074.29 1692.2L1075.00 1692.1L1075.71 1691.9L1076.43 1691.8L1077.14 1691.7L1077.86 1691.6L1078.57 1691.5L1079.29 1691.5L1080.00 1691.5L1080.71 1691.5L1081.43 1691.6L1082.14 1691.7L1082.86 1691.8L1083.57 1691.9L1084.29 1692.1L1085.00 1692.2L1085.71 1692.4L1086.43 1692.6L1087.14 1692.8L1087.86 1692.9L1088.57 1693.1L1089.29 1693.2L1090.00 1693.3L1090.71 1693.3L1091.43 1693.3L1092.14 1693.3L1092.86 1693.2L1093.57 1693.1L1094.29 1693.0L1095.00 1692.8L1095.71 1692.6L1096.43 1692.4L1097.14 1692.2L1097.86 1692.0L1098.57 1691.7L1099.29 1691.5L1100.00 1691.4L1100.71 1691.2L1101.43 1691.1L1102.14 1691.0L1102.86 1691.0L1103.57 1691.0L1104.29 1691.1L1105.00 1691.2L1105.71 1691.4L1106.43 1691.6L1107.14 1691.9L1107.86 1692.1L1108.57 1692.4L1109.29 1692.7L1110.00 1693.0L1110.71 1693.2L1111.43 1693.5L1112.14 1693.7L1112.86 1693.8L1113.57 1693.9L1114.29 1693.9L1115.00 1693.9L1115.71 1693.8L1116.43 1693.7L1117.14 1693.5L1117.86 1693.2L1118.57 1692.9L1119.29 1692.6L1120.00 1692.2L1120.71 1691.8L1121.43 1691.5L1122.14 1691.1L1122.86 1690.8L1123.57 1690.6L1124.29 1690.4L1125.00 1690.2L1125.71 1690.2L1126.43 1690.2L1127.14 1690.3L1127.86 1690.5L1128.57 1690.8L1129.29 1691.1L1130.00 1691.5L1130.71 1691.9L1131.43 1692.4L1132.14 1692.8L1132.86 1693.3L1133.57 1693.8L1134.29 1694.2L1135.00 1694.5L1135.71 1694.8L1136.43 1694.9L1137.14 1695.0L1137.86 1695.0L1138.57 1694.9L1139.29 1694.7L1140.00 1694.3L1140.71 1693.9L1141.43 1693.4L1142.14 1692.9L1142.86 1692.3L1143.57 1691.7L1144.29 1691.0L1145.00 1690.4L1145.71 1689.9L1146.43 1689.4L1147.14 1689.1L1147.86 1688.8L1148.57 1688.7L1149.29 1688.7L1150.00 1688.8L1150.71 1689.1L1151.43 1689.5L1152.14 1690.1L1152.86 1690.7L1153.57 1691.4L1154.29 1692.2L1155.00 1693.1L1155.71 1693.9L1156.43 1694.7L1157.14 1695.4L1157.86 1696.0L1158.57 1696.6L1159.29 1696.9L1160.00 1697.1L1160.71 1697.1L1161.43 1697.0L1162.14 1696.6L1162.86 1696.1L1163.57 1695.4L1164.29 1694.5L1165.00 1693.6L1165.71 1692.5L1166.43 1691.4L1167.14 1690.3L1167.86 1689.3L1168.57 1688.3L1169.29 1687.4L1170.00 1686.7L1170.71 1686.2L1171.43 1685.9L1172.14 1685.9L1172.86 1686.1L1173.57 1686.5L1174.29 1687.2L1175.00 1688.1L1175.71 1689.2L1176.43 1690.5L1177.14 1691.9L1177.86 1693.3L1178.57 1694.8L1179.29 1696.2L1180.00 1697.5L1180.71 1698.6L1181.43 1699.6L1182.14 1700.3L1182.86 1700.7L1183.57 1700.8L1184.29 1700.6L1185.00 1700.0L1185.71 1699.1L1186.43 1698.0L1187.14 1696.5L1187.86 1694.9L1188.57 1693.1L1189.29 1691.2L1190.00 1689.3L1190.71 1687.4L1191.43 1685.7L1192.14 1684.1L1192.86 1682.8L1193.57 1681.9L1194.29 1681.3L1195.00 1681.1L1195.71 1681.3L1196.43 1682.0L1197.14 1683.1L1197.86 1684.6L1198.57 1686.5L1199.29 1688.6L1200.00 1691.0L1200.71 1693.5L1201.43 1696.0L1202.14 1698.5L1202.86 1700.8L1203.57 1702.9L1204.29 1704.6L1205.00 1705.9L1205.71 1706.8L1206.43 1707.1L1207.14 1706.8L1207.86 1705.9L1208.57 1704.5L1209.29 1702.6L1210.00 1700.2L1210.71 1697.4L1211.43 1694.4L1212.14 1691.1L1212.86 1687.8L1213.57 1684.6L1214.29 1681.5L1215.00 1678.8L1215.71 1676.5L1216.43 1674.8L1217.14 1673.6L1217.86 1673.2L1218.57 1673.4L1219.29 1674.5L1220.00 1676.2L1220.71 1678.6L1221.43 1681.7L1222.14 1685.2L1222.86 1689.1L1223.57 1693.3L1224.29 1697.6L1225.00 1701.8L1225.71 1705.8L1226.43 1709.4L1227.14 1712.4L1227.86 1714.8L1228.57 1716.4" stroke="#000" stroke-width="5.3"/><path transform="scale(1.3 1)" d="M992.31 1716.4L992.31 1716.4L992.88 1717.1L993.46 1716.8L994.04 1715.6L994.62 1713.4L995.19 1710.4L995.77 1706.5L996.35 1702.0L996.92 1697.0L997.50 1691.6L998.08 1686.1L998.65 1680.6L999.23 1675.4L999.81 1670.7L1000.38 1666.7L1000.96 1663.6L1001.54 1661.4L1002.12 1660.4L1002.69 1660.5L1003.27 1661.8L1003.85 1664.4L1004.42 1668.1L1005.00 1673.0L1005.58 1678.8L1006.15 1685.3L1006.73 1692.4L1007.31 1699.8L1007.88 1707.2L1008.46 1714.2L1009.04 1720.8L1009.62 1726.4L1010.19 1731.0L1010.77 1734.2L1011.35 1735.9L1011.92 1735.9L1012.50 1734.2L1013.08 1730.9L1013.65 1725.8L1014.23 1719.4L1014.81 1711.6L1015.38 1702.8L1015.96 1693.2L1016.54 1683.3L1017.12 1673.4L1017.69 1663.9L1018.27 1655.1L1018.85 1647.4L1019.42 1641.3L1020.00 1636.8L1020.58 1634.4L1021.15 1634.2L1021.73 1636.2L1022.31 1640.5L1022.88 1646.9L1023.46 1655.4L1024.04 1665.5L1024.62 1677.1L1025.19 1689.6L1025.77 1702.7L1026.35 1715.8L1026.92 1728.4" stroke="#000" stroke-width="5.3"/><path transform="scale(1.52 1)" d="M878.29 1728.4L878.29 1728.4L878.78 1740.1L879.28 1750.4L879.77 1758.7L880.26 1764.8L880.76 1768.2L881.25 1768.7L881.74 1766.2L882.24 1760.7L882.73 1752.5L883.22 1741.7L883.72 1728.6L884.21 1713.8L884.70 1697.7L885.20 1680.9L885.69 1664.1L886.18 1647.8L886.68 1632.8L887.17 1619.6L887.66 1608.9L888.16 1601.1L888.65 1596.6L889.14 1595.5L889.64 1598.0L890.13 1604.3L890.62 1614.2L891.12 1627.5L891.61 1643.7L892.11 1662.5L892.60 1683.0L893.09 1704.5L893.59 1726.4L894.08 1747.7L894.57 1767.5L895.07 1785.0L895.56 1798.7L896.05 1808.6L896.55 1814.1L897.04 1815.1L897.53 1811.4L898.03 1803.1L898.52 1790.4L899.01 1773.8L899.51 1753.7L900.00 1730.9L900.49 1706.3L900.99 1680.7L901.48 1655.2L901.97 1630.6L902.47 1608.0L902.96 1588.2L903.45 1572.1L903.95 1560.4L904.44 1553.6L904.93 1552.0L905.43 1555.7L905.92 1564.7L906.41 1578.8L906.91 1597.3L907.40 1619.8L907.89 1645.4L908.39 1673.2L908.88 1702.1L909.38 1731.1L909.87 1759.0L910.36 1784.8L910.86 1807.5L911.35 1826.0L911.84 1839.3L912.34 1847.2L912.83 1849.2L913.32 1845.3L913.82 1835.5L914.31 1820.2L914.80 1799.9L915.30 1775.2L915.79 1747.2L916.28 1716.8L916.78 1685.2L917.27 1653.5L917.76 1623.1L918.26 1594.9L918.75 1570.3L919.24 1550.0L919.74 1535.1L920.23 1526.1L920.72 1523.4L921.22 1527.1L921.71 1537.1L922.20 1553.1L922.70 1574.5L923.19 1600.5L923.68 1630.2L924.18 1662.4L924.67 1696.0L925.16 1729.7L925.66 1762.2L926.15 1792.3L926.64 1818.7L927.14 1840.6L927.63 1856.9L928.12 1867.1L928.62 1870.8L929.11 1867.6L929.61 1857.8L930.10 1841.6L930.59 1819.6L931.09 1792.6L931.58 1761.7L932.07 1727.8L932.57 1692.4L933.06 1656.8L933.55 1622.4L934.05 1590.5L934.54 1562.4L935.03 1539.1L935.53 1521.5L936.02 1510.4L936.51 1506.1L937.01 1508.9L937.50 1518.7L937.99 1535.1L938.49 1557.5L938.98 1585.1L939.47 1616.9L939.97 1651.6L940.46 1688.0L940.95 1724.7L941.45 1760.3L941.94 1793.4L942.43 1822.8L942.93 1847.4L943.42 1866.2L943.91 1878.4L944.41 1883.6L944.90 1881.5L945.39 1872.3L945.89 1856.2L946.38 1833.8L946.88 1806.0L947.37 1773.8L947.86 1738.3L948.36 1701.0L948.85 1663.3L949.34 1626.7L949.84 1592.6L950.33 1562.2L950.82 1536.7L951.32 1517.0L951.81 1504.0L952.30 1498.1L952.80 1499.6L953.29 1508.4L953.78 1524.1L954.28 1546.3L954.77 1574.0L955.26 1606.2L955.76 1641.8L956.25 1679.2L956.74 1717.3L957.24 1754.4L957.73 1789.2L958.22 1820.3L958.72 1846.7L959.21 1867.2L959.70 1881.1L960.20 1887.9L960.69 1887.3L961.18 1879.2L961.68 1864.1L962.17 1842.5L962.66 1815.1L963.16 1783.0L963.65 1747.5L964.14 1709.8L964.64 1671.5L965.13 1633.9L965.62 1598.6L966.12 1566.8L966.61 1539.7L967.11 1518.5L967.60 1503.8L968.09 1496.3L968.59 1496.2L969.08 1503.5L969.57 1518.0L970.07 1539.1L970.56 1566.0L971.05 1597.7L971.55 1632.9L972.04 1670.5L972.53 1708.8L973.03 1746.5L973.52 1782.2L974.01 1814.4L974.51 1842.1L975.00 1864.0L975.49 1879.5L975.99 1887.8L976.48 1888.8L976.97 1882.3L977.47 1868.6L977.96 1848.2L978.45 1821.9L978.95 1790.7L979.44 1755.8L979.93 1718.5L980.43 1680.1L980.92 1642.3L981.41 1606.3L981.91 1573.6L982.40 1545.4L982.89 1522.7L983.39 1506.5L983.88 1497.3L984.38 1495.5L984.87 1501.2L985.36 1514.1L985.86 1533.8L986.35 1559.4L986.84 1590.1L987.34 1624.7L987.83 1661.8L988.32 1700.1L988.82 1738.1L989.31 1774.4L989.80 1807.5L990.30 1836.3L990.79 1859.6L991.28 1876.6L991.78 1886.6L992.27 1889.2L992.76 1884.4L993.26 1872.3L993.75 1853.4L994.24 1828.4L994.74 1798.2L995.23 1764.0L995.72 1727.1L996.22 1688.8L996.71 1650.7L997.20 1614.2L997.70 1580.7L998.19 1551.3L998.68 1527.3L999.18 1509.6L999.67 1498.8L1000.16 1495.3L1000.66 1499.3L1001.15 1510.6L1001.64 1528.7L1002.14 1553.1L1002.63 1582.8L1003.12 1616.6L1003.62 1653.3L1004.11 1691.4L1004.61 1729.6L1005.10 1766.4L1005.59 1800.3L1006.09 1830.2L1006.58 1854.8L1007.07 1873.3L1007.57 1885.0L1008.06 1889.3L1008.55 1886.2L1009.05 1875.7L1009.54 1858.2L1010.03 1834.5L1010.53 1805.4L1011.02 1772.0L1011.51 1735.6L1012.01 1697.5L1012.50 1659.3L1012.99 1622.3L1013.49 1587.9L1013.98 1557.5L1014.47 1532.3L1014.97 1513.0L1015.46 1500.6L1015.95 1495.4L1016.45 1497.7L1016.94 1507.4L1017.43 1524.1L1017.93 1547.1L1018.42 1575.6L1018.91 1608.6L1019.41 1644.8L1019.90 1682.7L1020.39 1721.0L1020.89 1758.2L1021.38 1792.9L1021.88 1823.8L1022.37 1849.8L1022.86 1869.7L1023.36 1883.0L1023.85 1889.0L1024.34 1887.5L1024.84 1878.7L1025.33 1862.8L1025.82 1840.4L1026.32 1812.4L1026.81 1779.9L1027.30 1744.1L1027.80 1706.2L1028.29 1667.9L1028.78 1630.5L1029.28 1595.4L1029.77 1564.0L1030.26 1537.5L1030.76 1516.8L1031.25 1502.8L1031.74 1495.9L1032.24 1496.5L1032.73 1504.6L1033.22 1519.7L1033.72 1541.4L1034.21 1568.7L1034.70 1600.8L1035.20 1636.4L1035.69 1674.0L1036.18 1712.4L1036.68 1750.0L1037.17 1785.4L1037.66 1817.2L1038.16 1844.4L1038.65 1865.8L1039.14 1880.6L1039.64 1888.3L1040.13 1888.5L1040.62 1881.3L1041.12 1867.0L1041.61 1846.0L1042.11 1819.2L1042.60 1787.6L1043.09 1752.4L1043.59 1714.9L1044.08 1676.6L1044.57 1638.8L1045.07 1603.1L1045.56 1570.8L1046.05 1543.0L1046.55 1520.9L1047.04 1505.4L1047.53 1496.8L1048.03 1495.8L1048.52 1502.1L1049.01 1515.7L1049.51 1535.9L1050.00 1562.1L1050.49 1593.2L1050.99 1628.1L1051.48 1665.4L1051.97 1703.7L1052.47 1741.6L1052.96 1777.6L1053.45 1810.4L1053.95 1838.7L1054.44 1861.5L1054.93 1877.8L1055.43 1887.2L1055.92 1889.1L1056.41 1883.6L1056.91 1870.8L1057.40 1851.3L1057.89 1825.7L1058.39 1795.1L1058.88 1760.6L1059.38 1723.5L1059.87 1685.3L1060.36 1647.2L1060.86 1610.9L1061.35 1577.7L1061.84 1548.8L1062.34 1525.4L1062.83 1508.3L1063.32 1498.1L1063.82 1495.3L1064.31 1500.0L1064.80 1512.0L1065.30 1530.8L1065.79 1555.7L1066.28 1585.8L1066.78 1619.9L1067.27 1656.8L1067.76 1695.0L1068.26 1733.1L1068.75 1769.7L1069.24 1803.3L1069.74 1832.7L1070.23 1856.8L1070.72 1874.7L1071.22 1885.7L1071.71 1889.3L1072.20 1885.5L1072.70 1874.3L1073.19 1856.3L1073.68 1832.0L1074.18 1802.5L1074.67 1768.7L1075.16 1732.1L1075.66 1694.0L1076.15 1655.8L1076.64 1619.0L1077.14 1584.9L1077.63 1554.9L1078.12 1530.2L1078.62 1511.6L1079.11 1499.8L1079.61 1495.3L1080.10 1498.3L1080.59 1508.6L1081.09 1525.9L1081.58 1549.5L1082.07 1578.6L1082.57 1611.9L1083.06 1648.2L1083.55 1686.3L1084.05 1724.5L1084.54 1761.6L1085.03 1796.0L1085.53 1826.5L1086.02 1851.9L1086.51 1871.3L1087.01 1883.8L1087.50 1889.1L1087.99 1887.0L1088.49 1877.5L1088.98 1860.9L1089.47 1838.0L1089.97 1809.6L1090.46 1776.7L1090.95 1740.6L1091.45 1702.7L1091.94 1664.4L1092.43 1627.1L1092.93 1592.3L1093.42 1561.3L1093.91 1535.3L1094.41 1515.2L1094.90 1501.8L1095.39 1495.7L1095.89 1497.0L1096.38 1505.7L1096.88 1521.4L1097.37 1543.7L1097.86 1571.6L1098.36 1604.0L1098.85 1639.8L1099.34 1677.6L1099.84 1715.9L1100.33 1753.4L1100.82 1788.5L1101.32 1820.0L1101.81 1846.6L1102.30 1867.4L1102.80 1881.6L1103.29 1888.6L1103.78 1888.1L1104.28 1880.3L1104.77 1865.3L1105.26 1843.7L1105.76 1816.4L1106.25 1784.5L1106.74 1749.0L1107.24 1711.3L1107.73 1673.0L1108.22 1635.4L1108.72 1599.9L1109.21 1568.0L1109.70 1540.7L1110.20 1519.2L1110.69 1504.3L1111.18 1496.4L1111.68 1496.0L1112.17 1503.1L1112.66 1517.3L1113.16 1538.1L1113.65 1564.8L1114.14 1596.3L1114.64 1631.5L1115.13 1668.9L1115.62 1707.3L1116.12 1745.0L1116.61 1780.8L1117.11 1813.2L1117.60 1841.1L1118.09 1863.3L1118.59 1879.0L1119.08 1887.7L1119.57 1888.9L1120.07 1882.7L1120.56 1869.3L1121.05 1849.2L1121.55 1823.1L1122.04 1792.1L1122.53 1757.3L1123.03 1720.0L1123.52 1681.7L1124.01 1643.8L1124.51 1607.7L1125.00 1574.8L1125.49 1546.4L1125.99 1523.5L1126.48 1507.0L1126.97 1497.6L1127.47 1495.5L1127.96 1500.8L1128.45 1513.5L1128.95 1532.9L1129.44 1558.3L1129.93 1588.8L1130.43 1623.2L1130.92 1660.3L1131.41 1698.6L1131.91 1736.6L1132.40 1773.0L1132.89 1806.3L1133.39 1835.2L1133.88 1858.8L1134.38 1876.0L1134.87 1886.3L1135.36 1889.3L1135.86 1884.7L1136.35 1872.9L1136.84 1854.3L1137.34 1829.5L1137.83 1799.5L1138.32 1765.4L1138.82 1728.6L1139.31 1690.4L1139.80 1652.2L1140.30 1615.6L1140.79 1581.9L1141.28 1552.4L1141.78 1528.2L1142.27 1510.2L1142.76 1499.1L1143.26 1495.3L1143.75 1499.0L1144.24 1510.0L1144.74 1527.9L1145.23 1552.0L1145.72 1581.5L1146.22 1615.2L1146.71 1651.7L1147.20 1689.9L1147.70 1728.1L1148.19 1764.9L1148.68 1799.0L1149.18 1829.1L1149.67 1854.0L1150.16 1872.7L1150.66 1884.6L1151.15 1889.3L1151.64 1886.4L1152.14 1876.2L1152.63 1859.1L1153.12 1835.6L1153.62 1806.7L1154.11 1773.4L1154.61 1737.1L1155.10 1699.1L1155.59 1660.8L1156.09 1623.7L1156.58 1589.2L1157.07 1558.7L1157.57 1533.2L1158.06 1513.7L1158.55 1501.0L1159.05 1495.5L1159.54 1497.5L1160.03 1506.9L1160.53 1523.3L1161.02 1546.1L1161.51 1574.4L1162.01 1607.2L1162.50 1643.3L1162.99 1681.2L1163.49 1719.5L1163.98 1756.8L1164.47 1791.6L1164.97 1822.7L1165.46 1848.8L1165.95 1869.1L1166.45 1882.6L1166.94 1888.9L1167.43 1887.7L1167.93 1879.2L1168.42 1863.5L1168.91 1841.4L1169.41 1813.6L1169.90 1781.3L1170.39 1745.5L1170.89 1707.8L1171.38 1669.4L1171.88 1632.0L1172.37 1596.8L1172.86 1565.2L1173.36 1538.4L1173.85 1517.5L1174.34 1503.2L1174.84 1496.1L1175.33 1496.4L1175.82 1504.1L1176.32 1519.0L1176.81 1540.4L1177.30 1567.6L1177.80 1599.5L1178.29 1634.9L1178.78 1672.5L1179.28 1710.8L1179.77 1748.5L1180.26 1784.0L1180.76 1816.0L1181.25 1843.4L1181.74 1865.0L1182.24 1880.1L1182.73 1888.1L1183.22 1888.6L1183.72 1881.7L1184.21 1867.7L1184.70 1847.0L1185.20 1820.4L1185.69 1789.0L1186.18 1753.9L1186.68 1716.4L1187.17 1678.1L1187.66 1640.3L1188.16 1604.5L1188.65 1572.0L1189.14 1544.0L1189.64 1521.7L1190.13 1505.8L1190.62 1497.0L1191.12 1495.7L1191.61 1501.7L1192.11 1515.0L1192.60 1535.0L1193.09 1560.9L1193.59 1591.9L1194.08 1626.6L1194.57 1663.8L1195.07 1702.2L1195.56 1740.1L1196.05 1776.2L1196.55 1809.2L1197.04 1837.7L1197.53 1860.7L1198.03 1877.3L1198.52 1886.9L1199.01 1889.2L1199.51 1883.9L1200.00 1871.5L1200.49 1852.2L1200.99 1826.9L1201.48 1796.4L1201.97 1762.1L1202.47 1725.1L1202.96 1686.8L1203.45 1648.7L1203.95 1612.3L1204.44 1579.0L1204.93 1549.9L1205.43 1526.2L1205.92 1508.8L1206.41 1498.4L1206.91 1495.3L1207.40 1499.7L1207.89 1511.4L1208.39 1529.9L1208.88 1554.6L1209.38 1584.5L1209.87 1618.5L1210.36 1655.3L1210.86 1693.5L1211.35 1731.6L1211.84 1768.3L1212.34 1802.0L1212.83 1831.7L1213.32 1856.0L1213.82 1874.1L1214.31 1885.4L1214.80 1889.3L1215.30 1885.8L1215.79 1874.9L1216.28 1857.1L1216.78 1833.1L1217.27 1803.7L1217.76 1770.1L1218.26 1733.6L1218.75 1695.5L1219.24 1657.3L1219.74 1620.4L1220.23 1586.2L1220.72 1556.1L1221.22 1531.1L1221.71 1512.2L1222.20 1500.1L1222.70 1495.4L1223.19 1498.0L1223.68 1508.1L1224.18 1525.1L1224.67 1548.5L1225.16 1577.3L1225.66 1610.5L1226.15 1646.7L1226.64 1684.7L1227.14 1723.0L1227.63 1760.2L1228.12 1794.7L1228.62 1825.4L1229.11 1851.0L1229.61 1870.6L1230.10 1883.5L1230.59 1889.1L1231.09 1887.2L1231.58 1878.0L1232.07 1861.7L1232.57 1839.0L1233.06 1810.8L1233.55 1778.1L1234.05 1742.1L1234.54 1704.2L1235.03 1665.9L1235.53 1628.6L1236.02 1593.6L1236.51 1562.5L1237.01 1536.2L1237.50 1515.9L1237.99 1502.2L1238.49 1495.8L1238.98 1496.8L1239.47 1505.2L1239.97 1520.7L1240.46 1542.7L1240.95 1570.4L1241.45 1602.6L1241.94 1638.3L1242.43 1676.1L1242.93 1714.4L1243.42 1751.9L1243.91 1787.2L1244.41 1818.8L1244.90 1845.7L1245.39 1866.7L1245.89 1881.2L1246.38 1888.5L1246.88 1888.3L1247.37 1880.7L1247.86 1866.0L1248.36 1844.7L1248.85 1817.6L1249.34 1785.8L1249.84 1750.4L1250.33 1712.9L1250.82 1674.5L1251.32 1636.9L1251.81 1601.3L1252.30 1569.1L1252.80 1541.7L1253.29 1519.9L1253.78 1504.7L1254.28 1496.6L1254.77 1495.9L1255.26 1502.6L1255.76 1516.6L1256.25 1537.2L1256.74 1563.6L1257.24 1595.0L1257.73 1630.0L1258.22 1667.4L1258.72 1705.7L1259.21 1743.6L1259.70 1779.4L1260.20 1812.0L1260.69 1840.1L1261.18 1862.5L1261.68 1878.5L1262.17 1887.4L1262.66 1889.0L1263.16 1883.1L1263.65 1869.9L1264.14 1850.1L1264.64 1824.2L1265.13 1793.4L1265.62 1758.7L1266.12 1721.5L1266.61 1683.2L1267.11 1645.3L1267.60 1609.1L1268.09 1576.1L1268.59 1547.4L1269.08 1524.3L1269.57 1507.6L1270.07 1497.8L1270.56 1495.4L1271.05 1500.5L1271.55 1512.8L1272.04 1532.0L1272.53 1557.2L1273.03 1587.5L1273.52 1621.8L1274.01 1658.8L1274.51 1697.0L1275.00 1735.1L1275.49 1771.6L1275.99 1805.0L1276.48 1834.2L1276.97 1858.0L1277.47 1875.5L1277.96 1886.1L1278.45 1889.3L1278.95 1885.1L1279.44 1873.5L1279.93 1855.1L1280.43 1830.6L1280.92 1800.8L1281.41 1766.8L1281.91 1730.1L1282.40 1691.9L1282.89 1653.8L1283.39 1617.1L1283.88 1583.2L1284.38 1553.5L1284.87 1529.0L1285.36 1510.8L1285.86 1499.4L1286.35 1495.3L1286.84 1498.7L1287.34 1509.4L1287.83 1527.1L1288.32 1551.0L1288.82 1580.2L1289.31 1613.8L1289.80 1650.2L1290.30 1688.3L1290.79 1726.6L1291.28 1763.5L1291.78 1797.7L1292.27 1828.0L1292.76 1853.1L1293.26 1872.1L1293.75 1884.3L1294.24 1889.2L1294.74 1886.7L1295.23 1876.8L1295.72 1859.9L1296.22 1836.6L1296.71 1807.9L1297.20 1774.8L1297.70 1738.6L1298.19 1700.6L1298.68 1662.3L1299.18 1625.2L1299.67 1590.6L1300.16 1559.8L1300.66 1534.1L1301.15 1514.3L1301.64 1501.3L1302.14 1495.6L1302.63 1497.3L1303.12 1506.3L1303.62 1522.5L1304.11 1545.0L1304.61 1573.2L1305.10 1605.8L1305.59 1641.8L1306.09 1679.6L1306.58 1718.0L1307.07 1755.3L1307.57 1790.3L1308.06 1821.5L1308.55 1847.9L1309.05 1868.4L1309.54 1882.2L1310.03 1888.8L1310.53 1887.9L1311.02 1879.6L1311.51 1864.3L1312.01 1842.4L1312.50 1814.9L1312.99 1782.6L1313.49 1747.0L1313.98 1709.3L1314.47 1671.0L1314.97 1633.4L1315.46 1598.1L1315.95 1566.4L1316.45 1539.4L1316.94 1518.2L1317.43 1503.7L1317.93 1496.2L1318.42 1496.2L1318.91 1503.7L1319.41 1518.2L1319.90 1539.4L1320.39 1566.4L1320.89 1598.1L1321.38 1633.4L1321.88 1671.0L1322.37 1709.3L1322.86 1747.0L1323.36 1782.6L1323.85 1814.9L1324.34 1842.4L1324.84 1864.3L1325.33 1879.6L1325.82 1887.9L1326.32 1888.8L1326.81 1882.2L1327.30 1868.4L1327.80 1847.9L1328.29 1821.5L1328.78 1790.3L1329.28 1755.3L1329.77 1718.0L1330.26 1679.6L1330.76 1641.8L1331.25 1605.8L1331.74 1573.2L1332.24 1545.0L1332.73 1522.5L1333.22 1506.3L1333.72 1497.3L1334.21 1495.6L1334.70 1501.3L1335.20 1514.3L1335.69 1534.1L1336.18 1559.8L1336.68 1590.6L1337.17 1625.2L1337.66 1662.3L1338.16 1700.6L1338.65 1738.6L1339.14 1774.8L1339.64 1807.9L1340.13 1836.6L1340.62 1859.9L1341.12 1876.8L1341.61 1886.7L1342.11 1889.2L1342.60 1884.3L1343.09 1872.1L1343.59 1853.1L1344.08 1828.0L1344.57 1797.7L1345.07 1763.5L1345.56 1726.6L1346.05 1688.3L1346.55 1650.2L1347.04 1613.8L1347.53 1580.2L1348.03 1551.0L1348.52 1527.1L1349.01 1509.4L1349.51 1498.7L1350.00 1495.3L1350.49 1499.4L1350.99 1510.8L1351.48 1529.0L1351.97 1553.5" stroke="#000" stroke-width="5.3"/>
<path transform="scale(1.2 1)" d="M240.00 1983.6L875.00 1983.6L875.62 1983.7L876.25 1983.7L876.88 1983.7L877.50 1983.7L878.12 1983.7L878.75 1983.8L879.38 1983.8L880.00 1983.8L880.62 1983.8L881.25 1983.7L881.88 1983.7L882.50 1983.7L883.12 1983.7L883.75 1983.6L884.38 1983.6L885.00 1983.6L885.62 1983.5L886.25 1983.5L886.88 1983.5L887.50 1983.4L888.12 1983.4L888.75 1983.4L889.38 1983.4L890.00 1983.4L890.62 1983.4L891.25 1983.4L891.88 1983.5L892.50 1983.5L893.12 1983.5L893.75 1983.6L894.38 1983.6L895.00 1983.6L895.62 1983.7L896.25 1983.7L896.88 1983.8L897.50 1983.8L898.12 1983.8L898.75 1983.8L899.38 1983.8L900.00 1983.8L900.62 1983.8L901.25 1983.8L901.88 1983.8L902.50 1983.7L903.12 1983.7L903.75 1983.7L904.38 1983.6L905.00 1983.6L905.62 1983.5L906.25 1983.5L906.88 1983.4L907.50 1983.4L908.12 1983.4L908.75 1983.3L909.38 1983.3L910.00 1983.3L910.62 1983.3L911.25 1983.3L911.88 1983.4L912.50 1983.4L913.12 1983.5L913.75 1983.5L914.38 1983.6L915.00 1983.6L915.62 1983.7L916.25 1983.8L916.88 1983.8L917.50 1983.9L918.12 1983.9L918.75 1983.9L919.38 1983.9L920.00 1983.9L920.62 1983.9L921.25 1983.9L921.88 1983.9L922.50 1983.8L923.12 1983.8L923.75 1983.7L924.38 1983.6L925.00 1983.6L925.62 1983.5L926.25 1983.4L926.88 1983.4L927.50 1983.3L928.12 1983.2L928.75 1983.2L929.38 1983.2L930.00 1983.2L930.62 1983.2L931.25 1983.2L931.88 1983.3L932.50 1983.3L933.12 1983.4L933.75 1983.5L934.38 1983.5L935.00 1983.6L935.62 1983.7L936.25 1983.8L936.88 1983.9L937.50 1984.0L938.12 1984.0L938.75 1984.1L939.38 1984.1L940.00 1984.1L940.62 1984.1L941.25 1984.1L941.88 1984.0L942.50 1983.9L943.12 1983.9L943.75 1983.8L944.38 1983.7L945.00 1983.6L945.62 1983.5L946.25 1983.4L946.88 1983.3L947.50 1983.2L948.12 1983.1L948.75 1983.0L949.38 1983.0L950.00 1983.0L950.62 1983.0L951.25 1983.0L951.88 1983.1L952.50 1983.2L953.12 1983.3L953.75 1983.4L954.38 1983.5L955.00 1983.6L955.62 1983.8L956.25 1983.9L956.88 1984.0L957.50 1984.1L958.12 1984.2L958.75 1984.3L959.38 1984.3L960.00 1984.3L960.62 1984.3L961.25 1984.3L961.88 1984.2L962.50 1984.1L963.12 1984.0L963.75 1983.9L964.38 1983.8L965.00 1983.6L965.62 1983.4L966.25 1983.3L966.88 1983.1L967.50 1983.0L968.12 1982.8L968.75 1982.7L969.38 1982.7L970.00 1982.6L970.62 1982.6L971.25 1982.7L971.88 1982.7L972.50 1982.9L973.12 1983.0L973.75 1983.2L974.38 1983.4L975.00 1983.6L975.62 1983.8L976.25 1984.0L976.88 1984.2L977.50 1984.4L978.12 1984.6L978.75 1984.8L979.38 1984.8L980.00 1984.9L980.62 1984.9L981.25 1984.9L981.88 1984.8L982.50 1984.6L983.12 1984.4L983.75 1984.2L984.38 1983.9L985.00 1983.6L985.62 1983.4L986.25 1983.1L986.88 1982.8L987.50 1982.5L988.12 1982.3L988.75 1982.1L989.38 1982.0L990.00 1981.9L990.62 1981.9L991.25 1982.0L991.88 1982.1L992.50 1982.3L993.12 1982.5L993.75 1982.8L994.38 1983.1L995.00 1983.5L995.62 1983.9L996.25 1984.3L996.88 1984.6L997.50 1985.0L998.12 1985.3L998.75 1985.5L999.38 1985.7L1000.00 1985.8L1000.62 1985.8L1001.25 1985.8L1001.88 1985.6L1002.50 1985.4L1003.12 1985.1L1003.75 1984.7L1004.38 1984.3L1005.00 1983.8L1005.62 1983.3L1006.25 1982.8L1006.88 1982.3L1007.50 1981.9L1008.12 1981.5L1008.75 1981.1L1009.38 1980.9L1010.00 1980.8L1010.62 1980.7L1011.25 1980.8L1011.88 1981.0L1012.50 1981.3L1013.12 1981.6L1013.75 1982.1L1014.38 1982.7L1015.00 1983.3L1015.62 1983.9L1016.25 1984.6L1016.88 1985.2L1017.50 1985.8L1018.12 1986.3L1018.75 1986.7L1019.38 1987.1L1020.00 1987.3L1020.62 1987.3L1021.25 1987.3L1021.88 1987.1L1022.50 1986.7L1023.12 1986.2L1023.75 1985.6L1024.38 1984.9L1025.00 1984.1L1025.62 1983.3L1026.25 1982.4L1026.88 1981.6L1027.50 1980.9L1028.12 1980.2L1028.75 1979.6L1029.38 1979.1L1030.00 1978.9L1030.62 1978.7L1031.25 1978.8L1031.88 1979.1L1032.50 1979.5L1033.12 1980.2L1033.75 1980.9L1034.38 1981.8L1035.00 1982.8L1035.62 1983.9L1036.25 1985.0L1036.88 1986.1L1037.50 1987.1L1038.12 1988.0L1038.75 1988.7L1039.38 1989.3L1040.00 1989.7L1040.62 1989.9L1041.25 1989.8L1041.88 1989.5L1042.50 1989.0L1043.12 1988.2L1043.75 1987.2L1044.38 1986.1L1045.00 1984.8L1045.62 1983.4L1046.25 1982.0L1046.88 1980.6L1047.50 1979.2L1048.12 1978.0L1048.75 1977.0L1049.38 1976.2L1050.00 1975.6L1050.62 1975.4L1051.25 1975.4L1051.88 1975.8L1052.50 1976.5L1053.12 1977.5L1053.75 1978.7L1054.38 1980.2L1055.00 1981.9L1055.62 1983.7L1056.25 1985.6L1056.88 1987.4L1057.50 1989.2L1058.12 1990.8L1058.75 1992.2L1059.38 1993.3L1060.00 1994.0L1060.62 1994.4L1061.25 1994.4L1061.88 1993.9L1062.50 1993.1L1063.12 1991.8L1063.75 1990.2L1064.38 1988.3L1065.00 1986.1L1065.62 1983.8L1066.25 1981.4L1066.88 1979.0L1067.50 1976.6L1068.12 1974.5L1068.75 1972.7L1069.38 1971.2L1070.00 1970.2L1070.62 1969.6L1071.25 1969.6L1071.88 1970.1L1072.50 1971.2L1073.12 1972.7L1073.75 1974.8L1074.38 1977.2L1075.00 1980.0L1075.62 1983.1L1076.25 1986.2L1076.88 1989.4L1077.50 1992.4L1078.12 1995.3L1078.75 1997.7L1079.38 1999.7L1080.00 2001.1L1080.62 2002.0L1081.25 2002.1L1081.88 2001.5L1082.50 2000.2L1083.12 1998.2L1083.75 1995.6L1084.38 1992.4L1085.00 1988.8L1085.62 1984.9L1086.25 1980.8L1086.88 1976.6L1087.50 1972.6L1088.12 1968.9L1088.75 1965.7L1089.38 1963.0L1090.00 1961.0L1090.62 1959.9L1091.25 1959.7L1091.88 1960.4L1092.50 1962.0L1093.12 1964.5L1093.75 1967.8L1094.38 1971.9L1095.00 1976.5L1095.62 1981.6L1096.25 1986.9L1096.88 1992.2L1097.50 1997.4L1098.12 2002.2L1098.75 2006.5L1099.38 2010.0L1100.00 2012.6L1100.62 2014.2L1101.25 2014.7L1101.88 2014.0L1102.50 2012.1L1103.12 2009.1L1103.75 2004.9L1104.38 1999.8L1105.00 1993.9L1105.62 1987.4L1106.25 1980.6L1106.88 1973.6L1107.50 1966.8L1108.12 1960.4L1108.75 1954.7L1109.38 1949.9L1110.00 1946.3L1110.62 1944.1L1111.25 1943.3L1111.88 1944.1L1112.50 1946.5L1113.12 1950.4L1113.75 1955.7L1114.38 1962.3L1115.00 1969.9L1115.62 1978.4L1116.25 1987.3L1116.88 1996.4L1117.50 2005.3L1118.12 2013.7L1118.75 2021.2L1119.38 2027.5L1120.00 2032.3L1120.62 2035.4L1121.25 2036.6L1121.88 2035.8L1122.50 2033.0L1123.12 2028.3L1123.75 2021.6L1124.38 2013.3L1125.00 2003.6L1125.62 1992.9L1126.25 1981.4L1126.88 1969.7L1127.50 1958.2L1128.12 1947.4L1128.75 1937.6L1129.38 1929.3L1130.00 1922.9L1130.62 1918.7L1131.25 1916.9L1131.88 1917.8L1132.50 1921.3L1133.12 1927.3L1133.75 1935.7L1134.38 1946.2L1135.00 1958.5L1135.62 1972.2L1136.25 1986.8L1136.88 2001.7L1137.50 2016.4L1138.12 2030.2L1138.75 2042.7L1139.38 2053.4L1140.00 2061.7L1140.62 2067.3L1141.25 2069.7L1141.88 2068.7L1142.50 2064.6L1143.12 2057.3L1143.75 2047.0L1144.38 2034.2L1145.00 2019.2L1145.62 2002.6L1146.25 1984.9L1146.88 1966.9L1147.50 1949.1L1148.12 1932.4L1148.75 1917.4L1149.38 1904.6L1150.00 1894.7L1150.62 1888.0L1151.25 1885.1L1151.88 1886.1L1152.50 1890.9L1153.12 1899.5L1153.75 1911.4L1154.38 1926.5L1155.00 1944.0L1155.62 1963.4L1156.25 1984.0L1156.88 2005.1L1157.50 2025.7L1158.12 2045.2L1158.75 2062.7L1159.38 2077.6L1160.00 2089.2L1160.62 2097.1L1161.25 2100.6L1161.88 2099.7L1162.50 2094.5L1163.12 2085.1L1163.75 2071.8L1164.38 2055.1L1165.00 2035.6L1165.62 2014.1L1166.25 1991.2L1166.88 1968.0L1167.50 1945.1L1168.12 1923.7L1168.75 1904.4L1169.38 1888.0L1170.00 1875.2L1170.62 1866.5L1171.25 1862.3L1171.88 1862.9L1172.50 1868.4L1173.12 1878.4L1173.75 1892.6L1174.38 1910.5L1175.00 1931.4L1175.62 1954.5L1176.25 1979.0L1176.88 2004.0L1177.50 2028.5L1178.12 2051.5L1178.75 2072.3L1179.38 2089.9L1180.00 2103.7L1180.62 2113.2L1181.25 2118.0L1181.88 2117.7L1182.50 2112.3L1183.12 2102.2L1183.75 2087.7L1184.38 2069.3L1185.00 2047.7L1185.62 2023.7L1186.25 1998.3L1186.88 1972.4L1187.50 1947.0L1188.12 1923.0L1188.75 1901.3L1189.38 1882.9L1190.00 1868.3L1190.62 1858.3L1191.25 1853.0L1191.88 1852.9L1192.50 1858.0L1193.12 1868.0L1193.75 1882.5L1194.38 1901.0L1195.00 1922.8L1195.62 1947.1L1196.25 1973.0L1196.88 1999.4L1197.50 2025.4L1198.12 2050.0L1198.75 2072.3L1199.38 2091.3L1200.00 2106.5L1200.62 2117.1L1201.25 2122.9L1201.88 2123.5L1202.50 2118.8L1203.12 2109.2L1203.75 2095.0L1204.38 2076.7L1205.00 2055.0L1205.62 2030.7L1206.25 2004.8L1206.88 1978.2L1207.50 1952.0L1208.12 1927.1L1208.75 1904.5L1209.38 1885.0L1210.00 1869.4L1210.62 1858.2L1211.25 1852.0L1211.88 1850.8L1212.50 1854.9L1213.12 1864.0L1213.75 1877.7L1214.38 1895.6L1215.00 1917.0L1215.62 1941.1L1216.25 1966.9L1216.88 1993.5L1217.50 2019.9L1218.12 2045.1L1218.75 2068.0L1219.38 2088.0L1220.00 2104.1L1220.62 2115.8L1221.25 2122.6L1221.88 2124.3L1222.50 2120.8L1223.12 2112.3L1223.75 2099.0L1224.38 2081.5L1225.00 2060.4L1225.62 2036.6L1226.25 2010.9L1226.88 1984.3L1227.50 1957.8L1228.12 1932.5L1228.75 1909.2L1229.38 1888.9L1230.00 1872.3L1230.62 1860.1L1231.25 1852.7L1231.88 1850.4L1232.50 1853.3L1233.12 1861.3L1233.75 1874.1L1234.38 1891.1L1235.00 1911.8L1235.62 1935.4L1236.25 1960.9L1236.88 1987.5L1237.50 2014.0L1238.12 2039.6L1238.75 2063.1L1239.38 2083.8L1240.00 2100.8L1240.62 2113.6L1241.25 2121.5L1241.88 2124.4L1242.50 2122.1L1243.12 2114.7L1243.75 2102.4L1244.38 2085.8L1245.00 2065.5L1245.62 2042.2L1246.25 2016.8L1246.88 1990.3L1247.50 1963.7L1248.12 1938.1L1248.75 1914.2L1249.38 1893.2L1250.00 1875.7L1250.62 1862.4L1251.25 1853.9L1251.88 1850.5L1252.50 1852.2L1253.12 1859.1L1253.75 1870.8L1254.38 1886.9L1255.00 1906.9L1255.62 1929.9L1256.25 1955.0L1256.88 1981.4L1257.50 2008.1L1258.12 2033.9L1258.75 2058.0L1259.38 2079.4L1260.00 2097.3L1260.62 2111.1L1261.25 2120.2L1261.88 2124.2L1262.50 2123.1L1263.12 2116.8L1263.75 2105.6L1264.38 2089.9L1265.00 2070.4L1265.62 2047.7L1266.25 2022.7L1266.88 1996.4L1267.50 1969.7L1268.12 1943.7L1268.75 1919.4L1269.38 1897.7L1270.00 1879.3L1270.62 1865.0L1271.25 1855.4L1271.88 1850.8L1272.50 1851.4L1273.12 1857.1L1273.75 1867.7L1274.38 1882.9L1275.00 1902.0L1275.62 1924.4L1276.25 1949.2L1276.88 1975.4L1277.50 2002.1L1278.12 2028.2L1278.75 2052.7L1279.38 2074.8L1280.00 2093.6L1280.62 2108.4L1281.25 2118.5L1281.88 2123.7L1282.50 2123.8L1283.12 2118.6L1283.75 2108.5L1284.38 2093.8L1285.00 2075.1L1285.62 2053.1L1286.25 2028.5L1286.88 2002.4L1287.50 1975.8L1288.12 1949.5L1288.75 1924.7L1289.38 1902.3L1290.00 1883.1L1290.62 1867.9L1291.25 1857.2L1291.88 1851.4L1292.50 1850.8L1293.12 1855.3L1293.75 1864.9L1294.38 1879.1L1295.00 1897.4L1295.62 1919.1L1296.25 1943.4L1296.88 1969.4L1297.50 1996.0L1298.12 2022.4L1298.75 2047.4L1299.38 2070.1L1300.00 2089.7L1300.62 2105.4L1301.25 2116.7L1301.88 2123.0L1302.50 2124.2L1303.12 2120.2L1303.75 2111.2L1304.38 2097.5L1305.00 2079.7L1305.62 2058.3L1306.25 2034.2L1306.88 2008.4L1307.50 1981.8L1308.12 1955.4L1308.75 1930.2L1309.38 1907.1L1310.00 1887.2L1310.62 1871.0L1311.25 1859.2L1311.88 1852.3L1312.50 1850.5L1313.12 1853.8L1313.75 1862.3L1314.38 1875.5L1315.00 1892.9L1315.62 1913.9L1316.25 1937.7L1316.88 1963.4L1317.50 1990.0L1318.12 2016.5L1318.75 2041.9L1319.38 2065.2L1320.00 2085.6L1320.62 2102.2L1321.25 2114.5L1321.88 2122.0L1322.50 2124.4L1323.12 2121.6L1323.75 2113.7L1324.38 2101.0L1325.00 2084.1L1325.62 2063.4L1326.25 2039.9L1326.88 2014.4L1327.50 1987.8L1328.12 1961.3L1328.75 1935.7L1329.38 1912.1L1330.00 1891.4L1330.62 1874.3L1331.25 1861.4L1331.88 1853.4L1332.50 1850.4L1333.12 1852.6L1333.75 1860.0L1334.38 1872.1L1335.00 1888.6L1335.62 1908.9L1336.25 1932.1L1336.88 1957.5L1337.50 1983.9L1338.12 2010.5L1338.75 2036.2L1339.38 2060.1L1340.00 2081.2L1340.62 2098.8L1341.25 2112.1L1341.88 2120.7L1342.50 2124.3L1343.12 2122.7L1343.75 2115.9L1344.38 2104.3L1345.00 2088.2L1345.62 2068.4L1346.25 2045.4L1346.88 2020.3L1347.50 1993.9L1348.12 1967.3L1348.75 1941.4L1349.38 1917.3L1350.00 1895.8L1350.62 1877.8L1351.25 1863.9L1351.88 1854.8L1352.50 1850.6L1353.12 1851.7L1353.75 1857.9L1354.38 1868.9L1355.00 1884.5L1355.62 1904.0L1356.25 1926.6L1356.88 1951.6L1357.50 1977.9L1358.12 2004.5L1358.75 2030.5L1359.38 2054.9L1360.00 2076.7L1360.62 2095.2L1361.25 2109.5L1361.88 2119.2L1362.50 2124.0L1363.12 2123.5L1363.75 2117.9L1364.38 2107.3L1365.00 2092.2L1365.62 2073.2L1366.25 2050.9L1366.88 2026.1L1367.50 1999.9L1368.12 1973.3L1368.75 1947.1L1369.38 1922.5L1370.00 1900.4L1370.62 1881.5L1371.25 1866.7L1371.88 1856.4L1372.50 1851.1L1373.12 1851.0L1373.75 1856.0L1374.38 1866.0L1375.00 1880.6L1375.62 1899.3L1376.25 1921.3L1376.88 1945.8L1377.50 1971.9L1378.12 1998.5L1378.75 2024.8L1379.38 2049.6L1380.00 2072.1L1380.62 2091.3L1381.25 2106.6L1381.88 2117.5L1382.50 2123.3L1383.12 2124.1L1383.75 2119.6L1384.38 2110.2L1385.00 2096.0L1385.62 2077.8L1386.25 2056.2L1386.88 2031.9L1387.50 2006.0L1388.12 1979.3L1388.75 1953.0L1389.38 1927.9L1390.00 1905.1L1390.62 1885.5L1391.25 1869.7L1391.88 1858.3L1392.50 1851.9L1393.12 1850.6L1393.75 1854.4L1394.38 1863.3L1395.00 1876.9L1395.62 1894.7L1396.25 1916.0L1396.88 1940.1L1397.50 1965.9L1398.12 1992.5L1398.75 2018.9L1399.38 2044.1L1400.00 2067.2L1400.62 2087.3L1401.25 2103.6L1401.88 2115.4L1402.50 2122.4L1403.12 2124.4L1403.75 2121.1L1404.38 2112.7L1405.00 2099.6L1405.62 2082.3L1406.25 2061.3L1406.88 2037.6L1407.50 2011.9L1408.12 1985.4L1408.75 1958.9L1409.38 1933.4L1410.00 1910.1L1410.62 1889.6L1411.25 1872.9L1411.88 1860.5L1412.50 1852.9L1413.12 1850.4L1413.75 1853.1L1414.38 1860.9L1415.00 1873.5L1415.62 1890.4L1416.25 1910.9L1416.88 1934.4L1417.50 1959.9L1418.12 1986.4L1418.75 2013.0L1419.38 2038.6L1420.00 2062.2L1420.62 2083.0L1421.25 2100.2L1421.88 2113.1L1422.50 2121.3L1423.12 2124.4L1423.75 2122.3L1424.38 2115.0L1425.00 2103.0L1425.62 2086.5L1426.25 2066.3L1426.88 2043.2L1427.50 2017.9L1428.12 1991.4L1428.75 1964.8L1429.38 1939.0L1430.00 1915.1L1430.62 1894.0L1431.25 1876.3L1431.88 1862.9L1432.50 1854.2L1433.12 1850.5L1433.75 1852.0L1434.38 1858.7L1435.00 1870.2L1435.62 1886.2L1436.25 1906.0L1436.88 1928.9L1437.50 1954.0L1438.12 1980.4L1438.75 2007.0L1439.38 2032.9L1440.00 2057.1L1440.62 2078.6L1441.25 2096.7L1441.88 2110.6L1442.50 2119.9L1443.12 2124.1L1443.75 2123.2L1444.38 2117.1L1445.00 2106.1L1445.62 2090.6L1446.25 2071.2L1446.88 2048.6L1447.50 2023.7L1448.12 1997.5L1448.75 1970.8L1449.38 1944.8L1450.00 1920.3L1450.62 1898.5L1451.25 1880.0L1451.88 1865.5L1452.50 1855.7L1453.12 1850.9L1453.75 1851.2L1454.38 1856.7L1455.00 1867.2L1455.62 1882.2L1456.25 1901.2L1456.88 1923.5L1457.50 1948.2L1458.12 1974.3L1458.75 2001.0L1459.38 2027.2L1460.00 2051.8L1460.62 2074.0L1461.25 2092.9L1461.88 2107.9L1462.50 2118.2L1463.12 2123.6L1463.75 2123.9L1464.38 2118.9L1465.00 2109.0L1465.62 2094.5L1466.25 2075.9L1466.88 2054.0L1467.50 2029.5L1468.12 2003.5L1468.75 1976.8L1469.38 1950.6L1470.00 1925.7L1470.62 1903.2L1471.25 1883.8L1471.88 1868.4L1472.50 1857.5L1473.12 1851.5L1473.75 1850.7L1474.38 1855.0L1475.00 1864.4L1475.62 1878.4L1476.25 1896.6L1476.88 1918.2L1477.50 1942.4L1478.12 1968.3L1478.75 1995.0L1479.38 2021.3L1480.00 2046.4L1480.62 2069.2L1481.25 2089.0L1481.88 2104.9L1482.50 2116.3L1483.12 2122.8L1483.75 2124.3L1484.38 2120.5L1485.00 2111.7L1485.62 2098.2L1486.25 2080.5L1486.88 2059.2L1487.50 2035.3L1488.12 2009.5L1488.75 1982.9L1489.38 1956.4L1490.00 1931.2L1490.62 1908.0L1491.25 1887.9L1491.88 1871.5L1492.50 1859.6L1493.12 1852.4L1493.75 1850.4L1494.38 1853.6L1495.00 1861.9L1495.62 1874.9L1496.25 1892.1L1496.88 1913.0L1497.50 1936.7L1498.12 1962.3L1498.75 1988.9L1499.38 2015.4L1500.00 2040.9L1500.62 2064.3L1501.25 2084.8L1501.88 2101.6L1502.50 2114.1L1503.12 2121.8L1503.75 2124.4L1504.38 2121.8L1505.00 2114.1L1505.62 2101.6L1506.25 2084.8L1506.88 2064.3L1507.50 2040.9L1508.12 2015.4L1508.75 1988.9L1509.38 1962.3L1510.00 1936.7L1510.62 1913.0L1511.25 1892.1L1511.88 1874.9L1512.50 1861.9L1513.12 1853.6L1513.75 1850.4L1514.38 1852.4L1515.00 1859.6L1515.62 1871.5L1516.25 1887.9L1516.88 1908.0L1517.50 1931.2L1518.12 1956.4L1518.75 1982.9L1519.38 2009.5L1520.00 2035.3L1520.62 2059.2L1521.25 2080.5L1521.88 2098.2L1522.50 2111.7L1523.12 2120.5L1523.75 2124.3L1524.38 2122.8L1525.00 2116.3L1525.62 2104.9L1526.25 2089.0L1526.88 2069.2L1527.50 2046.4L1528.12 2021.3L1528.75 1995.0L1529.38 1968.3L1530.00 1942.4L1530.62 1918.2L1531.25 1896.6L1531.88 1878.4L1532.50 1864.4L1533.12 1855.0L1533.75 1850.7L1534.38 1851.5L1535.00 1857.5L1535.62 1868.4L1536.25 1883.8L1536.88 1903.2L1537.50 1925.7L1538.12 1950.6L1538.75 1976.8L1539.38 2003.5L1540.00 2029.5L1540.62 2054.0L1541.25 2075.9L1541.88 2094.5L1542.50 2109.0L1543.12 2118.9L1543.75 2123.9L1544.38 2123.6L1545.00 2118.2L1545.62 2107.9L1546.25 2092.9L1546.88 2074.0L1547.50 2051.8L1548.12 2027.2L1548.75 2001.0L1549.38 1974.3L1550.00 1948.2L1550.62 1923.5L1551.25 1901.2L1551.88 1882.2L1552.50 1867.2L1553.12 1856.7L1553.75 1851.2L1554.38 1850.9L1555.00 1855.7L1555.62 1865.5L1556.25 1880.0L1556.88 1898.5L1557.50 1920.3L1558.12 1944.8L1558.75 1970.8L1559.38 1997.5L1560.00 2023.7L1560.62 2048.6L1561.25 2071.2L1561.88 2090.6L1562.50 2106.1L1563.12 2117.1L1563.75 2123.2L1564.38 2124.1L1565.00 2119.9L1565.62 2110.6L1566.25 2096.7L1566.88 2078.6L1567.50 2057.1L1568.12 2032.9L1568.75 2007.0L1569.38 1980.4L1570.00 1954.0L1570.62 1928.9L1571.25 1906.0L1571.88 1886.2L1572.50 1870.2L1573.12 1858.7L1573.75 1852.0L1574.38 1850.5L1575.00 1854.2L1575.62 1862.9L1576.25 1876.3L1576.88 1894.0L1577.50 1915.1L1578.12 1939.0L1578.75 1964.8L1579.38 1991.4L1580.00 2017.9L1580.62 2043.2L1581.25 2066.3L1581.88 2086.5L1582.50 2103.0L1583.12 2115.0L1583.75 2122.3L1584.38 2124.4L1585.00 2121.3L1585.62 2113.1L1586.25 2100.2L1586.88 2083.0L1587.50 2062.2L1588.12 2038.6L1588.75 2013.0L1589.38 1986.4L1590.00 1959.9L1590.62 1934.4L1591.25 1910.9L1591.88 1890.4L1592.50 1873.5L1593.12 1860.9L1593.75 1853.1L1594.38 1850.4L1595.00 1852.9L1595.62 1860.5L1596.25 1872.9L1596.88 1889.6L1597.50 1910.1L1598.12 1933.4L1598.75 1958.9L1599.38 1985.4L1600.00 2011.9L1600.62 2037.6L1601.25 2061.3L1601.88 2082.3L1602.50 2099.6L1603.12 2112.7L1603.75 2121.1L1604.38 2124.4L1605.00 2122.4L1605.62 2115.4L1606.25 2103.6L1606.88 2087.3L1607.50 2067.2L1608.12 2044.1L1608.75 2018.9L1609.38 1992.5L1610.00 1965.9L1610.62 1940.1L1611.25 1916.0L1611.88 1894.7L1612.50 1876.9L1613.12 1863.3L1613.75 1854.4L1614.38 1850.6L1615.00 1851.9L1615.62 1858.3L1616.25 1869.7L1616.88 1885.5L1617.50 1905.1L1618.12 1927.9L1618.75 1953.0L1619.38 1979.3L1620.00 2006.0L1620.62 2031.9L1621.25 2056.2L1621.88 2077.8L1622.50 2096.0L1623.12 2110.2L1623.75 2119.6L1624.38 2124.1L1625.00 2123.3L1625.62 2117.5L1626.25 2106.6L1626.88 2091.3L1627.50 2072.1L1628.12 2049.6L1628.75 2024.8L1629.38 1998.5L1630.00 1971.9L1630.62 1945.8L1631.25 1921.3L1631.88 1899.3L1632.50 1880.6L1633.12 1866.0L1633.75 1856.0L1634.38 1851.0L1635.00 1851.1L1635.62 1856.4L1636.25 1866.7L1636.88 1881.5L1637.50 1900.4L1638.12 1922.5L1638.75 1947.1L1639.38 1973.3L1640.00 1999.9L1640.62 2026.1L1641.25 2050.9L1641.88 2073.2L1642.50 2092.2L1643.12 2107.3L1643.75 2117.9L1644.38 2123.5L1645.00 2124.0L1645.62 2119.2L1646.25 2109.5L1646.88 2095.2L1647.50 2076.7L1648.12 2054.9L1648.75 2030.5L1649.38 2004.5L1650.00 1977.9L1650.62 1951.6L1651.25 1926.6L1651.88 1904.0L1652.50 1884.5L1653.12 1868.9L1653.75 1857.9L1654.38 1851.7L1655.00 1850.6L1655.62 1854.8L1656.25 1863.9L1656.88 1877.8L1657.50 1895.8L1658.12 1917.3L1658.75 1941.4L1659.38 1967.3L1660.00 1993.9L1660.62 2020.3L1661.25 2045.4L1661.88 2068.4L1662.50 2088.2L1663.12 2104.3L1663.75 2115.9L1664.38 2122.7L1665.00 2124.3L1665.62 2120.7L1666.25 2112.1L1666.88 2098.8L1667.50 2081.2L1668.12 2060.1L1668.75 2036.2L1669.38 2010.5L1670.00 1983.9L1670.62 1957.5L1671.25 1932.1L1671.88 1908.9L1672.50 1888.6L1673.12 1872.1L1673.75 1860.0L1674.38 1852.6L1675.00 1850.4L1675.62 1853.4L1676.25 1861.4L1676.88 1874.3L1677.50 1891.4L1678.12 1912.1L1678.75 1935.7L1679.38 1961.3L1680.00 1987.8L1680.62 2014.4L1681.25 2039.9L1681.88 2063.4L1682.50 2084.1L1683.12 2101.0L1683.75 2113.7L1684.38 2121.6L1685.00 2124.4L1685.62 2122.0L1686.25 2114.5L1686.88 2102.2L1687.50 2085.6L1688.12 2065.2L1688.75 2041.9L1689.38 2016.5L1690.00 1990.0L1690.62 1963.4L1691.25 1937.7L1691.88 1913.9L1692.50 1892.9L1693.12 1875.5L1693.75 1862.3L1694.38 1853.8L1695.00 1850.5L1695.62 1852.3L1696.25 1859.2L1696.88 1871.0L1697.50 1887.2L1698.12 1907.1L1698.75 1930.2L1699.38 1955.4L1700.00 1981.8L1700.62 2008.4L1701.25 2034.2L1701.88 2058.3L1702.50 2079.7L1703.12 2097.5L1703.75 2111.2L1704.38 2120.2L1705.00 2124.2L1705.62 2123.0L1706.25 2116.7L1706.88 2105.4L1707.50 2089.7L1708.12 2070.1L1708.75 2047.4L1709.38 2022.4L1710.00 1996.0L1710.62 1969.4L1711.25 1943.4L1711.88 1919.1L1712.50 1897.4L1713.12 1879.1L1713.75 1864.9L1714.38 1855.3L1715.00 1850.8" stroke="#0000dc" stroke-width="5.6"/>
<path transform="scale(1.05 1)" d="M274.29 1628.9L1000.00 1628.7L1000.71 1628.7L1001.43 1628.6L1002.14 1628.6L1002.86 1628.7L1003.57 1628.7L1004.29 1628.7L1005.00 1628.7L1005.71 1628.7L1006.43 1628.8L1007.14 1628.8L1007.86 1628.8L1008.57 1628.9L1009.29 1628.9L1010.00 1628.9L1010.71 1628.9L1011.43 1629.0L1012.14 1629.0L1012.86 1629.0L1013.57 1629.0L1014.29 1629.0L1015.00 1629.0L1015.71 1629.0L1016.43 1628.9L1017.14 1628.9L1017.86 1628.9L1018.57 1628.8L1019.29 1628.8L1020.00 1628.7L1020.71 1628.7L1021.43 1628.7L1022.14 1628.6L1022.86 1628.6L1023.57 1628.6L1024.29 1628.6L1025.00 1628.6L1025.71 1628.6L1026.43 1628.6L1027.14 1628.6L1027.86 1628.6L1028.57 1628.7L1029.29 1628.7L1030.00 1628.8L1030.71 1628.8L1031.43 1628.9L1032.14 1628.9L1032.86 1629.0L1033.57 1629.0L1034.29 1629.0L1035.00 1629.1L1035.71 1629.1L1036.43 1629.1L1037.14 1629.1L1037.86 1629.1L1038.57 1629.0L1039.29 1629.0L1040.00 1629.0L1040.71 1628.9L1041.43 1628.8L1042.14 1628.8L1042.86 1628.7L1043.57 1628.7L1044.29 1628.6L1045.00 1628.6L1045.71 1628.5L1046.43 1628.5L1047.14 1628.5L1047.86 1628.4L1048.57 1628.5L1049.29 1628.5L1050.00 1628.5L1050.71 1628.6L1051.43 1628.6L1052.14 1628.7L1052.86 1628.7L1053.57 1628.8L1054.29 1628.9L1055.00 1629.0L1055.71 1629.0L1056.43 1629.1L1057.14 1629.2L1057.86 1629.2L1058.57 1629.2L1059.29 1629.2L1060.00 1629.2L1060.71 1629.2L1061.43 1629.2L1062.14 1629.1L1062.86 1629.0L1063.57 1629.0L1064.29 1628.9L1065.00 1628.8L1065.71 1628.7L1066.43 1628.6L1067.14 1628.5L1067.86 1628.4L1068.57 1628.4L1069.29 1628.3L1070.00 1628.3L1070.71 1628.3L1071.43 1628.3L1072.14 1628.3L1072.86 1628.3L1073.57 1628.4L1074.29 1628.5L1075.00 1628.6L1075.71 1628.7L1076.43 1628.8L1077.14 1628.9L1077.86 1629.0L1078.57 1629.1L1079.29 1629.2L1080.00 1629.3L1080.71 1629.4L1081.43 1629.4L1082.14 1629.4L1082.86 1629.4L1083.57 1629.4L1084.29 1629.4L1085.00 1629.3L1085.71 1629.2L1086.43 1629.1L1087.14 1629.0L1087.86 1628.8L1088.57 1628.7L1089.29 1628.5L1090.00 1628.4L1090.71 1628.3L1091.43 1628.2L1092.14 1628.1L1092.86 1628.0L1093.57 1628.0L1094.29 1628.0L1095.00 1628.0L1095.71 1628.1L1096.43 1628.2L1097.14 1628.3L1097.86 1628.4L1098.57 1628.6L1099.29 1628.8L1100.00 1628.9L1100.71 1629.1L1101.43 1629.3L1102.14 1629.4L1102.86 1629.6L1103.57 1629.7L1104.29 1629.8L1105.00 1629.8L1105.71 1629.8L1106.43 1629.8L1107.14 1629.7L1107.86 1629.6L1108.57 1629.5L1109.29 1629.3L1110.00 1629.1L1110.71 1628.9L1111.43 1628.6L1112.14 1628.4L1112.86 1628.2L1113.57 1628.0L1114.29 1627.8L1115.00 1627.6L1115.71 1627.5L1116.43 1627.4L1117.14 1627.4L1117.86 1627.4L1118.57 1627.5L1119.29 1627.7L1120.00 1627.9L1120.71 1628.1L1121.43 1628.4L1122.14 1628.7L1122.86 1629.0L1123.57 1629.3L1124.29 1629.6L1125.00 1629.9L1125.71 1630.1L1126.43 1630.4L1127.14 1630.5L1127.86 1630.6L1128.57 1630.7L1129.29 1630.6L1130.00 1630.5L1130.71 1630.3L1131.43 1630.1L1132.14 1629.8L1132.86 1629.4L1133.57 1629.0L1134.29 1628.6L1135.00 1628.2L1135.71 1627.8L1136.43 1627.4L1137.14 1627.0L1137.86 1626.7L1138.57 1626.5L1139.29 1626.4L1140.00 1626.3L1140.71 1626.3L1141.43 1626.5L1142.14 1626.7L1142.86 1627.0L1143.57 1627.4L1144.29 1627.9L1145.00 1628.4L1145.71 1629.0L1146.43 1629.5L1147.14 1630.1L1147.86 1630.6L1148.57 1631.1L1149.29 1631.5L1150.00 1631.8L1150.71 1632.0L1151.43 1632.1L1152.14 1632.1L1152.86 1631.9L1153.57 1631.6L1154.29 1631.2L1155.00 1630.7L1155.71 1630.1L1156.43 1629.4L1157.14 1628.7L1157.86 1627.9L1158.57 1627.2L1159.29 1626.5L1160.00 1625.8L1160.71 1625.3L1161.43 1624.9L1162.14 1624.6L1162.86 1624.4L1163.57 1624.5L1164.29 1624.7L1165.00 1625.0L1165.71 1625.6L1166.43 1626.2L1167.14 1627.0L1167.86 1627.9L1168.57 1628.9L1169.29 1629.9L1170.00 1630.8L1170.71 1631.8L1171.43 1632.6L1172.14 1633.4L1172.86 1633.9L1173.57 1634.3L1174.29 1634.6L1175.00 1634.5L1175.71 1634.3L1176.43 1633.8L1177.14 1633.2L1177.86 1632.3L1178.57 1631.3L1179.29 1630.1L1180.00 1628.8L1180.71 1627.5L1181.43 1626.2L1182.14 1625.0L1182.86 1623.8L1183.57 1622.9L1184.29 1622.1L1185.00 1621.5L1185.71 1621.2L1186.43 1621.2L1187.14 1621.5L1187.86 1622.0L1188.57 1622.9L1189.29 1624.0L1190.00 1625.4L1190.71 1626.9L1191.43 1628.5L1192.14 1630.3L1192.86 1632.0L1193.57 1633.6L1194.29 1635.2L1195.00 1636.5L1195.71 1637.6L1196.43 1638.4L1197.14 1638.8L1197.86 1638.9L1198.57 1638.5L1199.29 1637.8L1200.00 1636.7L1200.71 1635.3L1201.43 1633.5L1202.14 1631.6L1202.86 1629.4L1203.57 1627.1L1204.29 1624.8L1205.00 1622.6L1205.71 1620.6L1206.43 1618.8L1207.14 1617.3L1207.86 1616.2L1208.57 1615.6L1209.29 1615.4L1210.00 1615.8L1210.71 1616.7L1211.43 1618.0L1212.14 1619.9L1212.86 1622.2L1213.57 1624.8L1214.29 1627.7L1215.00 1630.7L1215.71 1633.7L1216.43 1636.7L1217.14 1639.5L1217.86 1642.0L1218.57 1644.0L1219.29 1645.6L1220.00 1646.5L1220.71 1646.8L1221.43 1646.4L1222.14 1645.3L1222.86 1643.5L1223.57 1641.0L1224.29 1638.0L1225.00 1634.6L1225.71 1630.7L1226.43 1626.7L1227.14 1622.5L1227.86 1618.5L1228.57 1614.7L1229.29 1611.3L1230.00 1608.5L1230.71 1606.3L1231.43 1605.0L1232.14 1604.5L1232.86 1605.0L1233.57 1606.4L1234.29 1608.7L1235.00 1611.9L1235.71 1615.9L1236.43 1620.5L1237.14 1625.5L1237.86 1630.9" stroke="#e00000" stroke-width="5.4"/><path transform="scale(1.22 1)" d="M1065.57 1632.7L1065.57 1632.7L1066.19 1638.1L1066.80 1643.3L1067.42 1648.2L1068.03 1652.4L1068.65 1655.9L1069.26 1658.4L1069.88 1659.8L1070.49 1660.1L1071.11 1659.2L1071.72 1657.1L1072.34 1653.8L1072.95 1649.4L1073.57 1644.1L1074.18 1638.0L1074.80 1631.3L1075.41 1624.3L1076.02 1617.3L1076.64 1610.5L1077.25 1604.1L1077.87 1598.5L1078.48 1593.9L1079.10 1590.5L1079.71 1588.4L1080.33 1587.9L1080.94 1588.9L1081.56 1591.4L1082.17 1595.5L1082.79 1601.0L1083.40 1607.8L1084.02 1615.6L1084.63 1624.1L1085.25 1633.2L1085.86 1642.3L1086.48 1651.3L1087.09 1659.6L1087.70 1667.1L1088.32 1673.3L1088.93 1677.9L1089.55 1680.8L1090.16 1681.8L1090.78 1680.8L1091.39 1677.7L1092.01 1672.6L1092.62 1665.6L1093.24 1656.9L1093.85 1646.8L1094.47 1635.6L1095.08 1623.8L1095.70 1611.7L1096.31 1599.8L1096.93 1588.7L1097.54 1578.7L1098.16 1570.3L1098.77 1563.8L1099.39 1559.6L1100.00 1558.0L1100.61 1559.1L1101.23 1563.0L1101.84 1569.5L1102.46 1578.6L1103.07 1589.8" stroke="#e00000" stroke-width="5.4"/><path transform="scale(1.38 1)" d="M975.36 1593.9L975.36 1593.9L975.91 1607.5L976.45 1622.2L976.99 1637.6L977.54 1653.2L978.08 1668.2L978.62 1682.1L979.17 1694.3L979.71 1704.4L980.25 1711.7L980.80 1716.1L981.34 1717.2L981.88 1714.9L982.43 1709.2L982.97 1700.2L983.51 1688.1L984.06 1673.3L984.60 1656.3L985.14 1637.6L985.69 1618.0L986.23 1598.2L986.78 1578.9L987.32 1560.9L987.86 1544.9L988.41 1531.6L988.95 1521.7L989.49 1515.5L990.04 1513.5L990.58 1516.2L991.12 1523.3L991.67 1534.6L992.21 1549.8L992.75 1568.2L993.30 1589.4L993.84 1612.4L994.38 1636.6L994.93 1661.0L995.47 1684.6L996.01 1706.5L996.56 1725.8L997.10 1741.8L997.64 1753.8L998.19 1761.1L998.73 1763.5L999.28 1760.5L999.82 1752.1L1000.36 1738.9L1000.91 1721.1L1001.45 1699.4L1001.99 1674.5L1002.54 1647.4L1003.08 1619.0L1003.62 1590.4L1004.17 1562.7L1004.71 1537.0L1005.25 1514.2L1005.80 1495.4L1006.34 1481.2L1006.88 1472.4L1007.43 1469.3L1007.97 1472.4L1008.51 1481.7L1009.06 1496.6L1009.60 1516.6L1010.14 1541.0L1010.69 1569.0L1011.23 1599.4L1011.78 1631.2L1012.32 1663.1L1012.86 1694.0L1013.41 1722.6L1013.95 1747.9L1014.49 1768.8L1015.04 1784.5L1015.58 1794.3L1016.12 1797.8L1016.67 1794.6L1017.21 1784.8L1017.75 1768.8L1018.30 1747.3L1018.84 1721.1L1019.38 1691.1L1019.93 1658.4L1020.47 1624.3L1021.01 1590.0L1021.56 1556.9L1022.10 1526.2L1022.64 1499.1L1023.19 1476.7L1023.73 1459.8L1024.28 1449.1L1024.82 1445.0L1025.36 1447.8L1025.91 1457.6L1026.45 1473.8L1026.99 1495.8L1027.54 1522.8L1028.08 1553.8L1028.62 1587.6L1029.17 1623.0L1029.71 1658.6L1030.25 1693.0L1030.80 1725.0L1031.34 1753.4L1031.88 1776.9L1032.43 1794.8L1032.97 1806.4L1033.51 1811.1L1034.06 1808.7L1034.60 1799.3L1035.14 1783.2L1035.69 1761.1L1036.23 1733.9L1036.78 1702.5L1037.32 1668.1L1037.86 1632.1L1038.41 1595.7L1038.95 1560.5L1039.49 1527.6L1040.04 1498.4L1040.58 1474.0L1041.12 1455.3L1041.67 1443.1L1042.21 1437.7L1042.75 1439.4L1043.30 1448.3L1043.84 1463.8L1044.38 1485.5L1044.93 1512.6L1045.47 1543.9L1046.01 1578.3L1046.56 1614.4L1047.10 1651.1L1047.64 1686.7L1048.19 1720.1L1048.73 1749.8L1049.28 1774.9L1049.82 1794.3L1050.36 1807.3L1050.91 1813.4L1051.45 1812.4L1051.99 1804.3L1052.54 1789.4L1053.08 1768.3L1053.62 1741.7L1054.17 1710.8L1054.71 1676.6L1055.25 1640.4L1055.80 1603.6L1056.34 1567.7L1056.88 1533.9L1057.43 1503.6L1057.97 1477.9L1058.51 1457.7L1059.06 1444.0L1059.60 1437.1L1060.14 1437.3L1060.69 1444.7L1061.23 1458.9L1061.78 1479.4L1062.32 1505.4L1062.86 1536.0L1063.41 1570.0L1063.95 1606.0L1064.49 1642.8L1065.04 1679.0L1065.58 1713.1L1066.12 1743.8L1066.67 1770.1L1067.21 1790.9L1067.75 1805.4L1068.30 1813.1L1068.84 1813.7L1069.38 1807.1L1069.93 1793.7L1070.47 1773.8L1071.01 1748.4L1071.56 1718.2L1072.10 1684.6L1072.64 1648.7L1073.19 1611.9L1073.73 1575.7L1074.28 1541.3L1074.82 1510.1L1075.36 1483.2L1075.91 1461.8L1076.45 1446.5L1076.99 1438.0L1077.54 1436.6L1078.08 1442.4L1078.62 1455.1L1079.17 1474.2L1079.71 1499.1L1080.25 1528.8L1080.80 1562.1L1081.34 1597.8L1081.88 1634.5L1082.43 1670.9L1082.97 1705.6L1083.51 1737.2L1084.06 1764.6L1084.60 1786.7L1085.14 1802.7L1085.69 1812.0L1086.23 1814.2L1086.78 1809.2L1087.32 1797.3L1087.86 1778.8L1088.41 1754.6L1088.95 1725.4L1089.49 1692.5L1090.04 1657.0L1090.58 1620.3L1091.12 1583.8L1091.67 1548.8L1092.21 1516.8L1092.75 1488.9L1093.30 1466.1L1093.84 1449.4L1094.38 1439.3L1094.93 1436.3L1095.47 1440.5L1096.01 1451.6L1096.56 1469.4L1097.10 1493.0L1097.64 1521.7L1098.19 1554.3L1098.73 1589.5L1099.28 1626.2L1099.82 1662.8L1100.36 1697.9L1100.91 1730.4L1101.45 1758.8L1101.99 1782.2L1102.54 1799.6L1103.08 1810.5L1103.62 1814.3L1104.17 1811.0L1104.71 1800.6L1105.25 1783.6L1105.80 1760.5L1106.34 1732.4L1106.88 1700.2L1107.43 1665.2L1107.97 1628.6L1108.51 1591.9L1109.06 1556.5L1109.60 1523.7L1110.14 1494.8L1110.69 1470.8L1111.23 1452.6L1111.78 1441.0L1112.32 1436.4L1112.86 1438.9L1113.41 1448.5L1113.95 1464.8L1114.49 1487.2L1115.04 1514.8L1115.58 1546.6L1116.12 1581.4L1116.67 1617.8L1117.21 1654.5L1117.75 1690.2L1118.30 1723.3L1118.84 1752.8L1119.38 1777.4L1119.93 1796.2L1120.47 1808.6L1121.01 1814.1L1121.56 1812.3L1122.10 1803.5L1122.64 1788.0L1123.19 1766.2L1123.73 1739.2L1124.28 1707.8L1124.82 1673.3L1125.36 1637.0L1125.91 1600.2L1126.45 1564.4L1126.99 1530.9L1127.54 1500.9L1128.08 1475.7L1128.62 1456.2L1129.17 1443.0L1129.71 1436.8L1130.25 1437.7L1130.80 1445.7L1131.34 1460.5L1131.88 1481.6L1132.43 1508.1L1132.97 1539.1L1133.51 1573.3L1134.06 1609.5L1134.60 1646.3L1135.14 1682.3L1135.69 1716.1L1136.23 1746.5L1136.78 1772.3L1137.32 1792.5L1137.86 1806.4L1138.41 1813.4L1138.95 1813.4L1139.49 1806.1L1140.04 1792.1L1140.58 1771.7L1141.12 1745.7L1141.67 1715.2L1142.21 1681.3L1142.75 1645.3L1143.30 1608.5L1143.84 1572.3L1144.38 1538.2L1144.93 1507.4L1145.47 1481.0L1146.01 1460.1L1146.56 1445.4L1147.10 1437.6L1147.64 1436.9L1148.19 1443.3L1148.73 1456.6L1149.28 1476.3L1149.82 1501.7L1150.36 1531.7L1150.91 1565.3L1151.45 1601.2L1151.99 1637.9L1152.54 1674.2L1153.08 1708.7L1153.62 1740.0L1154.17 1766.9L1154.71 1788.5L1155.25 1803.9L1155.80 1812.5L1156.34 1814.0L1156.88 1808.4L1157.43 1795.8L1157.97 1776.8L1158.51 1752.0L1159.06 1722.5L1159.60 1689.2L1160.14 1653.6L1160.69 1616.8L1161.23 1580.4L1161.78 1545.7L1162.32 1514.0L1162.86 1486.5L1163.41 1464.3L1163.95 1448.2L1164.49 1438.7L1165.04 1436.4L1165.58 1441.2L1166.12 1453.0L1166.67 1471.3L1167.21 1495.5L1167.75 1524.6L1168.30 1557.4L1168.84 1592.9L1169.38 1629.6L1169.93 1666.1L1170.47 1701.1L1171.01 1733.2L1171.56 1761.2L1172.10 1784.1L1172.64 1800.9L1173.19 1811.1L1173.73 1814.3L1174.28 1810.3L1174.82 1799.3L1175.36 1781.6L1175.91 1758.1L1176.45 1729.5L1176.99 1697.0L1177.54 1661.8L1178.08 1625.2L1178.62 1588.6L1179.17 1553.3L1179.71 1520.8L1180.25 1492.3L1180.80 1468.8L1181.34 1451.2L1181.88 1440.3L1182.43 1436.3L1182.97 1439.5L1183.51 1449.8L1184.06 1466.6L1184.60 1489.5L1185.14 1517.6L1185.69 1549.7L1186.23 1584.7L1186.78 1621.2L1187.32 1657.9L1187.86 1693.4L1188.41 1726.2L1188.95 1755.3L1189.49 1779.4L1190.04 1797.7L1190.58 1809.4L1191.12 1814.2L1191.67 1811.8L1192.21 1802.4L1192.75 1786.2L1193.30 1763.9L1193.84 1736.4L1194.38 1704.7L1194.93 1670.0L1195.47 1633.5L1196.01 1596.8L1196.56 1561.1L1197.10 1527.9L1197.64 1498.4L1198.19 1473.6L1198.73 1454.7L1199.28 1442.2L1199.82 1436.6L1200.36 1438.2L1200.91 1446.8L1201.45 1462.3L1201.99 1483.9L1202.54 1510.8L1203.08 1542.1L1203.62 1576.6L1204.17 1612.9L1204.71 1649.7L1205.25 1685.5L1205.80 1719.1L1206.34 1749.1L1206.88 1774.4L1207.43 1794.1L1207.97 1807.4L1208.51 1813.7L1209.06 1813.0L1209.60 1805.1L1210.14 1790.4L1210.69 1769.5L1211.23 1743.1L1211.78 1712.2L1212.32 1678.0L1212.86 1641.9L1213.41 1605.1L1213.95 1569.0L1214.49 1535.2L1215.04 1504.7L1215.58 1478.8L1216.12 1458.4L1216.67 1444.4L1217.21 1437.2L1217.75 1437.2L1218.30 1444.3L1218.84 1458.2L1219.38 1478.5L1219.93 1504.3L1220.47 1534.7L1221.01 1568.6L1221.56 1604.6L1222.10 1641.4L1222.64 1677.6L1223.19 1711.7L1223.73 1742.7L1224.28 1769.1L1224.82 1790.2L1225.36 1805.0L1225.91 1812.9L1226.45 1813.8L1226.99 1807.5L1227.54 1794.3L1228.08 1774.7L1228.62 1749.5L1229.17 1719.5L1229.71 1686.0L1230.25 1650.2L1230.80 1613.4L1231.34 1577.1L1231.88 1542.6L1232.43 1511.2L1232.97 1484.2L1233.51 1462.5L1234.06 1447.0L1234.60 1438.2L1235.14 1436.6L1235.69 1442.0L1236.23 1454.5L1236.78 1473.4L1237.32 1498.0L1237.86 1527.5L1238.41 1560.7L1238.95 1596.3L1239.49 1633.0L1240.04 1669.5L1240.58 1704.2L1241.12 1736.0L1241.67 1763.6L1242.21 1785.9L1242.75 1802.2L1243.30 1811.7L1243.84 1814.2L1244.38 1809.5L1244.93 1797.9L1245.47 1779.7L1246.01 1755.6L1246.56 1726.7L1247.10 1693.8L1247.64 1658.4L1248.19 1621.7L1248.73 1585.2L1249.28 1550.2L1249.82 1518.0L1250.36 1489.9L1250.91 1466.9L1251.45 1449.9L1251.99 1439.6L1252.54 1436.3L1253.08 1440.2L1253.62 1451.1L1254.17 1468.5L1254.71 1492.0L1255.25 1520.4L1255.80 1552.9L1256.34 1588.1L1256.88 1624.7L1257.43 1661.3L1257.97 1696.6L1258.51 1729.1L1259.06 1757.8L1259.60 1781.4L1260.14 1799.1L1260.69 1810.2L1261.23 1814.3L1261.78 1811.2L1262.32 1801.1L1262.86 1784.4L1263.41 1761.6L1263.95 1733.6L1264.49 1701.6L1265.04 1666.6L1265.58 1630.1L1266.12 1593.4L1266.67 1557.9L1267.21 1525.0L1267.75 1495.8L1268.30 1471.6L1268.84 1453.2L1269.38 1441.3L1269.93 1436.4L1270.47 1438.7L1271.01 1448.0L1271.56 1464.0L1272.10 1486.2L1272.64 1513.6L1273.19 1545.2L1273.73 1579.9L1274.28 1616.3L1274.82 1653.1L1275.36 1688.8L1275.91 1722.1L1276.45 1751.7L1276.99 1776.5L1277.54 1795.6L1278.08 1808.3L1278.62 1814.0L1279.17 1812.5L1279.71 1804.0L1280.25 1788.7L1280.80 1767.2L1281.34 1740.3L1281.88 1709.1L1282.43 1674.7L1282.97 1638.4L1283.51 1601.7L1284.06 1565.8L1284.60 1532.2L1285.14 1502.1L1285.69 1476.6L1286.23 1456.8L1286.78 1443.4L1287.32 1436.9L1287.86 1437.5L1288.41 1445.3L1288.95 1459.8L1289.49 1480.7L1290.04 1507.0L1290.58 1537.8L1291.12 1571.9L1291.67 1608.0L1292.21 1644.8L1292.75 1680.8L1293.30 1714.8L1293.84 1745.3L1294.38 1771.4L1294.93 1791.8L1295.47 1806.0L1296.01 1813.3L1296.56 1813.5L1297.10 1806.6L1297.64 1792.7L1298.19 1772.6L1298.73 1746.9L1299.28 1716.5L1299.82 1682.7L1300.36 1646.7L1300.91 1610.0L1301.45 1573.8L1301.99 1539.5L1302.54 1508.5L1303.08 1481.9L1303.62 1460.8L1304.17 1445.9L1304.71 1437.8L1305.25 1436.8L1305.80 1442.9L1306.34 1456.0L1306.88 1475.4L1307.43 1500.6L1307.97 1530.4L1308.51 1563.9L1309.06 1599.7L1309.60 1636.5L1310.14 1672.8L1310.69 1707.4L1311.23 1738.8L1311.78 1765.9L1312.32 1787.7L1312.86 1803.4L1313.41 1812.3L1313.95 1814.1L1314.49 1808.7L1315.04 1796.5L1315.58 1777.7L1316.12 1753.1L1316.67 1723.7L1317.21 1690.6L1317.75 1655.0L1318.30 1618.3L1318.84 1581.8L1319.38 1547.0L1319.93 1515.2L1320.47 1487.5L1321.01 1465.1L1321.56 1448.7L1322.10 1439.0L1322.64 1436.4L1323.19 1440.9L1323.73 1452.4L1324.28 1470.5L1324.82 1494.4L1325.36 1523.3L1325.91 1556.1L1326.45 1591.5L1326.99 1628.1L1327.54 1664.7L1328.08 1699.7L1328.62 1732.0L1329.17 1760.2L1329.71 1783.3L1330.25 1800.4L1330.80 1810.9L1331.34 1814.3L1331.88 1810.6L1332.43 1799.8L1332.97 1782.5L1333.51 1759.2L1334.06 1730.8L1334.60 1698.4L1335.14 1663.2L1335.69 1626.7L1336.23 1590.0L1336.78 1554.7L1337.32 1522.1L1337.86 1493.4L1338.41 1469.6L1338.95 1451.8L1339.49 1440.6L1340.04 1436.3L1340.58 1439.2L1341.12 1449.2L1341.67 1465.8L1342.21 1488.5L1342.75 1516.4L1343.30 1548.4L1343.84 1583.3L1344.38 1619.8L1344.93 1656.5L1345.47 1692.0L1346.01 1725.0L1346.56 1754.2L1347.10 1778.6L1347.64 1797.1L1348.19 1809.1L1348.73 1814.1L1349.28 1812.0L1349.82 1802.9L1350.36 1787.0L1350.91 1764.9L1351.45 1737.6L1351.99 1706.0L1352.54 1671.4L1353.08 1635.0L1353.62 1598.2L1354.17 1562.5L1354.71 1529.2L1355.25 1499.5L1355.80 1474.5L1356.34 1455.3L1356.88 1442.5L1357.43 1436.7L1357.97 1438.0L1358.51 1446.3L1359.06 1461.5L1359.60 1482.9L1360.14 1509.7L1360.69 1540.8L1361.23 1575.2L1361.78 1611.4L1362.32 1648.2L1362.86 1684.1L1363.41 1717.8L1363.95 1748.0L1364.49 1773.5L1365.04 1793.4L1365.58 1807.0L1366.12 1813.6L1366.67 1813.1L1367.21 1805.6L1367.75 1791.1L1368.30 1770.4L1368.84 1744.2L1369.38 1713.5L1369.93 1679.4L1370.47 1643.3L1371.01 1606.5L1371.56 1570.5L1372.10 1536.5L1372.64 1505.8L1373.19 1479.7L1373.73 1459.1L1374.28 1444.8L1374.82 1437.4L1375.36 1437.0L1375.91 1443.8L1376.45 1457.5L1376.99 1477.5L1377.54 1503.2L1378.08 1533.4L1378.62 1567.2L1379.17 1603.1L1379.71 1639.9L1380.25 1676.1L1380.80 1710.4L1381.34 1741.5L1381.88 1768.2L1382.43 1789.4L1382.97 1804.5L1383.51 1812.7L1384.06 1813.9L1384.60 1807.9L1385.14 1795.0L1385.69 1775.6L1386.23 1750.6L1386.78 1720.8L1387.32 1687.4L1387.86 1651.6L1388.41 1614.9L1388.95 1578.5L1389.49 1543.9L1390.04 1512.4L1390.58 1485.2L1391.12 1463.3L1391.67 1447.5L1392.21 1438.4L1392.75 1436.5L1393.30 1441.7L1393.84 1453.8L1394.38 1472.5L1394.93 1496.9L1395.47 1526.2L1396.01 1559.3L1396.56 1594.8L1397.10 1631.6L1397.64 1668.0L1398.19 1702.9L1398.73 1734.8L1399.28 1762.6L1399.82 1785.1L1400.36 1801.7L1400.91 1811.5L1401.45 1814.3L1401.99 1809.9L1402.54 1798.5L1403.08 1780.5L1403.62 1756.7L1404.17 1727.9L1404.71 1695.2L1405.25 1659.9L1405.80 1623.2L1406.34 1586.6L1406.88 1551.5L1407.43 1519.2L1407.97 1490.9L1408.51 1467.7L1409.06 1450.5L1409.60 1439.9L1410.14 1436.3L1410.69 1439.9L1411.23 1450.5L1411.78 1467.7L1412.32 1490.9L1412.86 1519.2L1413.41 1551.5L1413.95 1586.6L1414.49 1623.2L1415.04 1659.9L1415.58 1695.2L1416.12 1727.9L1416.67 1756.7L1417.21 1780.5L1417.75 1798.5L1418.30 1809.9L1418.84 1814.3L1419.38 1811.5L1419.93 1801.7L1420.47 1785.1L1421.01 1762.6L1421.56 1734.8L1422.10 1702.9L1422.64 1668.0L1423.19 1631.6L1423.73 1594.8L1424.28 1559.3L1424.82 1526.2L1425.36 1496.9L1425.91 1472.5L1426.45 1453.8L1426.99 1441.7L1427.54 1436.5L1428.08 1438.4L1428.62 1447.5L1429.17 1463.3L1429.71 1485.2L1430.25 1512.4L1430.80 1543.9L1431.34 1578.5L1431.88 1614.9L1432.43 1651.6L1432.97 1687.4L1433.51 1720.8L1434.06 1750.6L1434.60 1775.6L1435.14 1795.0L1435.69 1807.9L1436.23 1813.9L1436.78 1812.7L1437.32 1804.5L1437.86 1789.4L1438.41 1768.2L1438.95 1741.5L1439.49 1710.4L1440.04 1676.1L1440.58 1639.9L1441.12 1603.1L1441.67 1567.2L1442.21 1533.4L1442.75 1503.2L1443.30 1477.5L1443.84 1457.5L1444.38 1443.8L1444.93 1437.0L1445.47 1437.4L1446.01 1444.8L1446.56 1459.1L1447.10 1479.7L1447.64 1505.8L1448.19 1536.5L1448.73 1570.5L1449.28 1606.5L1449.82 1643.3L1450.36 1679.4L1450.91 1713.5L1451.45 1744.2L1451.99 1770.4L1452.54 1791.1L1453.08 1805.6L1453.62 1813.1L1454.17 1813.6L1454.71 1807.0L1455.25 1793.4L1455.80 1773.5L1456.34 1748.0L1456.88 1717.8L1457.43 1684.1L1457.97 1648.2L1458.51 1611.4L1459.06 1575.2L1459.60 1540.8L1460.14 1509.7L1460.69 1482.9L1461.23 1461.5L1461.78 1446.3L1462.32 1438.0L1462.86 1436.7L1463.41 1442.5L1463.95 1455.3L1464.49 1474.5L1465.04 1499.5L1465.58 1529.2L1466.12 1562.5L1466.67 1598.2L1467.21 1635.0L1467.75 1671.4L1468.30 1706.0L1468.84 1737.6L1469.38 1764.9L1469.93 1787.0L1470.47 1802.9L1471.01 1812.0L1471.56 1814.1L1472.10 1809.1L1472.64 1797.1L1473.19 1778.6L1473.73 1754.2L1474.28 1725.0L1474.82 1692.0L1475.36 1656.5L1475.91 1619.8L1476.45 1583.3L1476.99 1548.4L1477.54 1516.4L1478.08 1488.5L1478.62 1465.8L1479.17 1449.2L1479.71 1439.2L1480.25 1436.3L1480.80 1440.6L1481.34 1451.8L1481.88 1469.6L1482.43 1493.4L1482.97 1522.1L1483.51 1554.7L1484.06 1590.0L1484.60 1626.7L1485.14 1663.2L1485.69 1698.4L1486.23 1730.8L1486.78 1759.2L1487.32 1782.5L1487.86 1799.8L1488.41 1810.6L1488.95 1814.3L1489.49 1810.9L1490.04 1800.4L1490.58 1783.3L1491.12 1760.2L1491.67 1732.0" stroke="#e00000" stroke-width="5.4"/>
<path transform="scale(1.05 1)" d="M274.29 1628.7L1000.00 1628.9L1000.71 1628.9L1001.43 1629.0L1002.14 1629.0L1002.86 1628.9L1003.57 1628.9L1004.29 1628.9L1005.00 1628.9L1005.71 1628.9L1006.43 1628.8L1007.14 1628.8L1007.86 1628.8L1008.57 1628.7L1009.29 1628.7L1010.00 1628.7L1010.71 1628.7L1011.43 1628.6L1012.14 1628.6L1012.86 1628.6L1013.57 1628.6L1014.29 1628.6L1015.00 1628.6L1015.71 1628.7L1016.43 1628.7L1017.14 1628.7L1017.86 1628.7L1018.57 1628.8L1019.29 1628.8L1020.00 1628.9L1020.71 1628.9L1021.43 1628.9L1022.14 1629.0L1022.86 1629.0L1023.57 1629.0L1024.29 1629.0L1025.00 1629.0L1025.71 1629.0L1026.43 1629.0L1027.14 1629.0L1027.86 1629.0L1028.57 1628.9L1029.29 1628.9L1030.00 1628.8L1030.71 1628.8L1031.43 1628.7L1032.14 1628.7L1032.86 1628.6L1033.57 1628.6L1034.29 1628.6L1035.00 1628.5L1035.71 1628.5L1036.43 1628.5L1037.14 1628.5L1037.86 1628.5L1038.57 1628.6L1039.29 1628.6L1040.00 1628.6L1040.71 1628.7L1041.43 1628.8L1042.14 1628.8L1042.86 1628.9L1043.57 1628.9L1044.29 1629.0L1045.00 1629.0L1045.71 1629.1L1046.43 1629.1L1047.14 1629.1L1047.86 1629.1L1048.57 1629.1L1049.29 1629.1L1050.00 1629.1L1050.71 1629.0L1051.43 1629.0L1052.14 1628.9L1052.86 1628.9L1053.57 1628.8L1054.29 1628.7L1055.00 1628.6L1055.71 1628.6L1056.43 1628.5L1057.14 1628.5L1057.86 1628.4L1058.57 1628.4L1059.29 1628.4L1060.00 1628.4L1060.71 1628.4L1061.43 1628.4L1062.14 1628.5L1062.86 1628.6L1063.57 1628.6L1064.29 1628.7L1065.00 1628.8L1065.71 1628.9L1066.43 1629.0L1067.14 1629.1L1067.86 1629.2L1068.57 1629.2L1069.29 1629.3L1070.00 1629.3L1070.71 1629.3L1071.43 1629.3L1072.14 1629.3L1072.86 1629.2L1073.57 1629.2L1074.29 1629.1L1075.00 1629.0L1075.71 1628.9L1076.43 1628.8L1077.14 1628.7L1077.86 1628.6L1078.57 1628.5L1079.29 1628.4L1080.00 1628.3L1080.71 1628.2L1081.43 1628.2L1082.14 1628.2L1082.86 1628.2L1083.57 1628.2L1084.29 1628.2L1085.00 1628.3L1085.71 1628.4L1086.43 1628.5L1087.14 1628.6L1087.86 1628.8L1088.57 1628.9L1089.29 1629.1L1090.00 1629.2L1090.71 1629.3L1091.43 1629.4L1092.14 1629.5L1092.86 1629.6L1093.57 1629.6L1094.29 1629.6L1095.00 1629.6L1095.71 1629.5L1096.43 1629.4L1097.14 1629.3L1097.86 1629.2L1098.57 1629.0L1099.29 1628.8L1100.00 1628.7L1100.71 1628.5L1101.43 1628.3L1102.14 1628.2L1102.86 1628.0L1103.57 1627.9L1104.29 1627.8L1105.00 1627.8L1105.71 1627.8L1106.43 1627.8L1107.14 1627.9L1107.86 1628.0L1108.57 1628.1L1109.29 1628.3L1110.00 1628.5L1110.71 1628.7L1111.43 1629.0L1112.14 1629.2L1112.86 1629.4L1113.57 1629.6L1114.29 1629.8L1115.00 1630.0L1115.71 1630.1L1116.43 1630.2L1117.14 1630.2L1117.86 1630.1L1118.57 1630.1L1119.29 1629.9L1120.00 1629.7L1120.71 1629.5L1121.43 1629.2L1122.14 1628.9L1122.86 1628.6L1123.57 1628.3L1124.29 1628.0L1125.00 1627.7L1125.71 1627.5L1126.43 1627.3L1127.14 1627.1L1127.86 1627.0L1128.57 1627.0L1129.29 1627.0L1130.00 1627.1L1130.71 1627.3L1131.43 1627.5L1132.14 1627.8L1132.86 1628.2L1133.57 1628.6L1134.29 1629.0L1135.00 1629.4L1135.71 1629.8L1136.43 1630.2L1137.14 1630.5L1137.86 1630.8L1138.57 1631.1L1139.29 1631.2L1140.00 1631.3L1140.71 1631.2L1141.43 1631.1L1142.14 1630.9L1142.86 1630.6L1143.57 1630.2L1144.29 1629.7L1145.00 1629.2L1145.71 1628.6L1146.43 1628.1L1147.14 1627.5L1147.86 1627.0L1148.57 1626.5L1149.29 1626.1L1150.00 1625.8L1150.71 1625.6L1151.43 1625.5L1152.14 1625.6L1152.86 1625.7L1153.57 1626.0L1154.29 1626.4L1155.00 1626.9L1155.71 1627.5L1156.43 1628.2L1157.14 1628.9L1157.86 1629.7L1158.57 1630.4L1159.29 1631.1L1160.00 1631.7L1160.71 1632.3L1161.43 1632.7L1162.14 1633.0L1162.86 1633.1L1163.57 1633.1L1164.29 1632.9L1165.00 1632.5L1165.71 1632.0L1166.43 1631.3L1167.14 1630.6L1167.86 1629.7L1168.57 1628.7L1169.29 1627.7L1170.00 1626.8L1170.71 1625.8L1171.43 1625.0L1172.14 1624.3L1172.86 1623.7L1173.57 1623.3L1174.29 1623.1L1175.00 1623.1L1175.71 1623.4L1176.43 1623.8L1177.14 1624.5L1177.86 1625.3L1178.57 1626.4L1179.29 1627.5L1180.00 1628.7L1180.71 1630.0L1181.43 1631.3L1182.14 1632.6L1182.86 1633.7L1183.57 1634.7L1184.29 1635.5L1185.00 1636.0L1185.71 1636.3L1186.43 1636.3L1187.14 1636.0L1187.86 1635.5L1188.57 1634.6L1189.29 1633.5L1190.00 1632.2L1190.71 1630.7L1191.43 1629.0L1192.14 1627.3L1192.86 1625.6L1193.57 1624.0L1194.29 1622.5L1195.00 1621.1L1195.71 1620.1L1196.43 1619.3L1197.14 1618.9L1197.86 1618.8L1198.57 1619.1L1199.29 1619.8L1200.00 1620.9L1200.71 1622.4L1201.43 1624.1L1202.14 1626.1L1202.86 1628.2L1203.57 1630.4L1204.29 1632.7L1205.00 1634.9L1205.71 1636.9L1206.43 1638.7L1207.14 1640.2L1207.86 1641.3L1208.57 1641.9L1209.29 1642.0L1210.00 1641.7L1210.71 1640.8L1211.43 1639.4L1212.14 1637.6L1212.86 1635.3L1213.57 1632.7L1214.29 1629.9L1215.00 1626.9L1215.71 1623.9L1216.43 1620.9L1217.14 1618.2L1217.86 1615.7L1218.57 1613.7L1219.29 1612.2L1220.00 1611.2L1220.71 1610.9L1221.43 1611.3L1222.14 1612.4L1222.86 1614.2L1223.57 1616.6L1224.29 1619.6L1225.00 1623.0L1225.71 1626.8L1226.43 1630.8L1227.14 1634.9L1227.86 1638.9L1228.57 1642.6L1229.29 1646.0L1230.00 1648.8L1230.71 1650.9L1231.43 1652.3L1232.14 1652.8L1232.86 1652.3L1233.57 1650.9L1234.29 1648.5L1235.00 1645.4L1235.71 1641.4L1236.43 1636.9L1237.14 1631.9L1237.86 1626.6" stroke="#e00000" stroke-width="5.4"/><path transform="scale(1.22 1)" d="M1065.57 1624.8L1065.57 1624.8L1066.19 1619.4L1066.80 1614.3L1067.42 1609.5L1068.03 1605.3L1068.65 1601.8L1069.26 1599.3L1069.88 1597.9L1070.49 1597.6L1071.11 1598.5L1071.72 1600.6L1072.34 1603.9L1072.95 1608.2L1073.57 1613.4L1074.18 1619.5L1074.80 1626.1L1075.41 1633.0L1076.02 1639.9L1076.64 1646.7L1077.25 1652.9L1077.87 1658.5L1078.48 1663.0L1079.10 1666.4L1079.71 1668.4L1080.33 1669.0L1080.94 1668.0L1081.56 1665.5L1082.17 1661.4L1082.79 1655.9L1083.40 1649.2L1084.02 1641.5L1084.63 1633.0L1085.25 1624.0L1085.86 1615.0L1086.48 1606.1L1087.09 1597.8L1087.70 1590.4L1088.32 1584.3L1088.93 1579.6L1089.55 1576.7L1090.16 1575.8L1090.78 1576.8L1091.39 1579.8L1092.01 1584.8L1092.62 1591.8L1093.24 1600.3L1093.85 1610.3L1094.47 1621.4L1095.08 1633.0L1095.70 1645.0L1096.31 1656.7L1096.93 1667.7L1097.54 1677.6L1098.16 1685.9L1098.77 1692.3L1099.39 1696.4L1100.00 1698.0L1100.61 1696.8L1101.23 1692.9L1101.84 1686.4L1102.46 1677.4L1103.07 1666.3" stroke="#e00000" stroke-width="5.4"/><path transform="scale(1.38 1)" d="M975.36 1662.2L975.36 1662.2L975.91 1648.7L976.45 1634.1L976.99 1618.8L977.54 1603.4L978.08 1588.5L978.62 1574.7L979.17 1562.5L979.71 1552.6L980.25 1545.2L980.80 1540.8L981.34 1539.7L981.88 1541.9L982.43 1547.5L982.97 1556.4L983.51 1568.3L984.06 1582.9L984.60 1599.7L985.14 1618.1L985.69 1637.5L986.23 1657.1L986.78 1676.1L987.32 1693.9L987.86 1709.6L988.41 1722.7L988.95 1732.4L989.49 1738.5L990.04 1740.4L990.58 1737.7L991.12 1730.5L991.67 1719.3L992.21 1704.2L992.75 1685.9L993.30 1664.9L993.84 1642.0L994.38 1618.0L994.93 1593.8L995.47 1570.4L996.01 1548.6L996.56 1529.4L997.10 1513.5L997.64 1501.6L998.19 1494.2L998.73 1491.8L999.28 1494.7L999.82 1502.9L1000.36 1516.0L1000.91 1533.5L1001.45 1555.0L1001.99 1579.5L1002.54 1606.3L1003.08 1634.3L1003.62 1662.6L1004.17 1689.9L1004.71 1715.3L1005.25 1737.7L1005.80 1756.3L1006.34 1770.2L1006.88 1778.9L1007.43 1781.9L1007.97 1778.7L1008.51 1769.5L1009.06 1754.7L1009.60 1734.8L1010.14 1710.6L1010.69 1682.9L1011.23 1652.7L1011.78 1621.2L1012.32 1589.5L1012.86 1558.9L1013.41 1530.4L1013.95 1505.4L1014.49 1484.6L1015.04 1469.0L1015.58 1459.3L1016.12 1455.7L1016.67 1458.8L1017.21 1468.5L1017.75 1484.3L1018.30 1505.6L1018.84 1531.5L1019.38 1561.2L1019.93 1593.5L1020.47 1627.2L1021.01 1661.1L1021.56 1693.8L1022.10 1724.2L1022.64 1751.0L1023.19 1773.2L1023.73 1789.9L1024.28 1800.4L1024.82 1804.4L1025.36 1801.6L1025.91 1791.8L1026.45 1775.8L1026.99 1754.0L1027.54 1727.2L1028.08 1696.5L1028.62 1663.0L1029.17 1628.0L1029.71 1592.7L1030.25 1558.6L1030.80 1526.9L1031.34 1498.8L1031.88 1475.5L1032.43 1457.8L1032.97 1446.3L1033.51 1441.6L1034.06 1443.9L1034.60 1453.3L1035.14 1469.2L1035.69 1491.0L1036.23 1518.0L1036.78 1549.1L1037.32 1583.1L1037.86 1618.8L1038.41 1654.7L1038.95 1689.6L1039.49 1722.1L1040.04 1751.0L1040.58 1775.2L1041.12 1793.7L1041.67 1805.8L1042.21 1811.1L1042.75 1809.4L1043.30 1800.6L1043.84 1785.2L1044.38 1763.7L1044.93 1737.0L1045.47 1706.0L1046.01 1671.9L1046.56 1636.1L1047.10 1599.8L1047.64 1564.5L1048.19 1531.5L1048.73 1502.1L1049.28 1477.2L1049.82 1458.0L1050.36 1445.2L1050.91 1439.1L1051.45 1440.1L1051.99 1448.1L1052.54 1462.9L1053.08 1483.8L1053.62 1510.1L1054.17 1540.7L1054.71 1574.6L1055.25 1610.4L1055.80 1646.8L1056.34 1682.4L1056.88 1715.8L1057.43 1745.8L1057.97 1771.3L1058.51 1791.2L1059.06 1804.8L1059.60 1811.6L1060.14 1811.4L1060.69 1804.1L1061.23 1790.0L1061.78 1769.7L1062.32 1744.0L1062.86 1713.7L1063.41 1680.1L1063.95 1644.4L1064.49 1607.9L1065.04 1572.2L1065.58 1538.4L1066.12 1508.0L1066.67 1481.9L1067.21 1461.4L1067.75 1447.0L1068.30 1439.4L1068.84 1438.8L1069.38 1445.3L1069.93 1458.6L1070.47 1478.3L1071.01 1503.5L1071.56 1533.3L1072.10 1566.6L1072.64 1602.1L1073.19 1638.5L1073.73 1674.5L1074.28 1708.5L1074.82 1739.4L1075.36 1766.0L1075.91 1787.2L1076.45 1802.3L1076.99 1810.7L1077.54 1812.1L1078.08 1806.4L1078.62 1793.8L1079.17 1774.9L1079.71 1750.2L1080.25 1720.9L1080.80 1687.9L1081.34 1652.6L1081.88 1616.2L1082.43 1580.1L1082.97 1545.8L1083.51 1514.5L1084.06 1487.4L1084.60 1465.5L1085.14 1449.7L1085.69 1440.5L1086.23 1438.3L1086.78 1443.2L1087.32 1455.0L1087.86 1473.3L1088.41 1497.3L1088.95 1526.2L1089.49 1558.8L1090.04 1594.0L1090.58 1630.3L1091.12 1666.4L1091.67 1701.0L1092.21 1732.7L1092.75 1760.4L1093.30 1782.9L1093.84 1799.5L1094.38 1809.4L1094.93 1812.4L1095.47 1808.3L1096.01 1797.2L1096.56 1779.7L1097.10 1756.3L1097.64 1727.9L1098.19 1695.6L1098.73 1660.7L1099.28 1624.4L1099.82 1588.2L1100.36 1553.4L1100.91 1521.3L1101.45 1493.1L1101.99 1470.0L1102.54 1452.7L1103.08 1442.0L1103.62 1438.2L1104.17 1441.5L1104.71 1451.8L1105.25 1468.6L1105.80 1491.4L1106.34 1519.3L1106.88 1551.1L1107.43 1585.8L1107.97 1622.0L1108.51 1658.3L1109.06 1693.4L1109.60 1725.9L1110.14 1754.5L1110.69 1778.3L1111.23 1796.3L1111.78 1807.8L1112.32 1812.3L1112.86 1809.8L1113.41 1800.3L1113.95 1784.2L1114.49 1762.0L1115.04 1734.7L1115.58 1703.2L1116.12 1668.8L1116.67 1632.7L1117.21 1596.4L1117.75 1561.1L1118.30 1528.3L1118.84 1499.1L1119.38 1474.7L1119.93 1456.1L1120.47 1443.8L1121.01 1438.4L1121.56 1440.1L1122.10 1448.9L1122.64 1464.3L1123.19 1485.8L1123.73 1512.6L1124.28 1543.6L1124.82 1577.8L1125.36 1613.8L1125.91 1650.2L1126.45 1685.6L1126.99 1718.8L1127.54 1748.4L1128.08 1773.4L1128.62 1792.7L1129.17 1805.7L1129.71 1811.9L1130.25 1811.0L1130.80 1803.1L1131.34 1788.4L1131.88 1767.6L1132.43 1741.3L1132.97 1710.7L1133.51 1676.8L1134.06 1641.0L1134.60 1604.5L1135.14 1568.9L1135.69 1535.4L1136.23 1505.3L1136.78 1479.8L1137.32 1459.8L1137.86 1446.0L1138.41 1439.0L1138.95 1439.1L1139.49 1446.3L1140.04 1460.2L1140.58 1480.4L1141.12 1506.1L1141.67 1536.3L1142.21 1569.8L1142.75 1605.5L1143.30 1641.9L1143.84 1677.7L1144.38 1711.5L1144.93 1742.1L1145.47 1768.2L1146.01 1788.9L1146.56 1803.4L1147.10 1811.1L1147.64 1811.8L1148.19 1805.5L1148.73 1792.3L1149.28 1772.8L1149.82 1747.7L1150.36 1717.9L1150.91 1684.7L1151.45 1649.2L1151.99 1612.8L1152.54 1576.9L1153.08 1542.8L1153.62 1511.8L1154.17 1485.1L1154.71 1463.8L1155.25 1448.5L1155.80 1440.0L1156.34 1438.5L1156.88 1444.0L1157.43 1456.5L1157.97 1475.3L1158.51 1499.8L1159.06 1529.1L1159.60 1562.0L1160.14 1597.3L1160.69 1633.7L1161.23 1669.7L1161.78 1704.1L1162.32 1735.5L1162.86 1762.7L1163.41 1784.7L1163.95 1800.7L1164.49 1810.0L1165.04 1812.3L1165.58 1807.5L1166.12 1795.9L1166.67 1777.7L1167.21 1753.8L1167.75 1725.0L1168.30 1692.5L1168.84 1657.4L1169.38 1621.0L1169.93 1584.9L1170.47 1550.3L1171.01 1518.5L1171.56 1490.7L1172.10 1468.1L1172.64 1451.4L1173.19 1441.3L1173.73 1438.2L1174.28 1442.2L1174.82 1453.1L1175.36 1470.5L1175.91 1493.8L1176.45 1522.1L1176.99 1554.3L1177.54 1589.2L1178.08 1625.4L1178.62 1661.7L1179.17 1696.5L1179.71 1728.7L1180.25 1757.0L1180.80 1780.2L1181.34 1797.6L1181.88 1808.5L1182.43 1812.4L1182.97 1809.2L1183.51 1799.1L1184.06 1782.4L1184.60 1759.7L1185.14 1731.9L1185.69 1700.1L1186.23 1665.5L1186.78 1629.3L1187.32 1593.0L1187.86 1557.9L1188.41 1525.4L1188.95 1496.6L1189.49 1472.7L1190.04 1454.6L1190.58 1443.0L1191.12 1438.3L1191.67 1440.7L1192.21 1450.0L1192.75 1466.0L1193.30 1488.1L1193.84 1515.3L1194.38 1546.7L1194.93 1581.1L1195.47 1617.2L1196.01 1653.5L1196.56 1688.8L1197.10 1721.7L1197.64 1751.0L1198.19 1775.4L1198.73 1794.2L1199.28 1806.6L1199.82 1812.1L1200.36 1810.6L1200.91 1802.0L1201.45 1786.7L1201.99 1765.3L1202.54 1738.6L1203.08 1707.6L1203.62 1673.5L1204.17 1637.6L1204.71 1601.2L1205.25 1565.7L1205.80 1532.4L1206.34 1502.7L1206.88 1477.7L1207.43 1458.2L1207.97 1445.1L1208.51 1438.7L1209.06 1439.5L1209.60 1447.3L1210.14 1461.8L1210.69 1482.6L1211.23 1508.7L1211.78 1539.3L1212.32 1573.1L1212.86 1608.9L1213.41 1645.3L1213.95 1681.0L1214.49 1714.5L1215.04 1744.7L1215.58 1770.4L1216.12 1790.5L1216.67 1804.4L1217.21 1811.5L1217.75 1811.5L1218.30 1804.5L1218.84 1790.7L1219.38 1770.7L1219.93 1745.1L1220.47 1715.0L1221.01 1681.5L1221.56 1645.8L1222.10 1609.4L1222.64 1573.6L1223.19 1539.7L1223.73 1509.1L1224.28 1482.9L1224.82 1462.1L1225.36 1447.4L1225.91 1439.6L1226.45 1438.7L1226.99 1444.9L1227.54 1458.0L1228.08 1477.4L1228.62 1502.4L1229.17 1532.0L1229.71 1565.2L1230.25 1600.7L1230.80 1637.1L1231.34 1673.0L1231.88 1707.2L1232.43 1738.2L1232.97 1765.0L1233.51 1786.5L1234.06 1801.8L1234.60 1810.5L1235.14 1812.2L1235.69 1806.7L1236.23 1794.4L1236.78 1775.7L1237.32 1751.3L1237.86 1722.1L1238.41 1689.3L1238.95 1654.0L1239.49 1617.6L1240.04 1581.6L1240.58 1547.1L1241.12 1515.7L1241.67 1488.4L1242.21 1466.3L1242.75 1450.2L1243.30 1440.7L1243.84 1438.3L1244.38 1442.9L1244.93 1454.4L1245.47 1472.5L1246.01 1496.3L1246.56 1525.0L1247.10 1557.4L1247.64 1592.5L1248.19 1628.8L1248.73 1665.0L1249.28 1699.7L1249.82 1731.5L1250.36 1759.4L1250.91 1782.1L1251.45 1798.9L1251.99 1809.1L1252.54 1812.4L1253.08 1808.6L1253.62 1797.8L1254.17 1780.5L1254.71 1757.3L1255.25 1729.1L1255.80 1697.0L1256.34 1662.1L1256.88 1625.9L1257.43 1589.6L1257.97 1554.7L1258.51 1522.5L1259.06 1494.2L1259.60 1470.8L1260.14 1453.3L1260.69 1442.3L1261.23 1438.2L1261.78 1441.2L1262.32 1451.2L1262.86 1467.8L1263.41 1490.4L1263.95 1518.1L1264.49 1549.8L1265.04 1584.4L1265.58 1620.6L1266.12 1656.9L1266.67 1692.0L1267.21 1724.6L1267.75 1753.5L1268.30 1777.4L1268.84 1795.7L1269.38 1807.4L1269.93 1812.3L1270.47 1810.1L1271.01 1800.8L1271.56 1785.0L1272.10 1763.0L1272.64 1735.9L1273.19 1704.6L1273.73 1670.2L1274.28 1634.2L1274.82 1597.8L1275.36 1562.5L1275.91 1529.5L1276.45 1500.2L1276.99 1475.6L1277.54 1456.7L1278.08 1444.2L1278.62 1438.5L1279.17 1439.9L1279.71 1448.4L1280.25 1463.5L1280.80 1484.8L1281.34 1511.4L1281.88 1542.3L1282.43 1576.4L1282.97 1612.3L1283.51 1648.7L1284.06 1684.2L1284.60 1717.5L1285.14 1747.3L1285.69 1772.5L1286.23 1792.1L1286.78 1805.4L1287.32 1811.8L1287.86 1811.2L1288.41 1803.5L1288.95 1789.1L1289.49 1768.5L1290.04 1742.4L1290.58 1712.0L1291.12 1678.2L1291.67 1642.4L1292.21 1606.0L1292.75 1570.3L1293.30 1536.7L1293.84 1506.5L1294.38 1480.7L1294.93 1460.4L1295.47 1446.4L1296.01 1439.2L1296.56 1439.0L1297.10 1445.9L1297.64 1459.5L1298.19 1479.5L1298.73 1505.0L1299.28 1535.0L1299.82 1568.5L1300.36 1604.1L1300.91 1640.5L1301.45 1676.3L1301.99 1710.2L1302.54 1740.9L1303.08 1767.2L1303.62 1788.2L1304.17 1802.9L1304.71 1811.0L1305.25 1811.9L1305.80 1805.9L1306.34 1792.9L1306.88 1773.7L1307.43 1748.8L1307.97 1719.2L1308.51 1686.1L1309.06 1650.6L1309.60 1614.2L1310.14 1578.3L1310.69 1544.1L1311.23 1513.0L1311.78 1486.1L1312.32 1464.5L1312.86 1449.0L1313.41 1440.2L1313.95 1438.4L1314.49 1443.7L1315.04 1455.9L1315.58 1474.4L1316.12 1498.7L1316.67 1527.8L1317.21 1560.6L1317.75 1595.9L1318.30 1632.2L1318.84 1668.3L1319.38 1702.8L1319.93 1734.3L1320.47 1761.7L1321.01 1783.9L1321.56 1800.2L1322.10 1809.7L1322.64 1812.3L1323.19 1807.9L1323.73 1796.5L1324.28 1778.6L1324.82 1754.9L1325.36 1726.3L1325.91 1693.8L1326.45 1658.8L1326.99 1622.5L1327.54 1586.3L1328.08 1551.6L1328.62 1519.7L1329.17 1491.8L1329.71 1468.9L1330.25 1452.0L1330.80 1441.6L1331.34 1438.2L1331.88 1441.9L1332.43 1452.5L1332.97 1469.7L1333.51 1492.8L1334.06 1520.9L1334.60 1552.9L1335.14 1587.7L1335.69 1624.0L1336.23 1660.2L1336.78 1695.2L1337.32 1727.5L1337.86 1755.9L1338.41 1779.4L1338.95 1797.0L1339.49 1808.2L1340.04 1812.4L1340.58 1809.5L1341.12 1799.6L1341.67 1783.2L1342.21 1760.7L1342.75 1733.1L1343.30 1701.5L1343.84 1666.9L1344.38 1630.8L1344.93 1594.4L1345.47 1559.3L1346.01 1526.6L1346.56 1497.7L1347.10 1473.6L1347.64 1455.2L1348.19 1443.3L1348.73 1438.3L1349.28 1440.4L1349.82 1449.5L1350.36 1465.3L1350.91 1487.1L1351.45 1514.1L1351.99 1545.4L1352.54 1579.7L1353.08 1615.7L1353.62 1652.1L1354.17 1687.5L1354.71 1720.5L1355.25 1749.9L1355.80 1774.6L1356.34 1793.6L1356.88 1806.2L1357.43 1812.0L1357.97 1810.8L1358.51 1802.5L1359.06 1787.4L1359.60 1766.3L1360.14 1739.8L1360.69 1708.9L1361.23 1674.9L1361.78 1639.0L1362.32 1602.6L1362.86 1567.1L1363.41 1533.7L1363.95 1503.8L1364.49 1478.6L1365.04 1458.9L1365.58 1445.4L1366.12 1438.9L1366.67 1439.3L1367.21 1446.9L1367.75 1461.1L1368.30 1481.6L1368.84 1507.6L1369.38 1538.0L1369.93 1571.7L1370.47 1607.5L1371.01 1643.9L1371.56 1679.6L1372.10 1713.3L1372.64 1743.6L1373.19 1769.4L1373.73 1789.8L1374.28 1804.0L1374.82 1811.3L1375.36 1811.7L1375.91 1804.9L1376.45 1791.4L1376.99 1771.6L1377.54 1746.2L1378.08 1716.2L1378.62 1682.8L1379.17 1647.3L1379.71 1610.8L1380.25 1575.0L1380.80 1541.0L1381.34 1510.2L1381.88 1483.8L1382.43 1462.8L1382.97 1447.9L1383.51 1439.7L1384.06 1438.6L1384.60 1444.5L1385.14 1457.3L1385.69 1476.5L1386.23 1501.3L1386.78 1530.8L1387.32 1563.8L1387.86 1599.2L1388.41 1635.6L1388.95 1671.6L1389.49 1705.9L1390.04 1737.1L1390.58 1764.0L1391.12 1785.7L1391.67 1801.3L1392.21 1810.3L1392.75 1812.2L1393.30 1807.1L1393.84 1795.1L1394.38 1776.6L1394.93 1752.4L1395.47 1723.4L1396.01 1690.7L1396.56 1655.4L1397.10 1619.1L1397.64 1583.0L1398.19 1548.5L1398.73 1516.9L1399.28 1489.4L1399.82 1467.0L1400.36 1450.7L1400.91 1441.0L1401.45 1438.2L1401.99 1442.6L1402.54 1453.8L1403.08 1471.6L1403.62 1495.2L1404.17 1523.7L1404.71 1556.1L1405.25 1591.1L1405.80 1627.4L1406.34 1663.6L1406.88 1698.3L1407.43 1730.3L1407.97 1758.3L1408.51 1781.3L1409.06 1798.4L1409.60 1808.9L1410.14 1812.4L1410.69 1808.9L1411.23 1798.4L1411.78 1781.3L1412.32 1758.3L1412.86 1730.3L1413.41 1698.3L1413.95 1663.6L1414.49 1627.4L1415.04 1591.1L1415.58 1556.1L1416.12 1523.7L1416.67 1495.2L1417.21 1471.6L1417.75 1453.8L1418.30 1442.6L1418.84 1438.2L1419.38 1441.0L1419.93 1450.7L1420.47 1467.0L1421.01 1489.4L1421.56 1516.9L1422.10 1548.5L1422.64 1583.0L1423.19 1619.1L1423.73 1655.4L1424.28 1690.7L1424.82 1723.4L1425.36 1752.4L1425.91 1776.6L1426.45 1795.1L1426.99 1807.1L1427.54 1812.2L1428.08 1810.3L1428.62 1801.3L1429.17 1785.7L1429.71 1764.0L1430.25 1737.1L1430.80 1705.9L1431.34 1671.6L1431.88 1635.6L1432.43 1599.2L1432.97 1563.8L1433.51 1530.8L1434.06 1501.3L1434.60 1476.5L1435.14 1457.3L1435.69 1444.5L1436.23 1438.6L1436.78 1439.7L1437.32 1447.9L1437.86 1462.8L1438.41 1483.8L1438.95 1510.2L1439.49 1541.0L1440.04 1575.0L1440.58 1610.8L1441.12 1647.3L1441.67 1682.8L1442.21 1716.2L1442.75 1746.2L1443.30 1771.6L1443.84 1791.4L1444.38 1804.9L1444.93 1811.7L1445.47 1811.3L1446.01 1804.0L1446.56 1789.8L1447.10 1769.4L1447.64 1743.6L1448.19 1713.3L1448.73 1679.6L1449.28 1643.9L1449.82 1607.5L1450.36 1571.7L1450.91 1538.0L1451.45 1507.6L1451.99 1481.6L1452.54 1461.1L1453.08 1446.9L1453.62 1439.3L1454.17 1438.9L1454.71 1445.4L1455.25 1458.9L1455.80 1478.6L1456.34 1503.8L1456.88 1533.7L1457.43 1567.1L1457.97 1602.6L1458.51 1639.0L1459.06 1674.9L1459.60 1708.9L1460.14 1739.8L1460.69 1766.3L1461.23 1787.4L1461.78 1802.5L1462.32 1810.8L1462.86 1812.0L1463.41 1806.2L1463.95 1793.6L1464.49 1774.6L1465.04 1749.9L1465.58 1720.5L1466.12 1687.5L1466.67 1652.1L1467.21 1615.7L1467.75 1579.7L1468.30 1545.4L1468.84 1514.1L1469.38 1487.1L1469.93 1465.3L1470.47 1449.5L1471.01 1440.4L1471.56 1438.3L1472.10 1443.3L1472.64 1455.2L1473.19 1473.6L1473.73 1497.7L1474.28 1526.6L1474.82 1559.3L1475.36 1594.4L1475.91 1630.8L1476.45 1666.9L1476.99 1701.5L1477.54 1733.1L1478.08 1760.7L1478.62 1783.2L1479.17 1799.6L1479.71 1809.5L1480.25 1812.4L1480.80 1808.2L1481.34 1797.0L1481.88 1779.4L1482.43 1755.9L1482.97 1727.5L1483.51 1695.2L1484.06 1660.2L1484.60 1624.0L1485.14 1587.7L1485.69 1552.9L1486.23 1520.9L1486.78 1492.8L1487.32 1469.7L1487.86 1452.5L1488.41 1441.9L1488.95 1438.2L1489.49 1441.6L1490.04 1452.0L1490.58 1468.9L1491.12 1491.8L1491.67 1519.7" stroke="#e00000" stroke-width="5.4"/>
<clipPath id="rmid"><rect x="1340" y="1548" width="760" height="166"/></clipPath>
<g clip-path="url(#rmid)">
<path transform="scale(1.72 1)" d="M782.56 1593.9L782.56 1593.9L782.99 1607.5L783.43 1622.2L783.87 1637.6L784.30 1653.2L784.74 1668.2L785.17 1682.1L785.61 1694.3L786.05 1704.4L786.48 1711.7L786.92 1716.1L787.35 1717.2L787.79 1714.9L788.23 1709.2L788.66 1700.2L789.10 1688.1L789.53 1673.3L789.97 1656.3L790.41 1637.6L790.84 1618.0L791.28 1598.2L791.72 1578.9L792.15 1560.9L792.59 1544.9L793.02 1531.6L793.46 1521.7L793.90 1515.5L794.33 1513.5L794.77 1516.2L795.20 1523.3L795.64 1534.6L796.08 1549.8L796.51 1568.2L796.95 1589.4L797.38 1612.4L797.82 1636.6L798.26 1661.0L798.69 1684.6L799.13 1706.5L799.56 1725.8L800.00 1741.8L800.44 1753.8L800.87 1761.1L801.31 1763.5L801.74 1760.5L802.18 1752.1L802.62 1738.9L803.05 1721.1L803.49 1699.4L803.92 1674.5L804.36 1647.4L804.80 1619.0L805.23 1590.4L805.67 1562.7L806.10 1537.0L806.54 1514.2L806.98 1495.4L807.41 1481.2L807.85 1472.4L808.28 1469.3L808.72 1472.4L809.16 1481.7L809.59 1496.6L810.03 1516.6L810.47 1541.0L810.90 1569.0L811.34 1599.4L811.77 1631.2L812.21 1663.1L812.65 1694.0L813.08 1722.6L813.52 1747.9L813.95 1768.8L814.39 1784.5L814.83 1794.3L815.26 1797.8L815.70 1794.6L816.13 1784.8L816.57 1768.8L817.01 1747.3L817.44 1721.1L817.88 1691.1L818.31 1658.4L818.75 1624.3L819.19 1590.0L819.62 1556.9L820.06 1526.2L820.49 1499.1L820.93 1476.7L821.37 1459.8L821.80 1449.1L822.24 1445.0L822.67 1447.8L823.11 1457.6L823.55 1473.8L823.98 1495.8L824.42 1522.8L824.85 1553.8L825.29 1587.6L825.73 1623.0L826.16 1658.6L826.60 1693.0L827.03 1725.0L827.47 1753.4L827.91 1776.9L828.34 1794.8L828.78 1806.4L829.22 1811.1L829.65 1808.7L830.09 1799.3L830.52 1783.2L830.96 1761.1L831.40 1733.9L831.83 1702.5L832.27 1668.1L832.70 1632.1L833.14 1595.7L833.58 1560.5L834.01 1527.6L834.45 1498.4L834.88 1474.0L835.32 1455.3L835.76 1443.1L836.19 1437.7L836.63 1439.4L837.06 1448.3L837.50 1463.8L837.94 1485.5L838.37 1512.6L838.81 1543.9L839.24 1578.3L839.68 1614.4L840.12 1651.1L840.55 1686.7L840.99 1720.1L841.42 1749.8L841.86 1774.9L842.30 1794.3L842.73 1807.3L843.17 1813.4L843.60 1812.4L844.04 1804.3L844.48 1789.4L844.91 1768.3L845.35 1741.7L845.78 1710.8L846.22 1676.6L846.66 1640.4L847.09 1603.6L847.53 1567.7L847.97 1533.9L848.40 1503.6L848.84 1477.9L849.27 1457.7L849.71 1444.0L850.15 1437.1L850.58 1437.3L851.02 1444.7L851.45 1458.9L851.89 1479.4L852.33 1505.4L852.76 1536.0L853.20 1570.0L853.63 1606.0L854.07 1642.8L854.51 1679.0L854.94 1713.1L855.38 1743.8L855.81 1770.1L856.25 1790.9L856.69 1805.4L857.12 1813.1L857.56 1813.7L857.99 1807.1L858.43 1793.7L858.87 1773.8L859.30 1748.4L859.74 1718.2L860.17 1684.6L860.61 1648.7L861.05 1611.9L861.48 1575.7L861.92 1541.3L862.35 1510.1L862.79 1483.2L863.23 1461.8L863.66 1446.5L864.10 1438.0L864.53 1436.6L864.97 1442.4L865.41 1455.1L865.84 1474.2L866.28 1499.1L866.72 1528.8L867.15 1562.1L867.59 1597.8L868.02 1634.5L868.46 1670.9L868.90 1705.6L869.33 1737.2L869.77 1764.6L870.20 1786.7L870.64 1802.7L871.08 1812.0L871.51 1814.2L871.95 1809.2L872.38 1797.3L872.82 1778.8L873.26 1754.6L873.69 1725.4L874.13 1692.5L874.56 1657.0L875.00 1620.3L875.44 1583.8L875.87 1548.8L876.31 1516.8L876.74 1488.9L877.18 1466.1L877.62 1449.4L878.05 1439.3L878.49 1436.3L878.92 1440.5L879.36 1451.6L879.80 1469.4L880.23 1493.0L880.67 1521.7L881.10 1554.3L881.54 1589.5L881.98 1626.2L882.41 1662.8L882.85 1697.9L883.28 1730.4L883.72 1758.8L884.16 1782.2L884.59 1799.6L885.03 1810.5L885.47 1814.3L885.90 1811.0L886.34 1800.6L886.77 1783.6L887.21 1760.5L887.65 1732.4L888.08 1700.2L888.52 1665.2L888.95 1628.6L889.39 1591.9L889.83 1556.5L890.26 1523.7L890.70 1494.8L891.13 1470.8L891.57 1452.6L892.01 1441.0L892.44 1436.4L892.88 1438.9L893.31 1448.5L893.75 1464.8L894.19 1487.2L894.62 1514.8L895.06 1546.6L895.49 1581.4L895.93 1617.8L896.37 1654.5L896.80 1690.2L897.24 1723.3L897.67 1752.8L898.11 1777.4L898.55 1796.2L898.98 1808.6L899.42 1814.1L899.85 1812.3L900.29 1803.5L900.73 1788.0L901.16 1766.2L901.60 1739.2L902.03 1707.8L902.47 1673.3L902.91 1637.0L903.34 1600.2L903.78 1564.4L904.22 1530.9L904.65 1500.9L905.09 1475.7L905.52 1456.2L905.96 1443.0L906.40 1436.8L906.83 1437.7L907.27 1445.7L907.70 1460.5L908.14 1481.6L908.58 1508.1L909.01 1539.1L909.45 1573.3L909.88 1609.5L910.32 1646.3L910.76 1682.3L911.19 1716.1L911.63 1746.5L912.06 1772.3L912.50 1792.5L912.94 1806.4L913.37 1813.4L913.81 1813.4L914.24 1806.1L914.68 1792.1L915.12 1771.7L915.55 1745.7L915.99 1715.2L916.42 1681.3L916.86 1645.3L917.30 1608.5L917.73 1572.3L918.17 1538.2L918.60 1507.4L919.04 1481.0L919.48 1460.1L919.91 1445.4L920.35 1437.6L920.78 1436.9L921.22 1443.3L921.66 1456.6L922.09 1476.3L922.53 1501.7L922.97 1531.7L923.40 1565.3L923.84 1601.2L924.27 1637.9L924.71 1674.2L925.15 1708.7L925.58 1740.0L926.02 1766.9L926.45 1788.5L926.89 1803.9L927.33 1812.5L927.76 1814.0L928.20 1808.4L928.63 1795.8L929.07 1776.8L929.51 1752.0L929.94 1722.5L930.38 1689.2L930.81 1653.6L931.25 1616.8L931.69 1580.4L932.12 1545.7L932.56 1514.0L932.99 1486.5L933.43 1464.3L933.87 1448.2L934.30 1438.7L934.74 1436.4L935.17 1441.2L935.61 1453.0L936.05 1471.3L936.48 1495.5L936.92 1524.6L937.35 1557.4L937.79 1592.9L938.23 1629.6L938.66 1666.1L939.10 1701.1L939.53 1733.2L939.97 1761.2L940.41 1784.1L940.84 1800.9L941.28 1811.1L941.72 1814.3L942.15 1810.3L942.59 1799.3L943.02 1781.6L943.46 1758.1L943.90 1729.5L944.33 1697.0L944.77 1661.8L945.20 1625.2L945.64 1588.6L946.08 1553.3L946.51 1520.8L946.95 1492.3L947.38 1468.8L947.82 1451.2L948.26 1440.3L948.69 1436.3L949.13 1439.5L949.56 1449.8L950.00 1466.6L950.44 1489.5L950.87 1517.6L951.31 1549.7L951.74 1584.7L952.18 1621.2L952.62 1657.9L953.05 1693.4L953.49 1726.2L953.92 1755.3L954.36 1779.4L954.80 1797.7L955.23 1809.4L955.67 1814.2L956.10 1811.8L956.54 1802.4L956.98 1786.2L957.41 1763.9L957.85 1736.4L958.28 1704.7L958.72 1670.0L959.16 1633.5L959.59 1596.8L960.03 1561.1L960.47 1527.9L960.90 1498.4L961.34 1473.6L961.77 1454.7L962.21 1442.2L962.65 1436.6L963.08 1438.2L963.52 1446.8L963.95 1462.3L964.39 1483.9L964.83 1510.8L965.26 1542.1L965.70 1576.6L966.13 1612.9L966.57 1649.7L967.01 1685.5L967.44 1719.1L967.88 1749.1L968.31 1774.4L968.75 1794.1L969.19 1807.4L969.62 1813.7L970.06 1813.0L970.49 1805.1L970.93 1790.4L971.37 1769.5L971.80 1743.1L972.24 1712.2L972.67 1678.0L973.11 1641.9L973.55 1605.1L973.98 1569.0L974.42 1535.2L974.85 1504.7L975.29 1478.8L975.73 1458.4L976.16 1444.4L976.60 1437.2L977.03 1437.2L977.47 1444.3L977.91 1458.2L978.34 1478.5L978.78 1504.3L979.22 1534.7L979.65 1568.6L980.09 1604.6L980.52 1641.4L980.96 1677.6L981.40 1711.7L981.83 1742.7L982.27 1769.1L982.70 1790.2L983.14 1805.0L983.58 1812.9L984.01 1813.8L984.45 1807.5L984.88 1794.3L985.32 1774.7L985.76 1749.5L986.19 1719.5L986.63 1686.0L987.06 1650.2L987.50 1613.4L987.94 1577.1L988.37 1542.6L988.81 1511.2L989.24 1484.2L989.68 1462.5L990.12 1447.0L990.55 1438.2L990.99 1436.6L991.42 1442.0L991.86 1454.5L992.30 1473.4L992.73 1498.0L993.17 1527.5L993.60 1560.7L994.04 1596.3L994.48 1633.0L994.91 1669.5L995.35 1704.2L995.78 1736.0L996.22 1763.6L996.66 1785.9L997.09 1802.2L997.53 1811.7L997.97 1814.2L998.40 1809.5L998.84 1797.9L999.27 1779.7L999.71 1755.6L1000.15 1726.7L1000.58 1693.8L1001.02 1658.4L1001.45 1621.7L1001.89 1585.2L1002.33 1550.2L1002.76 1518.0L1003.20 1489.9L1003.63 1466.9L1004.07 1449.9L1004.51 1439.6L1004.94 1436.3L1005.38 1440.2L1005.81 1451.1L1006.25 1468.5L1006.69 1492.0L1007.12 1520.4L1007.56 1552.9L1007.99 1588.1L1008.43 1624.7L1008.87 1661.3L1009.30 1696.6L1009.74 1729.1L1010.17 1757.8L1010.61 1781.4L1011.05 1799.1L1011.48 1810.2L1011.92 1814.3L1012.35 1811.2L1012.79 1801.1L1013.23 1784.4L1013.66 1761.6L1014.10 1733.6L1014.53 1701.6L1014.97 1666.6L1015.41 1630.1L1015.84 1593.4L1016.28 1557.9L1016.72 1525.0L1017.15 1495.8L1017.59 1471.6L1018.02 1453.2L1018.46 1441.3L1018.90 1436.4L1019.33 1438.7L1019.77 1448.0L1020.20 1464.0L1020.64 1486.2L1021.08 1513.6L1021.51 1545.2L1021.95 1579.9L1022.38 1616.3L1022.82 1653.1L1023.26 1688.8L1023.69 1722.1L1024.13 1751.7L1024.56 1776.5L1025.00 1795.6L1025.44 1808.3L1025.87 1814.0L1026.31 1812.5L1026.74 1804.0L1027.18 1788.7L1027.62 1767.2L1028.05 1740.3L1028.49 1709.1L1028.92 1674.7L1029.36 1638.4L1029.80 1601.7L1030.23 1565.8L1030.67 1532.2L1031.10 1502.1L1031.54 1476.6L1031.98 1456.8L1032.41 1443.4L1032.85 1436.9L1033.28 1437.5L1033.72 1445.3L1034.16 1459.8L1034.59 1480.7L1035.03 1507.0L1035.47 1537.8L1035.90 1571.9L1036.34 1608.0L1036.77 1644.8L1037.21 1680.8L1037.65 1714.8L1038.08 1745.3L1038.52 1771.4L1038.95 1791.8L1039.39 1806.0L1039.83 1813.3L1040.26 1813.5L1040.70 1806.6L1041.13 1792.7L1041.57 1772.6L1042.01 1746.9L1042.44 1716.5L1042.88 1682.7L1043.31 1646.7L1043.75 1610.0L1044.19 1573.8L1044.62 1539.5L1045.06 1508.5L1045.49 1481.9L1045.93 1460.8L1046.37 1445.9L1046.80 1437.8L1047.24 1436.8L1047.67 1442.9L1048.11 1456.0L1048.55 1475.4L1048.98 1500.6L1049.42 1530.4L1049.85 1563.9L1050.29 1599.7L1050.73 1636.5L1051.16 1672.8L1051.60 1707.4L1052.03 1738.8L1052.47 1765.9L1052.91 1787.7L1053.34 1803.4L1053.78 1812.3L1054.22 1814.1L1054.65 1808.7L1055.09 1796.5L1055.52 1777.7L1055.96 1753.1L1056.40 1723.7L1056.83 1690.6L1057.27 1655.0L1057.70 1618.3L1058.14 1581.8L1058.58 1547.0L1059.01 1515.2L1059.45 1487.5L1059.88 1465.1L1060.32 1448.7L1060.76 1439.0L1061.19 1436.4L1061.63 1440.9L1062.06 1452.4L1062.50 1470.5L1062.94 1494.4L1063.37 1523.3L1063.81 1556.1L1064.24 1591.5L1064.68 1628.1L1065.12 1664.7L1065.55 1699.7L1065.99 1732.0L1066.42 1760.2L1066.86 1783.3L1067.30 1800.4L1067.73 1810.9L1068.17 1814.3L1068.60 1810.6L1069.04 1799.8L1069.48 1782.5L1069.91 1759.2L1070.35 1730.8L1070.78 1698.4L1071.22 1663.2L1071.66 1626.7L1072.09 1590.0L1072.53 1554.7L1072.97 1522.1L1073.40 1493.4L1073.84 1469.6L1074.27 1451.8L1074.71 1440.6L1075.15 1436.3L1075.58 1439.2L1076.02 1449.2L1076.45 1465.8L1076.89 1488.5L1077.33 1516.4L1077.76 1548.4L1078.20 1583.3L1078.63 1619.8L1079.07 1656.5L1079.51 1692.0L1079.94 1725.0L1080.38 1754.2L1080.81 1778.6L1081.25 1797.1L1081.69 1809.1L1082.12 1814.1L1082.56 1812.0L1082.99 1802.9L1083.43 1787.0L1083.87 1764.9L1084.30 1737.6L1084.74 1706.0L1085.17 1671.4L1085.61 1635.0L1086.05 1598.2L1086.48 1562.5L1086.92 1529.2L1087.35 1499.5L1087.79 1474.5L1088.23 1455.3L1088.66 1442.5L1089.10 1436.7L1089.53 1438.0L1089.97 1446.3L1090.41 1461.5L1090.84 1482.9L1091.28 1509.7L1091.72 1540.8L1092.15 1575.2L1092.59 1611.4L1093.02 1648.2L1093.46 1684.1L1093.90 1717.8L1094.33 1748.0L1094.77 1773.5L1095.20 1793.4L1095.64 1807.0L1096.08 1813.6L1096.51 1813.1L1096.95 1805.6L1097.38 1791.1L1097.82 1770.4L1098.26 1744.2L1098.69 1713.5L1099.13 1679.4L1099.56 1643.3L1100.00 1606.5L1100.44 1570.5L1100.87 1536.5L1101.31 1505.8L1101.74 1479.7L1102.18 1459.1L1102.62 1444.8L1103.05 1437.4L1103.49 1437.0L1103.92 1443.8L1104.36 1457.5L1104.80 1477.5L1105.23 1503.2L1105.67 1533.4L1106.10 1567.2L1106.54 1603.1L1106.98 1639.9L1107.41 1676.1L1107.85 1710.4L1108.28 1741.5L1108.72 1768.2L1109.16 1789.4L1109.59 1804.5L1110.03 1812.7L1110.47 1813.9L1110.90 1807.9L1111.34 1795.0L1111.77 1775.6L1112.21 1750.6L1112.65 1720.8L1113.08 1687.4L1113.52 1651.6L1113.95 1614.9L1114.39 1578.5L1114.83 1543.9L1115.26 1512.4L1115.70 1485.2L1116.13 1463.3L1116.57 1447.5L1117.01 1438.4L1117.44 1436.5L1117.88 1441.7L1118.31 1453.8L1118.75 1472.5L1119.19 1496.9L1119.62 1526.2L1120.06 1559.3L1120.49 1594.8L1120.93 1631.6L1121.37 1668.0L1121.80 1702.9L1122.24 1734.8L1122.67 1762.6L1123.11 1785.1L1123.55 1801.7L1123.98 1811.5L1124.42 1814.3L1124.85 1809.9L1125.29 1798.5L1125.73 1780.5L1126.16 1756.7L1126.60 1727.9L1127.03 1695.2L1127.47 1659.9L1127.91 1623.2L1128.34 1586.6L1128.78 1551.5L1129.22 1519.2L1129.65 1490.9L1130.09 1467.7L1130.52 1450.5L1130.96 1439.9L1131.40 1436.3L1131.83 1439.9L1132.27 1450.5L1132.70 1467.7L1133.14 1490.9L1133.58 1519.2L1134.01 1551.5L1134.45 1586.6L1134.88 1623.2L1135.32 1659.9L1135.76 1695.2L1136.19 1727.9L1136.63 1756.7L1137.06 1780.5L1137.50 1798.5L1137.94 1809.9L1138.37 1814.3L1138.81 1811.5L1139.24 1801.7L1139.68 1785.1L1140.12 1762.6L1140.55 1734.8L1140.99 1702.9L1141.42 1668.0L1141.86 1631.6L1142.30 1594.8L1142.73 1559.3L1143.17 1526.2L1143.60 1496.9L1144.04 1472.5L1144.48 1453.8L1144.91 1441.7L1145.35 1436.5L1145.78 1438.4L1146.22 1447.5L1146.66 1463.3L1147.09 1485.2L1147.53 1512.4L1147.97 1543.9L1148.40 1578.5L1148.84 1614.9L1149.27 1651.6L1149.71 1687.4L1150.15 1720.8L1150.58 1750.6L1151.02 1775.6L1151.45 1795.0L1151.89 1807.9L1152.33 1813.9L1152.76 1812.7L1153.20 1804.5L1153.63 1789.4L1154.07 1768.2L1154.51 1741.5L1154.94 1710.4L1155.38 1676.1L1155.81 1639.9L1156.25 1603.1L1156.69 1567.2L1157.12 1533.4L1157.56 1503.2L1157.99 1477.5L1158.43 1457.5L1158.87 1443.8L1159.30 1437.0L1159.74 1437.4L1160.17 1444.8L1160.61 1459.1L1161.05 1479.7L1161.48 1505.8L1161.92 1536.5L1162.35 1570.5L1162.79 1606.5L1163.23 1643.3L1163.66 1679.4L1164.10 1713.5L1164.53 1744.2L1164.97 1770.4L1165.41 1791.1L1165.84 1805.6L1166.28 1813.1L1166.72 1813.6L1167.15 1807.0L1167.59 1793.4L1168.02 1773.5L1168.46 1748.0L1168.90 1717.8L1169.33 1684.1L1169.77 1648.2L1170.20 1611.4L1170.64 1575.2L1171.08 1540.8L1171.51 1509.7L1171.95 1482.9L1172.38 1461.5L1172.82 1446.3L1173.26 1438.0L1173.69 1436.7L1174.13 1442.5L1174.56 1455.3L1175.00 1474.5L1175.44 1499.5L1175.87 1529.2L1176.31 1562.5L1176.74 1598.2L1177.18 1635.0L1177.62 1671.4L1178.05 1706.0L1178.49 1737.6L1178.92 1764.9L1179.36 1787.0L1179.80 1802.9L1180.23 1812.0L1180.67 1814.1L1181.10 1809.1L1181.54 1797.1L1181.98 1778.6L1182.41 1754.2L1182.85 1725.0L1183.28 1692.0L1183.72 1656.5L1184.16 1619.8L1184.59 1583.3L1185.03 1548.4L1185.47 1516.4L1185.90 1488.5L1186.34 1465.8L1186.77 1449.2L1187.21 1439.2L1187.65 1436.3L1188.08 1440.6L1188.52 1451.8L1188.95 1469.6L1189.39 1493.4L1189.83 1522.1L1190.26 1554.7L1190.70 1590.0L1191.13 1626.7L1191.57 1663.2L1192.01 1698.4L1192.44 1730.8L1192.88 1759.2L1193.31 1782.5L1193.75 1799.8L1194.19 1810.6L1194.62 1814.3L1195.06 1810.9L1195.49 1800.4L1195.93 1783.3L1196.37 1760.2L1196.80 1732.0" stroke="#e00000" stroke-width="5.4"/>
<path transform="scale(1.72 1)" d="M782.56 1662.2L782.56 1662.2L782.99 1648.7L783.43 1634.1L783.87 1618.8L784.30 1603.4L784.74 1588.5L785.17 1574.7L785.61 1562.5L786.05 1552.6L786.48 1545.2L786.92 1540.8L787.35 1539.7L787.79 1541.9L788.23 1547.5L788.66 1556.4L789.10 1568.3L789.53 1582.9L789.97 1599.7L790.41 1618.1L790.84 1637.5L791.28 1657.1L791.72 1676.1L792.15 1693.9L792.59 1709.6L793.02 1722.7L793.46 1732.4L793.90 1738.5L794.33 1740.4L794.77 1737.7L795.20 1730.5L795.64 1719.3L796.08 1704.2L796.51 1685.9L796.95 1664.9L797.38 1642.0L797.82 1618.0L798.26 1593.8L798.69 1570.4L799.13 1548.6L799.56 1529.4L800.00 1513.5L800.44 1501.6L800.87 1494.2L801.31 1491.8L801.74 1494.7L802.18 1502.9L802.62 1516.0L803.05 1533.5L803.49 1555.0L803.92 1579.5L804.36 1606.3L804.80 1634.3L805.23 1662.6L805.67 1689.9L806.10 1715.3L806.54 1737.7L806.98 1756.3L807.41 1770.2L807.85 1778.9L808.28 1781.9L808.72 1778.7L809.16 1769.5L809.59 1754.7L810.03 1734.8L810.47 1710.6L810.90 1682.9L811.34 1652.7L811.77 1621.2L812.21 1589.5L812.65 1558.9L813.08 1530.4L813.52 1505.4L813.95 1484.6L814.39 1469.0L814.83 1459.3L815.26 1455.7L815.70 1458.8L816.13 1468.5L816.57 1484.3L817.01 1505.6L817.44 1531.5L817.88 1561.2L818.31 1593.5L818.75 1627.2L819.19 1661.1L819.62 1693.8L820.06 1724.2L820.49 1751.0L820.93 1773.2L821.37 1789.9L821.80 1800.4L822.24 1804.4L822.67 1801.6L823.11 1791.8L823.55 1775.8L823.98 1754.0L824.42 1727.2L824.85 1696.5L825.29 1663.0L825.73 1628.0L826.16 1592.7L826.60 1558.6L827.03 1526.9L827.47 1498.8L827.91 1475.5L828.34 1457.8L828.78 1446.3L829.22 1441.6L829.65 1443.9L830.09 1453.3L830.52 1469.2L830.96 1491.0L831.40 1518.0L831.83 1549.1L832.27 1583.1L832.70 1618.8L833.14 1654.7L833.58 1689.6L834.01 1722.1L834.45 1751.0L834.88 1775.2L835.32 1793.7L835.76 1805.8L836.19 1811.1L836.63 1809.4L837.06 1800.6L837.50 1785.2L837.94 1763.7L838.37 1737.0L838.81 1706.0L839.24 1671.9L839.68 1636.1L840.12 1599.8L840.55 1564.5L840.99 1531.5L841.42 1502.1L841.86 1477.2L842.30 1458.0L842.73 1445.2L843.17 1439.1L843.60 1440.1L844.04 1448.1L844.48 1462.9L844.91 1483.8L845.35 1510.1L845.78 1540.7L846.22 1574.6L846.66 1610.4L847.09 1646.8L847.53 1682.4L847.97 1715.8L848.40 1745.8L848.84 1771.3L849.27 1791.2L849.71 1804.8L850.15 1811.6L850.58 1811.4L851.02 1804.1L851.45 1790.0L851.89 1769.7L852.33 1744.0L852.76 1713.7L853.20 1680.1L853.63 1644.4L854.07 1607.9L854.51 1572.2L854.94 1538.4L855.38 1508.0L855.81 1481.9L856.25 1461.4L856.69 1447.0L857.12 1439.4L857.56 1438.8L857.99 1445.3L858.43 1458.6L858.87 1478.3L859.30 1503.5L859.74 1533.3L860.17 1566.6L860.61 1602.1L861.05 1638.5L861.48 1674.5L861.92 1708.5L862.35 1739.4L862.79 1766.0L863.23 1787.2L863.66 1802.3L864.10 1810.7L864.53 1812.1L864.97 1806.4L865.41 1793.8L865.84 1774.9L866.28 1750.2L866.72 1720.9L867.15 1687.9L867.59 1652.6L868.02 1616.2L868.46 1580.1L868.90 1545.8L869.33 1514.5L869.77 1487.4L870.20 1465.5L870.64 1449.7L871.08 1440.5L871.51 1438.3L871.95 1443.2L872.38 1455.0L872.82 1473.3L873.26 1497.3L873.69 1526.2L874.13 1558.8L874.56 1594.0L875.00 1630.3L875.44 1666.4L875.87 1701.0L876.31 1732.7L876.74 1760.4L877.18 1782.9L877.62 1799.5L878.05 1809.4L878.49 1812.4L878.92 1808.3L879.36 1797.2L879.80 1779.7L880.23 1756.3L880.67 1727.9L881.10 1695.6L881.54 1660.7L881.98 1624.4L882.41 1588.2L882.85 1553.4L883.28 1521.3L883.72 1493.1L884.16 1470.0L884.59 1452.7L885.03 1442.0L885.47 1438.2L885.90 1441.5L886.34 1451.8L886.77 1468.6L887.21 1491.4L887.65 1519.3L888.08 1551.1L888.52 1585.8L888.95 1622.0L889.39 1658.3L889.83 1693.4L890.26 1725.9L890.70 1754.5L891.13 1778.3L891.57 1796.3L892.01 1807.8L892.44 1812.3L892.88 1809.8L893.31 1800.3L893.75 1784.2L894.19 1762.0L894.62 1734.7L895.06 1703.2L895.49 1668.8L895.93 1632.7L896.37 1596.4L896.80 1561.1L897.24 1528.3L897.67 1499.1L898.11 1474.7L898.55 1456.1L898.98 1443.8L899.42 1438.4L899.85 1440.1L900.29 1448.9L900.73 1464.3L901.16 1485.8L901.60 1512.6L902.03 1543.6L902.47 1577.8L902.91 1613.8L903.34 1650.2L903.78 1685.6L904.22 1718.8L904.65 1748.4L905.09 1773.4L905.52 1792.7L905.96 1805.7L906.40 1811.9L906.83 1811.0L907.27 1803.1L907.70 1788.4L908.14 1767.6L908.58 1741.3L909.01 1710.7L909.45 1676.8L909.88 1641.0L910.32 1604.5L910.76 1568.9L911.19 1535.4L911.63 1505.3L912.06 1479.8L912.50 1459.8L912.94 1446.0L913.37 1439.0L913.81 1439.1L914.24 1446.3L914.68 1460.2L915.12 1480.4L915.55 1506.1L915.99 1536.3L916.42 1569.8L916.86 1605.5L917.30 1641.9L917.73 1677.7L918.17 1711.5L918.60 1742.1L919.04 1768.2L919.48 1788.9L919.91 1803.4L920.35 1811.1L920.78 1811.8L921.22 1805.5L921.66 1792.3L922.09 1772.8L922.53 1747.7L922.97 1717.9L923.40 1684.7L923.84 1649.2L924.27 1612.8L924.71 1576.9L925.15 1542.8L925.58 1511.8L926.02 1485.1L926.45 1463.8L926.89 1448.5L927.33 1440.0L927.76 1438.5L928.20 1444.0L928.63 1456.5L929.07 1475.3L929.51 1499.8L929.94 1529.1L930.38 1562.0L930.81 1597.3L931.25 1633.7L931.69 1669.7L932.12 1704.1L932.56 1735.5L932.99 1762.7L933.43 1784.7L933.87 1800.7L934.30 1810.0L934.74 1812.3L935.17 1807.5L935.61 1795.9L936.05 1777.7L936.48 1753.8L936.92 1725.0L937.35 1692.5L937.79 1657.4L938.23 1621.0L938.66 1584.9L939.10 1550.3L939.53 1518.5L939.97 1490.7L940.41 1468.1L940.84 1451.4L941.28 1441.3L941.72 1438.2L942.15 1442.2L942.59 1453.1L943.02 1470.5L943.46 1493.8L943.90 1522.1L944.33 1554.3L944.77 1589.2L945.20 1625.4L945.64 1661.7L946.08 1696.5L946.51 1728.7L946.95 1757.0L947.38 1780.2L947.82 1797.6L948.26 1808.5L948.69 1812.4L949.13 1809.2L949.56 1799.1L950.00 1782.4L950.44 1759.7L950.87 1731.9L951.31 1700.1L951.74 1665.5L952.18 1629.3L952.62 1593.0L953.05 1557.9L953.49 1525.4L953.92 1496.6L954.36 1472.7L954.80 1454.6L955.23 1443.0L955.67 1438.3L956.10 1440.7L956.54 1450.0L956.98 1466.0L957.41 1488.1L957.85 1515.3L958.28 1546.7L958.72 1581.1L959.16 1617.2L959.59 1653.5L960.03 1688.8L960.47 1721.7L960.90 1751.0L961.34 1775.4L961.77 1794.2L962.21 1806.6L962.65 1812.1L963.08 1810.6L963.52 1802.0L963.95 1786.7L964.39 1765.3L964.83 1738.6L965.26 1707.6L965.70 1673.5L966.13 1637.6L966.57 1601.2L967.01 1565.7L967.44 1532.4L967.88 1502.7L968.31 1477.7L968.75 1458.2L969.19 1445.1L969.62 1438.7L970.06 1439.5L970.49 1447.3L970.93 1461.8L971.37 1482.6L971.80 1508.7L972.24 1539.3L972.67 1573.1L973.11 1608.9L973.55 1645.3L973.98 1681.0L974.42 1714.5L974.85 1744.7L975.29 1770.4L975.73 1790.5L976.16 1804.4L976.60 1811.5L977.03 1811.5L977.47 1804.5L977.91 1790.7L978.34 1770.7L978.78 1745.1L979.22 1715.0L979.65 1681.5L980.09 1645.8L980.52 1609.4L980.96 1573.6L981.40 1539.7L981.83 1509.1L982.27 1482.9L982.70 1462.1L983.14 1447.4L983.58 1439.6L984.01 1438.7L984.45 1444.9L984.88 1458.0L985.32 1477.4L985.76 1502.4L986.19 1532.0L986.63 1565.2L987.06 1600.7L987.50 1637.1L987.94 1673.0L988.37 1707.2L988.81 1738.2L989.24 1765.0L989.68 1786.5L990.12 1801.8L990.55 1810.5L990.99 1812.2L991.42 1806.7L991.86 1794.4L992.30 1775.7L992.73 1751.3L993.17 1722.1L993.60 1689.3L994.04 1654.0L994.48 1617.6L994.91 1581.6L995.35 1547.1L995.78 1515.7L996.22 1488.4L996.66 1466.3L997.09 1450.2L997.53 1440.7L997.97 1438.3L998.40 1442.9L998.84 1454.4L999.27 1472.5L999.71 1496.3L1000.15 1525.0L1000.58 1557.4L1001.02 1592.5L1001.45 1628.8L1001.89 1665.0L1002.33 1699.7L1002.76 1731.5L1003.20 1759.4L1003.63 1782.1L1004.07 1798.9L1004.51 1809.1L1004.94 1812.4L1005.38 1808.6L1005.81 1797.8L1006.25 1780.5L1006.69 1757.3L1007.12 1729.1L1007.56 1697.0L1007.99 1662.1L1008.43 1625.9L1008.87 1589.6L1009.30 1554.7L1009.74 1522.5L1010.17 1494.2L1010.61 1470.8L1011.05 1453.3L1011.48 1442.3L1011.92 1438.2L1012.35 1441.2L1012.79 1451.2L1013.23 1467.8L1013.66 1490.4L1014.10 1518.1L1014.53 1549.8L1014.97 1584.4L1015.41 1620.6L1015.84 1656.9L1016.28 1692.0L1016.72 1724.6L1017.15 1753.5L1017.59 1777.4L1018.02 1795.7L1018.46 1807.4L1018.90 1812.3L1019.33 1810.1L1019.77 1800.8L1020.20 1785.0L1020.64 1763.0L1021.08 1735.9L1021.51 1704.6L1021.95 1670.2L1022.38 1634.2L1022.82 1597.8L1023.26 1562.5L1023.69 1529.5L1024.13 1500.2L1024.56 1475.6L1025.00 1456.7L1025.44 1444.2L1025.87 1438.5L1026.31 1439.9L1026.74 1448.4L1027.18 1463.5L1027.62 1484.8L1028.05 1511.4L1028.49 1542.3L1028.92 1576.4L1029.36 1612.3L1029.80 1648.7L1030.23 1684.2L1030.67 1717.5L1031.10 1747.3L1031.54 1772.5L1031.98 1792.1L1032.41 1805.4L1032.85 1811.8L1033.28 1811.2L1033.72 1803.5L1034.16 1789.1L1034.59 1768.5L1035.03 1742.4L1035.47 1712.0L1035.90 1678.2L1036.34 1642.4L1036.77 1606.0L1037.21 1570.3L1037.65 1536.7L1038.08 1506.5L1038.52 1480.7L1038.95 1460.4L1039.39 1446.4L1039.83 1439.2L1040.26 1439.0L1040.70 1445.9L1041.13 1459.5L1041.57 1479.5L1042.01 1505.0L1042.44 1535.0L1042.88 1568.5L1043.31 1604.1L1043.75 1640.5L1044.19 1676.3L1044.62 1710.2L1045.06 1740.9L1045.49 1767.2L1045.93 1788.2L1046.37 1802.9L1046.80 1811.0L1047.24 1811.9L1047.67 1805.9L1048.11 1792.9L1048.55 1773.7L1048.98 1748.8L1049.42 1719.2L1049.85 1686.1L1050.29 1650.6L1050.73 1614.2L1051.16 1578.3L1051.60 1544.1L1052.03 1513.0L1052.47 1486.1L1052.91 1464.5L1053.34 1449.0L1053.78 1440.2L1054.22 1438.4L1054.65 1443.7L1055.09 1455.9L1055.52 1474.4L1055.96 1498.7L1056.40 1527.8L1056.83 1560.6L1057.27 1595.9L1057.70 1632.2L1058.14 1668.3L1058.58 1702.8L1059.01 1734.3L1059.45 1761.7L1059.88 1783.9L1060.32 1800.2L1060.76 1809.7L1061.19 1812.3L1061.63 1807.9L1062.06 1796.5L1062.50 1778.6L1062.94 1754.9L1063.37 1726.3L1063.81 1693.8L1064.24 1658.8L1064.68 1622.5L1065.12 1586.3L1065.55 1551.6L1065.99 1519.7L1066.42 1491.8L1066.86 1468.9L1067.30 1452.0L1067.73 1441.6L1068.17 1438.2L1068.60 1441.9L1069.04 1452.5L1069.48 1469.7L1069.91 1492.8L1070.35 1520.9L1070.78 1552.9L1071.22 1587.7L1071.66 1624.0L1072.09 1660.2L1072.53 1695.2L1072.97 1727.5L1073.40 1755.9L1073.84 1779.4L1074.27 1797.0L1074.71 1808.2L1075.15 1812.4L1075.58 1809.5L1076.02 1799.6L1076.45 1783.2L1076.89 1760.7L1077.33 1733.1L1077.76 1701.5L1078.20 1666.9L1078.63 1630.8L1079.07 1594.4L1079.51 1559.3L1079.94 1526.6L1080.38 1497.7L1080.81 1473.6L1081.25 1455.2L1081.69 1443.3L1082.12 1438.3L1082.56 1440.4L1082.99 1449.5L1083.43 1465.3L1083.87 1487.1L1084.30 1514.1L1084.74 1545.4L1085.17 1579.7L1085.61 1615.7L1086.05 1652.1L1086.48 1687.5L1086.92 1720.5L1087.35 1749.9L1087.79 1774.6L1088.23 1793.6L1088.66 1806.2L1089.10 1812.0L1089.53 1810.8L1089.97 1802.5L1090.41 1787.4L1090.84 1766.3L1091.28 1739.8L1091.72 1708.9L1092.15 1674.9L1092.59 1639.0L1093.02 1602.6L1093.46 1567.1L1093.90 1533.7L1094.33 1503.8L1094.77 1478.6L1095.20 1458.9L1095.64 1445.4L1096.08 1438.9L1096.51 1439.3L1096.95 1446.9L1097.38 1461.1L1097.82 1481.6L1098.26 1507.6L1098.69 1538.0L1099.13 1571.7L1099.56 1607.5L1100.00 1643.9L1100.44 1679.6L1100.87 1713.3L1101.31 1743.6L1101.74 1769.4L1102.18 1789.8L1102.62 1804.0L1103.05 1811.3L1103.49 1811.7L1103.92 1804.9L1104.36 1791.4L1104.80 1771.6L1105.23 1746.2L1105.67 1716.2L1106.10 1682.8L1106.54 1647.3L1106.98 1610.8L1107.41 1575.0L1107.85 1541.0L1108.28 1510.2L1108.72 1483.8L1109.16 1462.8L1109.59 1447.9L1110.03 1439.7L1110.47 1438.6L1110.90 1444.5L1111.34 1457.3L1111.77 1476.5L1112.21 1501.3L1112.65 1530.8L1113.08 1563.8L1113.52 1599.2L1113.95 1635.6L1114.39 1671.6L1114.83 1705.9L1115.26 1737.1L1115.70 1764.0L1116.13 1785.7L1116.57 1801.3L1117.01 1810.3L1117.44 1812.2L1117.88 1807.1L1118.31 1795.1L1118.75 1776.6L1119.19 1752.4L1119.62 1723.4L1120.06 1690.7L1120.49 1655.4L1120.93 1619.1L1121.37 1583.0L1121.80 1548.5L1122.24 1516.9L1122.67 1489.4L1123.11 1467.0L1123.55 1450.7L1123.98 1441.0L1124.42 1438.2L1124.85 1442.6L1125.29 1453.8L1125.73 1471.6L1126.16 1495.2L1126.60 1523.7L1127.03 1556.1L1127.47 1591.1L1127.91 1627.4L1128.34 1663.6L1128.78 1698.3L1129.22 1730.3L1129.65 1758.3L1130.09 1781.3L1130.52 1798.4L1130.96 1808.9L1131.40 1812.4L1131.83 1808.9L1132.27 1798.4L1132.70 1781.3L1133.14 1758.3L1133.58 1730.3L1134.01 1698.3L1134.45 1663.6L1134.88 1627.4L1135.32 1591.1L1135.76 1556.1L1136.19 1523.7L1136.63 1495.2L1137.06 1471.6L1137.50 1453.8L1137.94 1442.6L1138.37 1438.2L1138.81 1441.0L1139.24 1450.7L1139.68 1467.0L1140.12 1489.4L1140.55 1516.9L1140.99 1548.5L1141.42 1583.0L1141.86 1619.1L1142.30 1655.4L1142.73 1690.7L1143.17 1723.4L1143.60 1752.4L1144.04 1776.6L1144.48 1795.1L1144.91 1807.1L1145.35 1812.2L1145.78 1810.3L1146.22 1801.3L1146.66 1785.7L1147.09 1764.0L1147.53 1737.1L1147.97 1705.9L1148.40 1671.6L1148.84 1635.6L1149.27 1599.2L1149.71 1563.8L1150.15 1530.8L1150.58 1501.3L1151.02 1476.5L1151.45 1457.3L1151.89 1444.5L1152.33 1438.6L1152.76 1439.7L1153.20 1447.9L1153.63 1462.8L1154.07 1483.8L1154.51 1510.2L1154.94 1541.0L1155.38 1575.0L1155.81 1610.8L1156.25 1647.3L1156.69 1682.8L1157.12 1716.2L1157.56 1746.2L1157.99 1771.6L1158.43 1791.4L1158.87 1804.9L1159.30 1811.7L1159.74 1811.3L1160.17 1804.0L1160.61 1789.8L1161.05 1769.4L1161.48 1743.6L1161.92 1713.3L1162.35 1679.6L1162.79 1643.9L1163.23 1607.5L1163.66 1571.7L1164.10 1538.0L1164.53 1507.6L1164.97 1481.6L1165.41 1461.1L1165.84 1446.9L1166.28 1439.3L1166.72 1438.9L1167.15 1445.4L1167.59 1458.9L1168.02 1478.6L1168.46 1503.8L1168.90 1533.7L1169.33 1567.1L1169.77 1602.6L1170.20 1639.0L1170.64 1674.9L1171.08 1708.9L1171.51 1739.8L1171.95 1766.3L1172.38 1787.4L1172.82 1802.5L1173.26 1810.8L1173.69 1812.0L1174.13 1806.2L1174.56 1793.6L1175.00 1774.6L1175.44 1749.9L1175.87 1720.5L1176.31 1687.5L1176.74 1652.1L1177.18 1615.7L1177.62 1579.7L1178.05 1545.4L1178.49 1514.1L1178.92 1487.1L1179.36 1465.3L1179.80 1449.5L1180.23 1440.4L1180.67 1438.3L1181.10 1443.3L1181.54 1455.2L1181.98 1473.6L1182.41 1497.7L1182.85 1526.6L1183.28 1559.3L1183.72 1594.4L1184.16 1630.8L1184.59 1666.9L1185.03 1701.5L1185.47 1733.1L1185.90 1760.7L1186.34 1783.2L1186.77 1799.6L1187.21 1809.5L1187.65 1812.4L1188.08 1808.2L1188.52 1797.0L1188.95 1779.4L1189.39 1755.9L1189.83 1727.5L1190.26 1695.2L1190.70 1660.2L1191.13 1624.0L1191.57 1587.7L1192.01 1552.9L1192.44 1520.9L1192.88 1492.8L1193.31 1469.7L1193.75 1452.5L1194.19 1441.9L1194.62 1438.2L1195.06 1441.6L1195.49 1452.0L1195.93 1468.9L1196.37 1491.8L1196.80 1519.7" stroke="#e00000" stroke-width="5.4"/>
</g>
<path d="M2060.3 1488L2060.3 1556" stroke="#2a2a2a" stroke-width="3.6" opacity="0.8"/>
<path d="M1395.5 1607V1657M1408.6 1584V1685M1419.5 1571V1699M1432.6 1542V1726M1445.4 1527V1742M1456.2 1509V1761M1468.2 1521V1752M1480.5 1516V1757M1492.7 1519V1758M1504.7 1512V1767M1517.8 1504V1761M1529.6 1509V1761M1540.8 1514V1741M1554.0 1500V1754M1564.9 1505V1764M1576.7 1512V1760M1589.5 1528V1758M1602.2 1520V1766M1614.1 1508V1744M1624.8 1512V1763M1638.4 1506V1745M1650.8 1516V1746M1662.2 1527V1758M1674.3 1526V1764M1685.7 1513V1744M1699.1 1522V1749M1711.0 1517V1762M1722.9 1526V1748M1734.4 1513V1755M1747.2 1506V1747M1758.6 1519V1759M1771.5 1522V1745M1782.3 1508V1747M1794.8 1514V1743M1806.4 1504V1751M1820.1 1503V1746M1830.2 1508V1755M1844.1 1503V1758M1854.9 1523V1759M1867.3 1516V1758M1880.2 1511V1767M1892.2 1524V1753M1903.8 1513V1751M1914.9 1506V1741M1927.7 1509V1749M1939.2 1505V1760M1952.0 1505V1742M1964.8 1502V1752M1977.1 1523V1764M1987.4 1500V1751M1999.6 1502V1767M2012.3 1502V1741M2024.4 1517V1760M2036.4 1507V1765M2048.3 1511V1743" stroke="#1a0000" stroke-width="2.5" opacity="0.75"/>
<path d="M1398.3 1638v81M1410.4 1605v62M1422.5 1627v86M1434.6 1615v62M1446.7 1624v72M1470.8 1622v78M1495.0 1614v73M1519.2 1611v47M1531.3 1610v57M1543.4 1638v65M1555.4 1620v40M1567.5 1606v48M1591.7 1614v89M1603.8 1603v76M1615.9 1634v54M1640.0 1633v50M1652.1 1632v69M1664.2 1615v89M1688.4 1634v64M1700.5 1627v78M1712.5 1609v70M1724.6 1629v87M1736.7 1618v63M1748.8 1630v51M1760.9 1613v75M1773.0 1632v80M1785.1 1631v54M1809.2 1624v47M1821.3 1631v46M1833.4 1619v55M1845.5 1614v46M1857.6 1613v81M1881.7 1602v60M1893.8 1621v84M1905.9 1624v64M1930.1 1627v55M1954.2 1638v48M1966.3 1623v44M1978.4 1606v81M2002.6 1601v44M2026.8 1611v70M2050.9 1636v59" stroke="#f0c8c8" stroke-width="1.6" opacity="0.6"/>
</g>
<g filter="url(#sh)">
<text y="1472.0" font-size="71" font-weight="bold" fill="#000"><tspan x="345.5" font-style="italic" font-weight="normal" textLength="62" lengthAdjust="spacingAndGlyphs">@</tspan> <tspan x="429.5" textLength="67.0" lengthAdjust="spacingAndGlyphs">18</tspan> <tspan x="517.0" textLength="136.0" lengthAdjust="spacingAndGlyphs">GHz</tspan></text>
<g transform="translate(345.5 1472) scale(0.949 1)"><clipPath id="atc345"><ellipse cx="34.3" cy="-19.3" rx="19.3" ry="19.9" transform="rotate(-20 34.3 -19.3)"/></clipPath><g clip-path="url(#atc345)" aria-hidden="true"><text font-size="71" font-style="italic" font-weight="normal" stroke="#000" stroke-width="4.05" stroke-linejoin="round">@</text></g></g>
</g>
<g>
<text y="1769.9" font-size="77" font-weight="bold" fill="#000" ><tspan x="326.5" textLength="167.5" lengthAdjust="spacingAndGlyphs">VCO</tspan> <tspan x="521.5" textLength="187.0" lengthAdjust="spacingAndGlyphs">Swing</tspan> <tspan x="746.0" textLength="48.5" lengthAdjust="spacingAndGlyphs">=</tspan> <tspan x="810.0" textLength="93.0" lengthAdjust="spacingAndGlyphs">1.1</tspan> <tspan x="914.4" textLength="65.9" lengthAdjust="spacingAndGlyphs">V</tspan></text>
<text y="1868.6" font-size="77" font-weight="bold" fill="#ff0000" ><tspan x="329.0" textLength="151.5" lengthAdjust="spacingAndGlyphs">PLL</tspan> <tspan x="496.8" textLength="174.2" lengthAdjust="spacingAndGlyphs">Buffe</tspan><tspan x="680.0" textLength="34.0" lengthAdjust="spacingAndGlyphs">r</tspan> <tspan x="730.3" textLength="189.7" lengthAdjust="spacingAndGlyphs">Swing</tspan> <tspan x="954.5" textLength="46.5" lengthAdjust="spacingAndGlyphs">=</tspan> <tspan x="1016.0" textLength="36.0" lengthAdjust="spacingAndGlyphs">1</tspan> <tspan x="1065.5" textLength="65.9" lengthAdjust="spacingAndGlyphs">V</tspan></text>
<text y="1962.0" font-size="77" font-weight="bold" fill="#0000ff" ><tspan x="329.0" textLength="146.0" lengthAdjust="spacingAndGlyphs">Test</tspan> <tspan x="488.6" textLength="175.4" lengthAdjust="spacingAndGlyphs">Buffe</tspan><tspan x="673.0" textLength="35.5" lengthAdjust="spacingAndGlyphs">r</tspan> <tspan x="724.8" textLength="184.2" lengthAdjust="spacingAndGlyphs">Swing</tspan> <tspan x="944.0" textLength="48.0" lengthAdjust="spacingAndGlyphs">=</tspan> <tspan x="1007.8" textLength="115.2" lengthAdjust="spacingAndGlyphs">850</tspan> <tspan x="1148.0" textLength="118.0" lengthAdjust="spacingAndGlyphs">mV</tspan></text>
</g>
<text y="2370.9" font-size="70" font-weight="bold" fill="#000" ><tspan x="1027.7" textLength="142.6" lengthAdjust="spacingAndGlyphs">Time</tspan> <tspan x="1200.0" textLength="80.5" lengthAdjust="spacingAndGlyphs">(ns</tspan><tspan x="1285.7" textLength="21.3" lengthAdjust="spacingAndGlyphs">)</tspan></text>
<g transform="translate(119 2001.5) rotate(-90)"><text y="0.0" font-size="77" font-weight="bold" fill="#000" ><tspan x="0.0" textLength="235.0" lengthAdjust="spacingAndGlyphs">Voltage</tspan> <tspan x="258.5" textLength="96.5" lengthAdjust="spacingAndGlyphs">(V)</tspan></text></g>
<g fill="#000">
<polygon points="176.2,1363 189.9,1363 189.9,2290 176.2,2290"/>
<polygon points="182.7,1324.7 202.8,1364.6 163,1364.6"/>
<polygon points="182,2285.6 2044,2279 2044,2293 182,2299.3"/>
<polygon points="2083,2285.5 2042.9,2265.7 2042.9,2304.7"/>
</g>
</g>
</svg></body></html>
